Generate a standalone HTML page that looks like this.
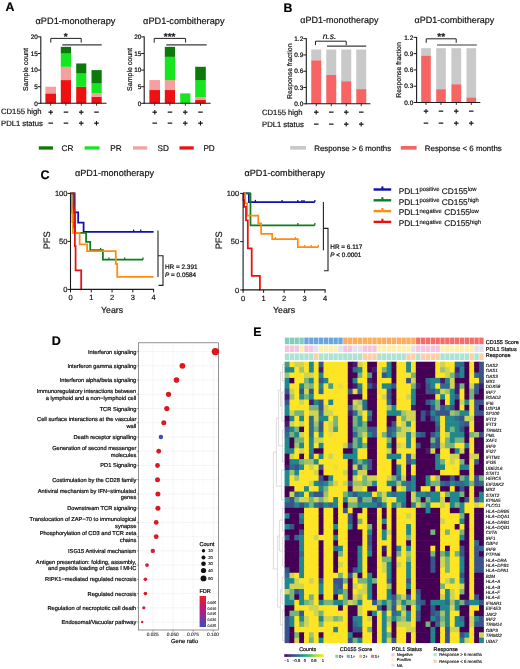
<!DOCTYPE html>
<html lang="en"><head><meta charset="utf-8"><title>Figure</title>
<style>html,body{margin:0;padding:0;background:#fff;}body{width:520px;height:669px;overflow:hidden;font-family:"Liberation Sans",Arial,sans-serif;}svg{display:block;}</style>
</head><body>
<svg width="520" height="669" viewBox="0 0 520 669" font-family="'Liberation Sans', Arial, sans-serif" text-rendering="geometricPrecision">
<defs>
<linearGradient id="fdr" x1="0" y1="0" x2="0" y2="1"><stop offset="0" stop-color="#ee1c2e"/><stop offset="0.5" stop-color="#b01c86"/><stop offset="1" stop-color="#3b4cc0"/></linearGradient>
<linearGradient id="vir" x1="0" y1="0" x2="1" y2="0"><stop offset="0.0" stop-color="#440154"/><stop offset="0.1" stop-color="#482878"/><stop offset="0.2" stop-color="#3e4a89"/><stop offset="0.3" stop-color="#31688e"/><stop offset="0.4" stop-color="#26828e"/><stop offset="0.5" stop-color="#1f9e89"/><stop offset="0.6" stop-color="#35b779"/><stop offset="0.7" stop-color="#6dcd59"/><stop offset="0.8" stop-color="#b4de2c"/><stop offset="0.9" stop-color="#dfe318"/><stop offset="1.0" stop-color="#fde725"/></linearGradient>
<filter id="hb" x="-2%" y="-2%" width="104%" height="104%"><feGaussianBlur stdDeviation="0.35"/></filter>
</defs>
<rect width="520" height="669" fill="#ffffff"/>
<text x="5.4" y="11.4" font-size="12.3" text-anchor="start" font-weight="bold" font-style="normal" fill="#000" stroke="#000" stroke-width="0.18" >A</text>
<rect x="45.4" y="93.34" width="10.6" height="10.01" fill="#ee1111" />
<rect x="45.4" y="86.7" width="10.6" height="6.69" fill="#f5a0a0" />
<rect x="60.8" y="80.06" width="10.2" height="23.29" fill="#ee1111" />
<rect x="60.8" y="66.78" width="10.2" height="13.33" fill="#f5a0a0" />
<rect x="60.8" y="53.5" width="10.2" height="13.33" fill="#15e61f" />
<rect x="60.8" y="46.86" width="10.2" height="6.69" fill="#0b7a0b" />
<rect x="76.2" y="86.7" width="10.1" height="16.65" fill="#ee1111" />
<rect x="76.2" y="73.42" width="10.1" height="13.33" fill="#15e61f" />
<rect x="76.2" y="63.46" width="10.1" height="10.01" fill="#0b7a0b" />
<rect x="91.5" y="96.66" width="10.2" height="6.69" fill="#ee1111" />
<rect x="91.5" y="93.34" width="10.2" height="3.37" fill="#f5a0a0" />
<rect x="91.5" y="83.38" width="10.2" height="10.01" fill="#15e61f" />
<rect x="91.5" y="70.1" width="10.2" height="13.33" fill="#0b7a0b" />
<line x1="40.8" y1="36.6" x2="40.8" y2="103.8" stroke="#1a1a1a" stroke-width="1.1" />
<line x1="40.3" y1="103.3" x2="106.5" y2="103.3" stroke="#1a1a1a" stroke-width="1.1" />
<line x1="37.8" y1="103.3" x2="40.8" y2="103.3" stroke="#1a1a1a" stroke-width="1.0" />
<text x="37.8" y="105.5" font-size="6.4" text-anchor="end" font-weight="normal" font-style="normal" fill="#111" stroke="#111" stroke-width="0.22" >0</text>
<line x1="37.8" y1="86.7" x2="40.8" y2="86.7" stroke="#1a1a1a" stroke-width="1.0" />
<text x="37.8" y="88.9" font-size="6.4" text-anchor="end" font-weight="normal" font-style="normal" fill="#111" stroke="#111" stroke-width="0.22" >5</text>
<line x1="37.8" y1="70.1" x2="40.8" y2="70.1" stroke="#1a1a1a" stroke-width="1.0" />
<text x="37.8" y="72.3" font-size="6.4" text-anchor="end" font-weight="normal" font-style="normal" fill="#111" stroke="#111" stroke-width="0.22" >10</text>
<line x1="37.8" y1="53.5" x2="40.8" y2="53.5" stroke="#1a1a1a" stroke-width="1.0" />
<text x="37.8" y="55.7" font-size="6.4" text-anchor="end" font-weight="normal" font-style="normal" fill="#111" stroke="#111" stroke-width="0.22" >15</text>
<line x1="37.8" y1="36.9" x2="40.8" y2="36.9" stroke="#1a1a1a" stroke-width="1.0" />
<text x="37.8" y="39.1" font-size="6.4" text-anchor="end" font-weight="normal" font-style="normal" fill="#111" stroke="#111" stroke-width="0.22" >20</text>
<line x1="50.7" y1="103.3" x2="50.7" y2="105.7" stroke="#1a1a1a" stroke-width="0.9" />
<line x1="65.9" y1="103.3" x2="65.9" y2="105.7" stroke="#1a1a1a" stroke-width="0.9" />
<line x1="81.25" y1="103.3" x2="81.25" y2="105.7" stroke="#1a1a1a" stroke-width="0.9" />
<line x1="96.6" y1="103.3" x2="96.6" y2="105.7" stroke="#1a1a1a" stroke-width="0.9" />
<text transform="translate(28.2 69.5) rotate(-90)" font-size="7.0" text-anchor="middle" fill="#111" stroke="#111" stroke-width="0.18">Sample count</text>
<text x="75.5" y="23.5" font-size="9.2" text-anchor="middle" font-weight="normal" font-style="normal" fill="#111" stroke="#111" stroke-width="0.18" >αPD1-monotherapy</text>
<path d="M50.8 42.6 V38.4 H81.2 V42.6" stroke="#222" stroke-width="1.0" fill="none" />
<text x="65.8" y="39.7" font-size="10" text-anchor="middle" font-weight="bold" font-style="normal" fill="#111" stroke="#111" stroke-width="0.18" >*</text>
<line x1="62.3" y1="44.8" x2="101.7" y2="44.8" stroke="#3a3a3a" stroke-width="1.2" />
<text x="50.7" y="114.7" font-size="8.5" text-anchor="middle" font-weight="bold" font-style="normal" fill="#111" stroke="#111" stroke-width="0.18" >+</text>
<text x="65.9" y="114.7" font-size="8.5" text-anchor="middle" font-weight="bold" font-style="normal" fill="#111" stroke="#111" stroke-width="0.18" >−</text>
<text x="81.25" y="114.7" font-size="8.5" text-anchor="middle" font-weight="bold" font-style="normal" fill="#111" stroke="#111" stroke-width="0.18" >+</text>
<text x="96.6" y="114.7" font-size="8.5" text-anchor="middle" font-weight="bold" font-style="normal" fill="#111" stroke="#111" stroke-width="0.18" >−</text>
<text x="50.7" y="126.4" font-size="8.5" text-anchor="middle" font-weight="bold" font-style="normal" fill="#111" stroke="#111" stroke-width="0.18" >−</text>
<text x="65.9" y="126.4" font-size="8.5" text-anchor="middle" font-weight="bold" font-style="normal" fill="#111" stroke="#111" stroke-width="0.18" >−</text>
<text x="81.25" y="126.4" font-size="8.5" text-anchor="middle" font-weight="bold" font-style="normal" fill="#111" stroke="#111" stroke-width="0.18" >+</text>
<text x="96.6" y="126.4" font-size="8.5" text-anchor="middle" font-weight="bold" font-style="normal" fill="#111" stroke="#111" stroke-width="0.18" >+</text>
<rect x="149.4" y="90.02" width="10.6" height="13.33" fill="#ee1111" />
<rect x="149.4" y="80.06" width="10.6" height="10.01" fill="#f5a0a0" />
<rect x="164.8" y="90.02" width="10.2" height="13.33" fill="#ee1111" />
<rect x="164.8" y="80.06" width="10.2" height="10.01" fill="#f5a0a0" />
<rect x="164.8" y="56.82" width="10.2" height="23.29" fill="#15e61f" />
<rect x="164.8" y="46.86" width="10.2" height="10.01" fill="#0b7a0b" />
<rect x="180.2" y="93.34" width="10.2" height="10.01" fill="#15e61f" />
<rect x="195.2" y="99.98" width="10.6" height="3.37" fill="#ee1111" />
<rect x="195.2" y="97.32" width="10.6" height="2.71" fill="#f5a0a0" />
<rect x="195.2" y="80.06" width="10.6" height="17.31" fill="#15e61f" />
<rect x="195.2" y="66.78" width="10.6" height="13.33" fill="#0b7a0b" />
<line x1="144.2" y1="36.6" x2="144.2" y2="103.8" stroke="#1a1a1a" stroke-width="1.1" />
<line x1="143.7" y1="103.3" x2="210.6" y2="103.3" stroke="#1a1a1a" stroke-width="1.1" />
<line x1="141.2" y1="103.3" x2="144.2" y2="103.3" stroke="#1a1a1a" stroke-width="1.0" />
<text x="141.3" y="105.5" font-size="6.4" text-anchor="end" font-weight="normal" font-style="normal" fill="#111" stroke="#111" stroke-width="0.22" >0</text>
<line x1="141.2" y1="86.7" x2="144.2" y2="86.7" stroke="#1a1a1a" stroke-width="1.0" />
<text x="141.3" y="88.9" font-size="6.4" text-anchor="end" font-weight="normal" font-style="normal" fill="#111" stroke="#111" stroke-width="0.22" >5</text>
<line x1="141.2" y1="70.1" x2="144.2" y2="70.1" stroke="#1a1a1a" stroke-width="1.0" />
<text x="141.3" y="72.3" font-size="6.4" text-anchor="end" font-weight="normal" font-style="normal" fill="#111" stroke="#111" stroke-width="0.22" >10</text>
<line x1="141.2" y1="53.5" x2="144.2" y2="53.5" stroke="#1a1a1a" stroke-width="1.0" />
<text x="141.3" y="55.7" font-size="6.4" text-anchor="end" font-weight="normal" font-style="normal" fill="#111" stroke="#111" stroke-width="0.22" >15</text>
<line x1="141.2" y1="36.9" x2="144.2" y2="36.9" stroke="#1a1a1a" stroke-width="1.0" />
<text x="141.3" y="39.1" font-size="6.4" text-anchor="end" font-weight="normal" font-style="normal" fill="#111" stroke="#111" stroke-width="0.22" >20</text>
<line x1="154.7" y1="103.3" x2="154.7" y2="105.7" stroke="#1a1a1a" stroke-width="0.9" />
<line x1="169.9" y1="103.3" x2="169.9" y2="105.7" stroke="#1a1a1a" stroke-width="0.9" />
<line x1="185.3" y1="103.3" x2="185.3" y2="105.7" stroke="#1a1a1a" stroke-width="0.9" />
<line x1="200.5" y1="103.3" x2="200.5" y2="105.7" stroke="#1a1a1a" stroke-width="0.9" />
<text transform="translate(131.6 69.5) rotate(-90)" font-size="7.0" text-anchor="middle" fill="#111" stroke="#111" stroke-width="0.18">Sample count</text>
<text x="183.8" y="23.5" font-size="9.2" text-anchor="middle" font-weight="normal" font-style="normal" fill="#111" stroke="#111" stroke-width="0.18" >αPD1-combitherapy</text>
<path d="M154.2 42.6 V38.4 H185.6 V42.6" stroke="#222" stroke-width="1.0" fill="none" />
<text x="169.6" y="39.7" font-size="10" text-anchor="middle" font-weight="bold" font-style="normal" fill="#111" stroke="#111" stroke-width="0.18" >***</text>
<line x1="166.3" y1="44.8" x2="206.7" y2="44.8" stroke="#3a3a3a" stroke-width="1.2" />
<text x="154.7" y="114.7" font-size="8.5" text-anchor="middle" font-weight="bold" font-style="normal" fill="#111" stroke="#111" stroke-width="0.18" >+</text>
<text x="169.9" y="114.7" font-size="8.5" text-anchor="middle" font-weight="bold" font-style="normal" fill="#111" stroke="#111" stroke-width="0.18" >−</text>
<text x="185.3" y="114.7" font-size="8.5" text-anchor="middle" font-weight="bold" font-style="normal" fill="#111" stroke="#111" stroke-width="0.18" >+</text>
<text x="200.5" y="114.7" font-size="8.5" text-anchor="middle" font-weight="bold" font-style="normal" fill="#111" stroke="#111" stroke-width="0.18" >−</text>
<text x="154.7" y="126.4" font-size="8.5" text-anchor="middle" font-weight="bold" font-style="normal" fill="#111" stroke="#111" stroke-width="0.18" >−</text>
<text x="169.9" y="126.4" font-size="8.5" text-anchor="middle" font-weight="bold" font-style="normal" fill="#111" stroke="#111" stroke-width="0.18" >−</text>
<text x="185.3" y="126.4" font-size="8.5" text-anchor="middle" font-weight="bold" font-style="normal" fill="#111" stroke="#111" stroke-width="0.18" >+</text>
<text x="200.5" y="126.4" font-size="8.5" text-anchor="middle" font-weight="bold" font-style="normal" fill="#111" stroke="#111" stroke-width="0.18" >+</text>
<text x="1" y="114.4" font-size="7.7" text-anchor="start" font-weight="normal" font-style="normal" fill="#111" stroke="#111" stroke-width="0.18" >CD155 high</text>
<text x="1" y="126.4" font-size="7.7" text-anchor="start" font-weight="normal" font-style="normal" fill="#111" stroke="#111" stroke-width="0.18" >PDL1 status</text>
<rect x="38.8" y="146.3" width="14.2" height="3.3" fill="#0b7a0b" />
<text x="61.6" y="151.2" font-size="8.2" text-anchor="start" font-weight="normal" font-style="normal" fill="#111" stroke="#111" stroke-width="0.18" >CR</text>
<rect x="84.6" y="146.3" width="15" height="3.3" fill="#15e61f" />
<text x="110.2" y="151.2" font-size="8.2" text-anchor="start" font-weight="normal" font-style="normal" fill="#111" stroke="#111" stroke-width="0.18" >PR</text>
<rect x="133" y="146.3" width="14.2" height="3.3" fill="#f5a0a0" />
<text x="157.6" y="151.2" font-size="8.2" text-anchor="start" font-weight="normal" font-style="normal" fill="#111" stroke="#111" stroke-width="0.18" >SD</text>
<rect x="179.5" y="146.3" width="14.2" height="3.3" fill="#ee1111" />
<text x="203.4" y="151.2" font-size="8.2" text-anchor="start" font-weight="normal" font-style="normal" fill="#111" stroke="#111" stroke-width="0.18" >PD</text>
<text x="283.4" y="11.8" font-size="12.3" text-anchor="start" font-weight="bold" font-style="normal" fill="#000" stroke="#000" stroke-width="0.18" >B</text>
<rect x="311.25" y="49.5" width="10" height="10.96" fill="#c9c9c9" />
<rect x="311.25" y="60.36" width="10" height="43.44" fill="#f76464" />
<rect x="326.25" y="49.5" width="10" height="25.62" fill="#c9c9c9" />
<rect x="326.25" y="75.02" width="10" height="28.78" fill="#f76464" />
<rect x="341.25" y="49.5" width="10" height="31.87" fill="#c9c9c9" />
<rect x="341.25" y="81.27" width="10" height="22.53" fill="#f76464" />
<rect x="356.25" y="49.5" width="10" height="39.74" fill="#c9c9c9" />
<rect x="356.25" y="89.14" width="10" height="14.66" fill="#f76464" />
<line x1="306.3" y1="38.24" x2="306.3" y2="104.3" stroke="#1a1a1a" stroke-width="1.1" />
<line x1="305.8" y1="103.8" x2="370.45" y2="103.8" stroke="#1a1a1a" stroke-width="1.1" />
<line x1="303.3" y1="103.8" x2="306.3" y2="103.8" stroke="#1a1a1a" stroke-width="1.0" />
<text x="303.2" y="106" font-size="6.4" text-anchor="end" font-weight="normal" font-style="normal" fill="#111" stroke="#111" stroke-width="0.22" >0.0</text>
<line x1="303.3" y1="87.51" x2="306.3" y2="87.51" stroke="#1a1a1a" stroke-width="1.0" />
<text x="303.2" y="89.71" font-size="6.4" text-anchor="end" font-weight="normal" font-style="normal" fill="#111" stroke="#111" stroke-width="0.22" >0.3</text>
<line x1="303.3" y1="71.22" x2="306.3" y2="71.22" stroke="#1a1a1a" stroke-width="1.0" />
<text x="303.2" y="73.42" font-size="6.4" text-anchor="end" font-weight="normal" font-style="normal" fill="#111" stroke="#111" stroke-width="0.22" >0.6</text>
<line x1="303.3" y1="54.93" x2="306.3" y2="54.93" stroke="#1a1a1a" stroke-width="1.0" />
<text x="303.2" y="57.13" font-size="6.4" text-anchor="end" font-weight="normal" font-style="normal" fill="#111" stroke="#111" stroke-width="0.22" >0.9</text>
<line x1="303.3" y1="38.64" x2="306.3" y2="38.64" stroke="#1a1a1a" stroke-width="1.0" />
<text x="303.2" y="40.84" font-size="6.4" text-anchor="end" font-weight="normal" font-style="normal" fill="#111" stroke="#111" stroke-width="0.22" >1.2</text>
<line x1="316.25" y1="103.8" x2="316.25" y2="106.2" stroke="#1a1a1a" stroke-width="0.9" />
<line x1="331.25" y1="103.8" x2="331.25" y2="106.2" stroke="#1a1a1a" stroke-width="0.9" />
<line x1="346.25" y1="103.8" x2="346.25" y2="106.2" stroke="#1a1a1a" stroke-width="0.9" />
<line x1="361.25" y1="103.8" x2="361.25" y2="106.2" stroke="#1a1a1a" stroke-width="0.9" />
<text transform="translate(292.4 71.3) rotate(-90)" font-size="6.9" text-anchor="middle" fill="#111" stroke="#111" stroke-width="0.18">Response fraction</text>
<text x="339.3" y="23" font-size="9.0" text-anchor="middle" font-weight="normal" font-style="normal" fill="#111" stroke="#111" stroke-width="0.18" >αPD1-monotherapy</text>
<path d="M315.5 45.2 V41.2 H346.2 V45.2" stroke="#222" stroke-width="1.0" fill="none" />
<text x="329.5" y="39" font-size="8.5" text-anchor="middle" font-weight="normal" font-style="italic" fill="#111" stroke="#111" stroke-width="0.18" >n.s.</text>
<line x1="327" y1="46.2" x2="366.2" y2="46.2" stroke="#3a3a3a" stroke-width="1.2" />
<text x="316.25" y="115.2" font-size="8.5" text-anchor="middle" font-weight="bold" font-style="normal" fill="#111" stroke="#111" stroke-width="0.18" >+</text>
<text x="331.25" y="115.2" font-size="8.5" text-anchor="middle" font-weight="bold" font-style="normal" fill="#111" stroke="#111" stroke-width="0.18" >−</text>
<text x="346.25" y="115.2" font-size="8.5" text-anchor="middle" font-weight="bold" font-style="normal" fill="#111" stroke="#111" stroke-width="0.18" >+</text>
<text x="361.25" y="115.2" font-size="8.5" text-anchor="middle" font-weight="bold" font-style="normal" fill="#111" stroke="#111" stroke-width="0.18" >−</text>
<text x="316.25" y="126.8" font-size="8.5" text-anchor="middle" font-weight="bold" font-style="normal" fill="#111" stroke="#111" stroke-width="0.18" >−</text>
<text x="331.25" y="126.8" font-size="8.5" text-anchor="middle" font-weight="bold" font-style="normal" fill="#111" stroke="#111" stroke-width="0.18" >−</text>
<text x="346.25" y="126.8" font-size="8.5" text-anchor="middle" font-weight="bold" font-style="normal" fill="#111" stroke="#111" stroke-width="0.18" >+</text>
<text x="361.25" y="126.8" font-size="8.5" text-anchor="middle" font-weight="bold" font-style="normal" fill="#111" stroke="#111" stroke-width="0.18" >+</text>
<rect x="421.2" y="48.2" width="9.6" height="7.7" fill="#c9c9c9" />
<rect x="421.2" y="55.8" width="9.6" height="46.7" fill="#f76464" />
<rect x="436.2" y="48.2" width="9.6" height="41.1" fill="#c9c9c9" />
<rect x="436.2" y="89.2" width="9.6" height="13.3" fill="#f76464" />
<rect x="451.4" y="48.2" width="9.8" height="36.21" fill="#c9c9c9" />
<rect x="451.4" y="84.31" width="9.8" height="18.19" fill="#f76464" />
<rect x="466.5" y="48.2" width="9.6" height="49.51" fill="#c9c9c9" />
<rect x="466.5" y="97.61" width="9.6" height="4.89" fill="#f76464" />
<line x1="416.6" y1="36.94" x2="416.6" y2="103" stroke="#1a1a1a" stroke-width="1.1" />
<line x1="416.1" y1="102.5" x2="480.3" y2="102.5" stroke="#1a1a1a" stroke-width="1.1" />
<line x1="413.6" y1="102.5" x2="416.6" y2="102.5" stroke="#1a1a1a" stroke-width="1.0" />
<text x="413.2" y="104.7" font-size="6.4" text-anchor="end" font-weight="normal" font-style="normal" fill="#111" stroke="#111" stroke-width="0.22" >0.0</text>
<line x1="413.6" y1="86.21" x2="416.6" y2="86.21" stroke="#1a1a1a" stroke-width="1.0" />
<text x="413.2" y="88.41" font-size="6.4" text-anchor="end" font-weight="normal" font-style="normal" fill="#111" stroke="#111" stroke-width="0.22" >0.3</text>
<line x1="413.6" y1="69.92" x2="416.6" y2="69.92" stroke="#1a1a1a" stroke-width="1.0" />
<text x="413.2" y="72.12" font-size="6.4" text-anchor="end" font-weight="normal" font-style="normal" fill="#111" stroke="#111" stroke-width="0.22" >0.6</text>
<line x1="413.6" y1="53.63" x2="416.6" y2="53.63" stroke="#1a1a1a" stroke-width="1.0" />
<text x="413.2" y="55.83" font-size="6.4" text-anchor="end" font-weight="normal" font-style="normal" fill="#111" stroke="#111" stroke-width="0.22" >0.9</text>
<line x1="413.6" y1="37.34" x2="416.6" y2="37.34" stroke="#1a1a1a" stroke-width="1.0" />
<text x="413.2" y="39.54" font-size="6.4" text-anchor="end" font-weight="normal" font-style="normal" fill="#111" stroke="#111" stroke-width="0.22" >1.2</text>
<line x1="426" y1="102.5" x2="426" y2="104.9" stroke="#1a1a1a" stroke-width="0.9" />
<line x1="441" y1="102.5" x2="441" y2="104.9" stroke="#1a1a1a" stroke-width="0.9" />
<line x1="456.3" y1="102.5" x2="456.3" y2="104.9" stroke="#1a1a1a" stroke-width="0.9" />
<line x1="471.3" y1="102.5" x2="471.3" y2="104.9" stroke="#1a1a1a" stroke-width="0.9" />
<text transform="translate(401.2 70) rotate(-90)" font-size="6.9" text-anchor="middle" fill="#111" stroke="#111" stroke-width="0.18">Response fraction</text>
<text x="454.4" y="23" font-size="9.0" text-anchor="middle" font-weight="normal" font-style="normal" fill="#111" stroke="#111" stroke-width="0.18" >αPD1-combitherapy</text>
<path d="M426.2 42.8 V38.8 H456.2 V42.8" stroke="#222" stroke-width="1.0" fill="none" />
<text x="441.2" y="39.7" font-size="10" text-anchor="middle" font-weight="bold" font-style="normal" fill="#111" stroke="#111" stroke-width="0.18" >**</text>
<line x1="437" y1="45" x2="476.8" y2="45" stroke="#3a3a3a" stroke-width="1.2" />
<text x="426" y="114.2" font-size="8.5" text-anchor="middle" font-weight="bold" font-style="normal" fill="#111" stroke="#111" stroke-width="0.18" >+</text>
<text x="441" y="114.2" font-size="8.5" text-anchor="middle" font-weight="bold" font-style="normal" fill="#111" stroke="#111" stroke-width="0.18" >−</text>
<text x="456.3" y="114.2" font-size="8.5" text-anchor="middle" font-weight="bold" font-style="normal" fill="#111" stroke="#111" stroke-width="0.18" >+</text>
<text x="471.3" y="114.2" font-size="8.5" text-anchor="middle" font-weight="bold" font-style="normal" fill="#111" stroke="#111" stroke-width="0.18" >−</text>
<text x="426" y="126" font-size="8.5" text-anchor="middle" font-weight="bold" font-style="normal" fill="#111" stroke="#111" stroke-width="0.18" >−</text>
<text x="441" y="126" font-size="8.5" text-anchor="middle" font-weight="bold" font-style="normal" fill="#111" stroke="#111" stroke-width="0.18" >−</text>
<text x="456.3" y="126" font-size="8.5" text-anchor="middle" font-weight="bold" font-style="normal" fill="#111" stroke="#111" stroke-width="0.18" >+</text>
<text x="471.3" y="126" font-size="8.5" text-anchor="middle" font-weight="bold" font-style="normal" fill="#111" stroke="#111" stroke-width="0.18" >+</text>
<text x="262" y="115" font-size="7.7" text-anchor="start" font-weight="normal" font-style="normal" fill="#111" stroke="#111" stroke-width="0.18" >CD155 high</text>
<text x="262" y="127" font-size="7.7" text-anchor="start" font-weight="normal" font-style="normal" fill="#111" stroke="#111" stroke-width="0.18" >PDL1 status</text>
<rect x="290.2" y="146" width="15.8" height="3.7" fill="#c9c9c9" />
<text x="314.2" y="151" font-size="7.9" text-anchor="start" font-weight="normal" font-style="normal" fill="#111" stroke="#111" stroke-width="0.18" >Response &gt; 6 months</text>
<rect x="400.8" y="146" width="15.8" height="3.7" fill="#f76464" />
<text x="424.8" y="151" font-size="7.9" text-anchor="start" font-weight="normal" font-style="normal" fill="#111" stroke="#111" stroke-width="0.18" >Response &lt; 6 months</text>
<text x="40.5" y="178.8" font-size="12.5" text-anchor="start" font-weight="bold" font-style="normal" fill="#000" stroke="#000" stroke-width="0.18" >C</text>
<path d="M70.5 193.4 H74.65 V212.31 H78.18 V222.58 H83.59 V231.8 H153.58" stroke="#1111aa" stroke-width="1.75" fill="none" stroke-linejoin="miter"/>
<line x1="133.64" y1="231.8" x2="133.64" y2="229.6" stroke="#1111aa" stroke-width="1.3" />
<line x1="140.7" y1="231.8" x2="140.7" y2="229.6" stroke="#1111aa" stroke-width="1.3" />
<path d="M70.5 193.4 H73.41 V212.6 H75.07 V232.76 H86.08 V241.78 H90.23 V250.04 H102.9 V259.64 H142.99" stroke="#0f7d1a" stroke-width="1.75" fill="none" stroke-linejoin="miter"/>
<line x1="100.62" y1="250.04" x2="100.62" y2="247.84" stroke="#0f7d1a" stroke-width="1.3" />
<line x1="108.92" y1="259.64" x2="108.92" y2="257.44" stroke="#0f7d1a" stroke-width="1.3" />
<line x1="124.71" y1="259.64" x2="124.71" y2="257.44" stroke="#0f7d1a" stroke-width="1.3" />
<line x1="142.99" y1="259.64" x2="142.99" y2="257.44" stroke="#0f7d1a" stroke-width="1.3" />
<path d="M70.5 193.4 H71.12 V203 H71.75 V212.6 H72.37 V222.2 H72.99 V232.76 H79.64 V244.28 H87.12 V251 H115.78 V263.86 H117.23 V276.92 H153.58" stroke="#ff8c10" stroke-width="1.75" fill="none" stroke-linejoin="miter"/>
<path d="M70.5 193.4 H73.62 V207.8 H74.24 V227 H74.86 V246.2 H75.59 V270.49 H81.2 V289.4 H81.3" stroke="#e81010" stroke-width="1.75" fill="none" stroke-linejoin="miter"/>
<line x1="70.5" y1="192.9" x2="70.5" y2="289.9" stroke="#1a1a1a" stroke-width="1.1" />
<line x1="70" y1="289.4" x2="154.08" y2="289.4" stroke="#1a1a1a" stroke-width="1.1" />
<line x1="67.5" y1="289.4" x2="70.5" y2="289.4" stroke="#1a1a1a" stroke-width="1.0" />
<text x="67.4" y="292" font-size="7.5" text-anchor="end" font-weight="normal" font-style="normal" fill="#111" stroke="#111" stroke-width="0.18" >0</text>
<line x1="67.5" y1="241.4" x2="70.5" y2="241.4" stroke="#1a1a1a" stroke-width="1.0" />
<text x="67.4" y="244" font-size="7.5" text-anchor="end" font-weight="normal" font-style="normal" fill="#111" stroke="#111" stroke-width="0.18" >50</text>
<line x1="67.5" y1="193.4" x2="70.5" y2="193.4" stroke="#1a1a1a" stroke-width="1.0" />
<text x="67.4" y="196" font-size="7.5" text-anchor="end" font-weight="normal" font-style="normal" fill="#111" stroke="#111" stroke-width="0.18" >100</text>
<line x1="70.5" y1="289.4" x2="70.5" y2="292.4" stroke="#1a1a1a" stroke-width="1.0" />
<text x="70.5" y="300" font-size="7.5" text-anchor="middle" font-weight="normal" font-style="normal" fill="#111" stroke="#111" stroke-width="0.18" >0</text>
<line x1="91.27" y1="289.4" x2="91.27" y2="292.4" stroke="#1a1a1a" stroke-width="1.0" />
<text x="91.27" y="300" font-size="7.5" text-anchor="middle" font-weight="normal" font-style="normal" fill="#111" stroke="#111" stroke-width="0.18" >1</text>
<line x1="112.04" y1="289.4" x2="112.04" y2="292.4" stroke="#1a1a1a" stroke-width="1.0" />
<text x="112.04" y="300" font-size="7.5" text-anchor="middle" font-weight="normal" font-style="normal" fill="#111" stroke="#111" stroke-width="0.18" >2</text>
<line x1="132.81" y1="289.4" x2="132.81" y2="292.4" stroke="#1a1a1a" stroke-width="1.0" />
<text x="132.81" y="300" font-size="7.5" text-anchor="middle" font-weight="normal" font-style="normal" fill="#111" stroke="#111" stroke-width="0.18" >3</text>
<line x1="153.58" y1="289.4" x2="153.58" y2="292.4" stroke="#1a1a1a" stroke-width="1.0" />
<text x="153.58" y="300" font-size="7.5" text-anchor="middle" font-weight="normal" font-style="normal" fill="#111" stroke="#111" stroke-width="0.18" >4</text>
<text x="112.04" y="312.9" font-size="8.8" text-anchor="middle" font-weight="normal" font-style="normal" fill="#111" stroke="#111" stroke-width="0.18" >Years</text>
<text transform="translate(49.5 240.3) rotate(-90)" font-size="9.3" text-anchor="middle" fill="#111" stroke="#111" stroke-width="0.18">PFS</text>
<text x="114.5" y="176" font-size="9.1" text-anchor="middle" font-weight="normal" font-style="normal" fill="#111" stroke="#111" stroke-width="0.18" >αPD1-monotherapy</text>
<path d="M243.1 193.4 H248.84 V202.08 H314.85" stroke="#1111aa" stroke-width="1.75" fill="none" stroke-linejoin="miter"/>
<line x1="255.4" y1="202.08" x2="255.4" y2="199.88" stroke="#1111aa" stroke-width="1.3" />
<line x1="282.05" y1="202.08" x2="282.05" y2="199.88" stroke="#1111aa" stroke-width="1.3" />
<line x1="297.83" y1="202.08" x2="297.83" y2="199.88" stroke="#1111aa" stroke-width="1.3" />
<line x1="301.94" y1="202.08" x2="301.94" y2="199.88" stroke="#1111aa" stroke-width="1.3" />
<line x1="303.99" y1="202.08" x2="303.99" y2="199.88" stroke="#1111aa" stroke-width="1.3" />
<line x1="314.85" y1="202.08" x2="314.85" y2="199.88" stroke="#1111aa" stroke-width="1.3" />
<path d="M243.1 193.4 H250.48 V225.25 H314.85" stroke="#0f7d1a" stroke-width="1.75" fill="none" stroke-linejoin="miter"/>
<line x1="297.83" y1="225.25" x2="297.83" y2="223.05" stroke="#0f7d1a" stroke-width="1.3" />
<line x1="314.85" y1="225.25" x2="314.85" y2="223.05" stroke="#0f7d1a" stroke-width="1.3" />
<path d="M243.1 193.4 H245.15 V203.05 H247.2 V215.59 H258.27 V223.31 H261.14 V233.93 H272.21 V239.14 H297.83 V247.05 H318.33" stroke="#ff8c10" stroke-width="1.75" fill="none" stroke-linejoin="miter"/>
<line x1="275.49" y1="239.14" x2="275.49" y2="236.94" stroke="#ff8c10" stroke-width="1.3" />
<line x1="295.38" y1="239.14" x2="295.38" y2="236.94" stroke="#ff8c10" stroke-width="1.3" />
<line x1="304.6" y1="247.05" x2="304.6" y2="244.85" stroke="#ff8c10" stroke-width="1.3" />
<line x1="311.16" y1="247.05" x2="311.16" y2="244.85" stroke="#ff8c10" stroke-width="1.3" />
<line x1="318.33" y1="247.05" x2="318.33" y2="244.85" stroke="#ff8c10" stroke-width="1.3" />
<path d="M243.1 193.4 H243.51 V200.16 H244.12 V206.91 H245.97 V220.42 H247.81 V248.4 H251.71 V275.91 H259.91 V289.9 H260.32" stroke="#e81010" stroke-width="1.75" fill="none" stroke-linejoin="miter"/>
<line x1="243.1" y1="192.9" x2="243.1" y2="290.4" stroke="#1a1a1a" stroke-width="1.1" />
<line x1="242.6" y1="289.9" x2="325.6" y2="289.9" stroke="#1a1a1a" stroke-width="1.1" />
<line x1="240.1" y1="289.9" x2="243.1" y2="289.9" stroke="#1a1a1a" stroke-width="1.0" />
<text x="239.2" y="292.5" font-size="7.5" text-anchor="end" font-weight="normal" font-style="normal" fill="#111" stroke="#111" stroke-width="0.18" >0</text>
<line x1="240.1" y1="241.65" x2="243.1" y2="241.65" stroke="#1a1a1a" stroke-width="1.0" />
<text x="239.2" y="244.25" font-size="7.5" text-anchor="end" font-weight="normal" font-style="normal" fill="#111" stroke="#111" stroke-width="0.18" >50</text>
<line x1="240.1" y1="193.4" x2="243.1" y2="193.4" stroke="#1a1a1a" stroke-width="1.0" />
<text x="239.2" y="196" font-size="7.5" text-anchor="end" font-weight="normal" font-style="normal" fill="#111" stroke="#111" stroke-width="0.18" >100</text>
<line x1="243.1" y1="289.9" x2="243.1" y2="292.9" stroke="#1a1a1a" stroke-width="1.0" />
<text x="243.1" y="300.5" font-size="7.5" text-anchor="middle" font-weight="normal" font-style="normal" fill="#111" stroke="#111" stroke-width="0.18" >0</text>
<line x1="263.6" y1="289.9" x2="263.6" y2="292.9" stroke="#1a1a1a" stroke-width="1.0" />
<text x="263.6" y="300.5" font-size="7.5" text-anchor="middle" font-weight="normal" font-style="normal" fill="#111" stroke="#111" stroke-width="0.18" >1</text>
<line x1="284.1" y1="289.9" x2="284.1" y2="292.9" stroke="#1a1a1a" stroke-width="1.0" />
<text x="284.1" y="300.5" font-size="7.5" text-anchor="middle" font-weight="normal" font-style="normal" fill="#111" stroke="#111" stroke-width="0.18" >2</text>
<line x1="304.6" y1="289.9" x2="304.6" y2="292.9" stroke="#1a1a1a" stroke-width="1.0" />
<text x="304.6" y="300.5" font-size="7.5" text-anchor="middle" font-weight="normal" font-style="normal" fill="#111" stroke="#111" stroke-width="0.18" >3</text>
<line x1="325.1" y1="289.9" x2="325.1" y2="292.9" stroke="#1a1a1a" stroke-width="1.0" />
<text x="325.1" y="300.5" font-size="7.5" text-anchor="middle" font-weight="normal" font-style="normal" fill="#111" stroke="#111" stroke-width="0.18" >4</text>
<text x="284.1" y="313.4" font-size="8.8" text-anchor="middle" font-weight="normal" font-style="normal" fill="#111" stroke="#111" stroke-width="0.18" >Years</text>
<text transform="translate(221.5 240.3) rotate(-90)" font-size="9.3" text-anchor="middle" fill="#111" stroke="#111" stroke-width="0.18">PFS</text>
<text x="284.8" y="176" font-size="9.1" text-anchor="middle" font-weight="normal" font-style="normal" fill="#111" stroke="#111" stroke-width="0.18" >αPD1-combitherapy</text>
<line x1="158" y1="230.5" x2="158" y2="277" stroke="#222" stroke-width="1.1" />
<path d="M158 255.7 H163 V285.4 H158.5" stroke="#222" stroke-width="1.1" fill="none" />
<text x="165" y="268.6" font-size="6.4" text-anchor="start" font-weight="normal" font-style="normal" fill="#111" stroke="#111" stroke-width="0.22" >HR = 2.391</text>
<text x="165" y="277.4" font-size="6.4" fill="#111" stroke="#111" stroke-width="0.22"><tspan font-style="italic">P</tspan> = 0.0584</text>
<line x1="323.4" y1="202" x2="323.4" y2="250.2" stroke="#222" stroke-width="1.1" />
<path d="M323.4 228.4 H328 V270.7 H324" stroke="#222" stroke-width="1.1" fill="none" />
<text x="330.3" y="248.6" font-size="6.4" text-anchor="start" font-weight="normal" font-style="normal" fill="#111" stroke="#111" stroke-width="0.22" >HR = 6.117</text>
<text x="330.3" y="257.3" font-size="6.4" fill="#111" stroke="#111" stroke-width="0.22"><tspan font-style="italic">P</tspan> &lt; 0.0001</text>
<line x1="373.6" y1="189.5" x2="391.2" y2="189.5" stroke="#1111aa" stroke-width="2.4" />
<line x1="382.4" y1="189.5" x2="382.4" y2="186.4" stroke="#1111aa" stroke-width="2.1" />
<text x="398.8" y="193.7" font-size="8.3" fill="#111" stroke="#111" stroke-width="0.15">PDL1<tspan font-size="5.9" dy="-2.6">positive</tspan><tspan dy="2.6"> CD155</tspan><tspan font-size="5.9" dy="-2.6">low</tspan></text>
<line x1="373.6" y1="200.3" x2="391.2" y2="200.3" stroke="#0f7d1a" stroke-width="2.4" />
<line x1="382.4" y1="200.3" x2="382.4" y2="197.2" stroke="#0f7d1a" stroke-width="2.1" />
<text x="398.8" y="204.5" font-size="8.3" fill="#111" stroke="#111" stroke-width="0.15">PDL1<tspan font-size="5.9" dy="-2.6">positive</tspan><tspan dy="2.6"> CD155</tspan><tspan font-size="5.9" dy="-2.6">high</tspan></text>
<line x1="373.6" y1="211.1" x2="391.2" y2="211.1" stroke="#ff8c10" stroke-width="2.4" />
<line x1="382.4" y1="211.1" x2="382.4" y2="208" stroke="#ff8c10" stroke-width="2.1" />
<text x="398.8" y="215.3" font-size="8.3" fill="#111" stroke="#111" stroke-width="0.15">PDL1<tspan font-size="5.9" dy="-2.6">negative</tspan><tspan dy="2.6"> CD155</tspan><tspan font-size="5.9" dy="-2.6">low</tspan></text>
<line x1="373.6" y1="221.9" x2="391.2" y2="221.9" stroke="#e81010" stroke-width="2.4" />
<line x1="382.4" y1="221.9" x2="382.4" y2="218.8" stroke="#e81010" stroke-width="2.1" />
<text x="398.8" y="226.1" font-size="8.3" fill="#111" stroke="#111" stroke-width="0.15">PDL1<tspan font-size="5.9" dy="-2.6">negative</tspan><tspan dy="2.6"> CD155</tspan><tspan font-size="5.9" dy="-2.6">high</tspan></text>
<text x="51.8" y="344.7" font-size="12.5" text-anchor="start" font-weight="bold" font-style="normal" fill="#000" stroke="#000" stroke-width="0.18" >D</text>
<rect x="138.5" y="342.8" width="80" height="287.2" fill="#ffffff" />
<line x1="142.95" y1="342.8" x2="142.95" y2="630" stroke="#f5f5f5" stroke-width="0.4" />
<line x1="163.05" y1="342.8" x2="163.05" y2="630" stroke="#f5f5f5" stroke-width="0.4" />
<line x1="183.15" y1="342.8" x2="183.15" y2="630" stroke="#f5f5f5" stroke-width="0.4" />
<line x1="203.25" y1="342.8" x2="203.25" y2="630" stroke="#f5f5f5" stroke-width="0.4" />
<line x1="153" y1="342.8" x2="153" y2="630" stroke="#eeeeee" stroke-width="0.6" />
<line x1="173.1" y1="342.8" x2="173.1" y2="630" stroke="#eeeeee" stroke-width="0.6" />
<line x1="193.2" y1="342.8" x2="193.2" y2="630" stroke="#eeeeee" stroke-width="0.6" />
<line x1="213.3" y1="342.8" x2="213.3" y2="630" stroke="#eeeeee" stroke-width="0.6" />
<line x1="138.5" y1="351.6" x2="218.5" y2="351.6" stroke="#eeeeee" stroke-width="0.6" />
<line x1="138.5" y1="365.84" x2="218.5" y2="365.84" stroke="#eeeeee" stroke-width="0.6" />
<line x1="138.5" y1="380.07" x2="218.5" y2="380.07" stroke="#eeeeee" stroke-width="0.6" />
<line x1="138.5" y1="394.31" x2="218.5" y2="394.31" stroke="#eeeeee" stroke-width="0.6" />
<line x1="138.5" y1="408.54" x2="218.5" y2="408.54" stroke="#eeeeee" stroke-width="0.6" />
<line x1="138.5" y1="422.78" x2="218.5" y2="422.78" stroke="#eeeeee" stroke-width="0.6" />
<line x1="138.5" y1="437.01" x2="218.5" y2="437.01" stroke="#eeeeee" stroke-width="0.6" />
<line x1="138.5" y1="451.25" x2="218.5" y2="451.25" stroke="#eeeeee" stroke-width="0.6" />
<line x1="138.5" y1="465.48" x2="218.5" y2="465.48" stroke="#eeeeee" stroke-width="0.6" />
<line x1="138.5" y1="479.72" x2="218.5" y2="479.72" stroke="#eeeeee" stroke-width="0.6" />
<line x1="138.5" y1="493.95" x2="218.5" y2="493.95" stroke="#eeeeee" stroke-width="0.6" />
<line x1="138.5" y1="508.19" x2="218.5" y2="508.19" stroke="#eeeeee" stroke-width="0.6" />
<line x1="138.5" y1="522.42" x2="218.5" y2="522.42" stroke="#eeeeee" stroke-width="0.6" />
<line x1="138.5" y1="536.65" x2="218.5" y2="536.65" stroke="#eeeeee" stroke-width="0.6" />
<line x1="138.5" y1="550.89" x2="218.5" y2="550.89" stroke="#eeeeee" stroke-width="0.6" />
<line x1="138.5" y1="565.12" x2="218.5" y2="565.12" stroke="#eeeeee" stroke-width="0.6" />
<line x1="138.5" y1="579.36" x2="218.5" y2="579.36" stroke="#eeeeee" stroke-width="0.6" />
<line x1="138.5" y1="593.6" x2="218.5" y2="593.6" stroke="#eeeeee" stroke-width="0.6" />
<line x1="138.5" y1="607.83" x2="218.5" y2="607.83" stroke="#eeeeee" stroke-width="0.6" />
<line x1="138.5" y1="622.07" x2="218.5" y2="622.07" stroke="#eeeeee" stroke-width="0.6" />
<rect x="138.5" y="342.8" width="80.0" height="287.2" fill="none" stroke="#666" stroke-width="0.7"/>
<line x1="136.9" y1="351.6" x2="138.5" y2="351.6" stroke="#444" stroke-width="0.5" />
<text x="136.3" y="353.6" font-size="5.7" text-anchor="end" font-weight="normal" font-style="normal" fill="#111" stroke="#111" stroke-width="0.22" >Interferon signaling</text>
<circle cx="215.4" cy="351.6" r="3.7" fill="#dc181f"/>
<line x1="136.9" y1="365.84" x2="138.5" y2="365.84" stroke="#444" stroke-width="0.5" />
<text x="136.3" y="367.84" font-size="5.7" text-anchor="end" font-weight="normal" font-style="normal" fill="#111" stroke="#111" stroke-width="0.22" >Interferon gamma signaling</text>
<circle cx="182.4" cy="365.84" r="2.9" fill="#dc181f"/>
<line x1="136.9" y1="380.07" x2="138.5" y2="380.07" stroke="#444" stroke-width="0.5" />
<text x="136.3" y="382.07" font-size="5.7" text-anchor="end" font-weight="normal" font-style="normal" fill="#111" stroke="#111" stroke-width="0.22" >Interferon alpha/beta signaling</text>
<circle cx="176.5" cy="380.07" r="2.8" fill="#dc181f"/>
<line x1="136.9" y1="394.31" x2="138.5" y2="394.31" stroke="#444" stroke-width="0.5" />
<text x="136.3" y="393" font-size="5.7" text-anchor="end" font-weight="normal" font-style="normal" fill="#111" stroke="#111" stroke-width="0.22" >Immunoregulatory interactions between</text>
<text x="136.3" y="399.61" font-size="5.7" text-anchor="end" font-weight="normal" font-style="normal" fill="#111" stroke="#111" stroke-width="0.22" >a lymphoid and a non−lymphoid cell</text>
<circle cx="168.5" cy="394.31" r="2.6" fill="#dc181f"/>
<line x1="136.9" y1="408.54" x2="138.5" y2="408.54" stroke="#444" stroke-width="0.5" />
<text x="136.3" y="410.54" font-size="5.7" text-anchor="end" font-weight="normal" font-style="normal" fill="#111" stroke="#111" stroke-width="0.22" >TCR Signaling</text>
<circle cx="166.8" cy="408.54" r="2.6" fill="#dc181f"/>
<line x1="136.9" y1="422.78" x2="138.5" y2="422.78" stroke="#444" stroke-width="0.5" />
<text x="136.3" y="421.48" font-size="5.7" text-anchor="end" font-weight="normal" font-style="normal" fill="#111" stroke="#111" stroke-width="0.22" >Cell surface interactions at the vascular</text>
<text x="136.3" y="428.08" font-size="5.7" text-anchor="end" font-weight="normal" font-style="normal" fill="#111" stroke="#111" stroke-width="0.22" >wall</text>
<circle cx="163.8" cy="422.78" r="2.5" fill="#dc181f"/>
<line x1="136.9" y1="437.01" x2="138.5" y2="437.01" stroke="#444" stroke-width="0.5" />
<text x="136.3" y="439.01" font-size="5.7" text-anchor="end" font-weight="normal" font-style="normal" fill="#111" stroke="#111" stroke-width="0.22" >Death receptor signalling</text>
<circle cx="160.9" cy="437.01" r="2.2" fill="#3f4bb0"/>
<line x1="136.9" y1="451.25" x2="138.5" y2="451.25" stroke="#444" stroke-width="0.5" />
<text x="136.3" y="449.94" font-size="5.7" text-anchor="end" font-weight="normal" font-style="normal" fill="#111" stroke="#111" stroke-width="0.22" >Generation of second messenger</text>
<text x="136.3" y="456.55" font-size="5.7" text-anchor="end" font-weight="normal" font-style="normal" fill="#111" stroke="#111" stroke-width="0.22" >molecules</text>
<circle cx="158.7" cy="451.25" r="2.4" fill="#dc181f"/>
<line x1="136.9" y1="465.48" x2="138.5" y2="465.48" stroke="#444" stroke-width="0.5" />
<text x="136.3" y="467.48" font-size="5.7" text-anchor="end" font-weight="normal" font-style="normal" fill="#111" stroke="#111" stroke-width="0.22" >PD1 Signaling</text>
<circle cx="157.5" cy="465.48" r="2.4" fill="#dc181f"/>
<line x1="136.9" y1="479.72" x2="138.5" y2="479.72" stroke="#444" stroke-width="0.5" />
<text x="136.3" y="481.72" font-size="5.7" text-anchor="end" font-weight="normal" font-style="normal" fill="#111" stroke="#111" stroke-width="0.22" >Costimulation by the CD28 family</text>
<circle cx="157.5" cy="479.72" r="2.5" fill="#dc181f"/>
<line x1="136.9" y1="493.95" x2="138.5" y2="493.95" stroke="#444" stroke-width="0.5" />
<text x="136.3" y="492.65" font-size="5.7" text-anchor="end" font-weight="normal" font-style="normal" fill="#111" stroke="#111" stroke-width="0.22" >Antiviral mechanism by IFN−stimulated</text>
<text x="136.3" y="499.25" font-size="5.7" text-anchor="end" font-weight="normal" font-style="normal" fill="#111" stroke="#111" stroke-width="0.22" >genes</text>
<circle cx="157.9" cy="493.95" r="2.5" fill="#dc181f"/>
<line x1="136.9" y1="508.19" x2="138.5" y2="508.19" stroke="#444" stroke-width="0.5" />
<text x="136.3" y="510.19" font-size="5.7" text-anchor="end" font-weight="normal" font-style="normal" fill="#111" stroke="#111" stroke-width="0.22" >Downstream TCR signaling</text>
<circle cx="157.9" cy="508.19" r="2.5" fill="#dc181f"/>
<line x1="136.9" y1="522.42" x2="138.5" y2="522.42" stroke="#444" stroke-width="0.5" />
<text x="136.3" y="521.12" font-size="5.7" text-anchor="end" font-weight="normal" font-style="normal" fill="#111" stroke="#111" stroke-width="0.22" >Translocation of ZAP−70 to immunological</text>
<text x="136.3" y="527.72" font-size="5.7" text-anchor="end" font-weight="normal" font-style="normal" fill="#111" stroke="#111" stroke-width="0.22" >synapse</text>
<circle cx="156.2" cy="522.42" r="2.4" fill="#dc181f"/>
<line x1="136.9" y1="536.65" x2="138.5" y2="536.65" stroke="#444" stroke-width="0.5" />
<text x="136.3" y="535.36" font-size="5.7" text-anchor="end" font-weight="normal" font-style="normal" fill="#111" stroke="#111" stroke-width="0.22" >Phosphorylation of CD3 and TCR zeta</text>
<text x="136.3" y="541.95" font-size="5.7" text-anchor="end" font-weight="normal" font-style="normal" fill="#111" stroke="#111" stroke-width="0.22" >chains</text>
<circle cx="156.2" cy="536.65" r="2.4" fill="#dc181f"/>
<line x1="136.9" y1="550.89" x2="138.5" y2="550.89" stroke="#444" stroke-width="0.5" />
<text x="136.3" y="552.89" font-size="5.7" text-anchor="end" font-weight="normal" font-style="normal" fill="#111" stroke="#111" stroke-width="0.22" >ISG15 Antiviral mechanism</text>
<circle cx="152.8" cy="550.89" r="2.2" fill="#d81b3c"/>
<line x1="136.9" y1="565.12" x2="138.5" y2="565.12" stroke="#444" stroke-width="0.5" />
<text x="136.3" y="563.83" font-size="5.7" text-anchor="end" font-weight="normal" font-style="normal" fill="#111" stroke="#111" stroke-width="0.22" >Antigen presentation: folding, assembly,</text>
<text x="136.3" y="570.42" font-size="5.7" text-anchor="end" font-weight="normal" font-style="normal" fill="#111" stroke="#111" stroke-width="0.22" >and peptide loading of class I MHC</text>
<circle cx="147" cy="565.12" r="1.9" fill="#d81b3c"/>
<line x1="136.9" y1="579.36" x2="138.5" y2="579.36" stroke="#444" stroke-width="0.5" />
<text x="136.3" y="581.36" font-size="5.7" text-anchor="end" font-weight="normal" font-style="normal" fill="#111" stroke="#111" stroke-width="0.22" >RIPK1−mediated regulated necrosis</text>
<circle cx="145.4" cy="579.36" r="1.8" fill="#dc1c30"/>
<line x1="136.9" y1="593.6" x2="138.5" y2="593.6" stroke="#444" stroke-width="0.5" />
<text x="136.3" y="595.6" font-size="5.7" text-anchor="end" font-weight="normal" font-style="normal" fill="#111" stroke="#111" stroke-width="0.22" >Regulated necrosis</text>
<circle cx="145.4" cy="593.6" r="1.8" fill="#dc181f"/>
<line x1="136.9" y1="607.83" x2="138.5" y2="607.83" stroke="#444" stroke-width="0.5" />
<text x="136.3" y="609.83" font-size="5.7" text-anchor="end" font-weight="normal" font-style="normal" fill="#111" stroke="#111" stroke-width="0.22" >Regulation of necroptotic cell death</text>
<circle cx="143.8" cy="607.83" r="1.6" fill="#d01c48"/>
<line x1="136.9" y1="622.07" x2="138.5" y2="622.07" stroke="#444" stroke-width="0.5" />
<text x="136.3" y="624.07" font-size="5.7" text-anchor="end" font-weight="normal" font-style="normal" fill="#111" stroke="#111" stroke-width="0.22" >Endosomal/Vacuolar pathway</text>
<circle cx="142.2" cy="622.07" r="1.2" fill="#dc1c30"/>
<line x1="153" y1="630" x2="153" y2="631.6" stroke="#444" stroke-width="0.5" />
<text x="152.7" y="635.8" font-size="4.8" text-anchor="middle" font-weight="normal" font-style="normal" fill="#333" stroke="#333" stroke-width="0.13" >0.025</text>
<line x1="173.1" y1="630" x2="173.1" y2="631.6" stroke="#444" stroke-width="0.5" />
<text x="172.8" y="635.8" font-size="4.8" text-anchor="middle" font-weight="normal" font-style="normal" fill="#333" stroke="#333" stroke-width="0.13" >0.050</text>
<line x1="193.2" y1="630" x2="193.2" y2="631.6" stroke="#444" stroke-width="0.5" />
<text x="192.9" y="635.8" font-size="4.8" text-anchor="middle" font-weight="normal" font-style="normal" fill="#333" stroke="#333" stroke-width="0.13" >0.075</text>
<line x1="213.3" y1="630" x2="213.3" y2="631.6" stroke="#444" stroke-width="0.5" />
<text x="213" y="635.8" font-size="4.8" text-anchor="middle" font-weight="normal" font-style="normal" fill="#333" stroke="#333" stroke-width="0.13" >0.100</text>
<text x="184.6" y="642.9" font-size="5.8" text-anchor="middle" font-weight="normal" font-style="normal" fill="#111" stroke="#111" stroke-width="0.22" >Gene ratio</text>
<text x="199.4" y="546" font-size="5.6" text-anchor="start" font-weight="normal" font-style="normal" fill="#111" stroke="#111" stroke-width="0.22" >Count</text>
<circle cx="203.5" cy="550.7" r="1.7" fill="#111"/>
<text x="208.2" y="552.2" font-size="4.2" text-anchor="start" font-weight="normal" font-style="normal" fill="#111" stroke="#111" stroke-width="0.13" >10</text>
<circle cx="203.5" cy="557.4" r="2.0" fill="#111"/>
<text x="208.2" y="558.9" font-size="4.2" text-anchor="start" font-weight="normal" font-style="normal" fill="#111" stroke="#111" stroke-width="0.13" >20</text>
<circle cx="203.5" cy="563.7" r="2.3" fill="#111"/>
<text x="208.2" y="565.2" font-size="4.2" text-anchor="start" font-weight="normal" font-style="normal" fill="#111" stroke="#111" stroke-width="0.13" >30</text>
<circle cx="203.5" cy="570.5" r="2.6" fill="#111"/>
<text x="208.2" y="572" font-size="4.2" text-anchor="start" font-weight="normal" font-style="normal" fill="#111" stroke="#111" stroke-width="0.13" >40</text>
<circle cx="203.5" cy="578.4" r="2.95" fill="#111"/>
<text x="208.2" y="579.9" font-size="4.2" text-anchor="start" font-weight="normal" font-style="normal" fill="#111" stroke="#111" stroke-width="0.13" >50</text>
<text x="199.4" y="593.2" font-size="5.6" text-anchor="start" font-weight="normal" font-style="normal" fill="#111" stroke="#111" stroke-width="0.22" >FDR</text>
<rect x="199.6" y="596" width="6.4" height="31" fill="url(#fdr)"/>
<text x="207.4" y="603.8" font-size="3.5" text-anchor="start" font-weight="normal" font-style="normal" fill="#111" stroke="#111" stroke-width="0.13" >0.005</text>
<text x="207.4" y="609.5" font-size="3.5" text-anchor="start" font-weight="normal" font-style="normal" fill="#111" stroke="#111" stroke-width="0.13" >0.010</text>
<text x="207.4" y="615.2" font-size="3.5" text-anchor="start" font-weight="normal" font-style="normal" fill="#111" stroke="#111" stroke-width="0.13" >0.015</text>
<text x="207.4" y="621.1" font-size="3.5" text-anchor="start" font-weight="normal" font-style="normal" fill="#111" stroke="#111" stroke-width="0.13" >0.020</text>
<text x="207.4" y="626.7" font-size="3.5" text-anchor="start" font-weight="normal" font-style="normal" fill="#111" stroke="#111" stroke-width="0.13" >0.025</text>
<text x="253.2" y="335.8" font-size="12.3" text-anchor="start" font-weight="bold" font-style="normal" fill="#000" stroke="#000" stroke-width="0.18" >E</text>
<g shape-rendering="crispEdges">
<rect x="284.85" y="337.6" width="4.36" height="6.6" fill="#84cdbd" shape-rendering="auto"/>
<rect x="284.85" y="345.5" width="4.36" height="6.5" fill="#f7c3df" shape-rendering="auto"/>
<rect x="284.85" y="353.4" width="4.36" height="6.7" fill="#aee3d2" shape-rendering="auto"/>
<rect x="289.71" y="337.6" width="4.36" height="6.6" fill="#84cdbd" shape-rendering="auto"/>
<rect x="289.71" y="345.5" width="4.36" height="6.5" fill="#f7c3df" shape-rendering="auto"/>
<rect x="289.71" y="353.4" width="4.36" height="6.7" fill="#aee3d2" shape-rendering="auto"/>
<rect x="294.57" y="337.6" width="4.36" height="6.6" fill="#84cdbd" shape-rendering="auto"/>
<rect x="294.57" y="345.5" width="4.36" height="6.5" fill="#f7c3df" shape-rendering="auto"/>
<rect x="294.57" y="353.4" width="4.36" height="6.7" fill="#aee3d2" shape-rendering="auto"/>
<rect x="299.43" y="337.6" width="4.36" height="6.6" fill="#84cdbd" shape-rendering="auto"/>
<rect x="299.43" y="345.5" width="4.36" height="6.5" fill="#fff0ad" shape-rendering="auto"/>
<rect x="299.43" y="353.4" width="4.36" height="6.7" fill="#aee3d2" shape-rendering="auto"/>
<rect x="304.29" y="337.6" width="4.36" height="6.6" fill="#6aa5dc" shape-rendering="auto"/>
<rect x="304.29" y="345.5" width="4.36" height="6.5" fill="#f7c3df" shape-rendering="auto"/>
<rect x="304.29" y="353.4" width="4.36" height="6.7" fill="#aee3d2" shape-rendering="auto"/>
<rect x="309.15" y="337.6" width="4.36" height="6.6" fill="#6aa5dc" shape-rendering="auto"/>
<rect x="309.15" y="345.5" width="4.36" height="6.5" fill="#f7c3df" shape-rendering="auto"/>
<rect x="309.15" y="353.4" width="4.36" height="6.7" fill="#aee3d2" shape-rendering="auto"/>
<rect x="314.01" y="337.6" width="4.36" height="6.6" fill="#6aa5dc" shape-rendering="auto"/>
<rect x="314.01" y="345.5" width="4.36" height="6.5" fill="#e3e1ef" shape-rendering="auto"/>
<rect x="314.01" y="353.4" width="4.36" height="6.7" fill="#fdcfa8" shape-rendering="auto"/>
<rect x="318.87" y="337.6" width="4.36" height="6.6" fill="#6aa5dc" shape-rendering="auto"/>
<rect x="318.87" y="345.5" width="4.36" height="6.5" fill="#fff0ad" shape-rendering="auto"/>
<rect x="318.87" y="353.4" width="4.36" height="6.7" fill="#aee3d2" shape-rendering="auto"/>
<rect x="323.73" y="337.6" width="4.36" height="6.6" fill="#6aa5dc" shape-rendering="auto"/>
<rect x="323.73" y="345.5" width="4.36" height="6.5" fill="#fff0ad" shape-rendering="auto"/>
<rect x="323.73" y="353.4" width="4.36" height="6.7" fill="#aee3d2" shape-rendering="auto"/>
<rect x="328.59" y="337.6" width="4.36" height="6.6" fill="#6aa5dc" shape-rendering="auto"/>
<rect x="328.59" y="345.5" width="4.36" height="6.5" fill="#fff0ad" shape-rendering="auto"/>
<rect x="328.59" y="353.4" width="4.36" height="6.7" fill="#aee3d2" shape-rendering="auto"/>
<rect x="333.45" y="337.6" width="4.36" height="6.6" fill="#6aa5dc" shape-rendering="auto"/>
<rect x="333.45" y="345.5" width="4.36" height="6.5" fill="#fff0ad" shape-rendering="auto"/>
<rect x="333.45" y="353.4" width="4.36" height="6.7" fill="#aee3d2" shape-rendering="auto"/>
<rect x="338.31" y="337.6" width="4.36" height="6.6" fill="#6aa5dc" shape-rendering="auto"/>
<rect x="338.31" y="345.5" width="4.36" height="6.5" fill="#e3e1ef" shape-rendering="auto"/>
<rect x="338.31" y="353.4" width="4.36" height="6.7" fill="#aee3d2" shape-rendering="auto"/>
<rect x="343.17" y="337.6" width="4.36" height="6.6" fill="#fbae5e" shape-rendering="auto"/>
<rect x="343.17" y="345.5" width="4.36" height="6.5" fill="#f7c3df" shape-rendering="auto"/>
<rect x="343.17" y="353.4" width="4.36" height="6.7" fill="#aee3d2" shape-rendering="auto"/>
<rect x="348.03" y="337.6" width="4.36" height="6.6" fill="#fbae5e" shape-rendering="auto"/>
<rect x="348.03" y="345.5" width="4.36" height="6.5" fill="#f7c3df" shape-rendering="auto"/>
<rect x="348.03" y="353.4" width="4.36" height="6.7" fill="#aee3d2" shape-rendering="auto"/>
<rect x="352.89" y="337.6" width="4.36" height="6.6" fill="#fbae5e" shape-rendering="auto"/>
<rect x="352.89" y="345.5" width="4.36" height="6.5" fill="#e3e1ef" shape-rendering="auto"/>
<rect x="352.89" y="353.4" width="4.36" height="6.7" fill="#aee3d2" shape-rendering="auto"/>
<rect x="357.75" y="337.6" width="4.36" height="6.6" fill="#fbae5e" shape-rendering="auto"/>
<rect x="357.75" y="345.5" width="4.36" height="6.5" fill="#e3e1ef" shape-rendering="auto"/>
<rect x="357.75" y="353.4" width="4.36" height="6.7" fill="#aee3d2" shape-rendering="auto"/>
<rect x="362.61" y="337.6" width="4.36" height="6.6" fill="#fbae5e" shape-rendering="auto"/>
<rect x="362.61" y="345.5" width="4.36" height="6.5" fill="#f7c3df" shape-rendering="auto"/>
<rect x="362.61" y="353.4" width="4.36" height="6.7" fill="#fdcfa8" shape-rendering="auto"/>
<rect x="367.47" y="337.6" width="4.36" height="6.6" fill="#fbae5e" shape-rendering="auto"/>
<rect x="367.47" y="345.5" width="4.36" height="6.5" fill="#f7c3df" shape-rendering="auto"/>
<rect x="367.47" y="353.4" width="4.36" height="6.7" fill="#fdcfa8" shape-rendering="auto"/>
<rect x="372.33" y="337.6" width="4.36" height="6.6" fill="#fbae5e" shape-rendering="auto"/>
<rect x="372.33" y="345.5" width="4.36" height="6.5" fill="#f7c3df" shape-rendering="auto"/>
<rect x="372.33" y="353.4" width="4.36" height="6.7" fill="#fdcfa8" shape-rendering="auto"/>
<rect x="377.19" y="337.6" width="4.36" height="6.6" fill="#fbae5e" shape-rendering="auto"/>
<rect x="377.19" y="345.5" width="4.36" height="6.5" fill="#fff0ad" shape-rendering="auto"/>
<rect x="377.19" y="353.4" width="4.36" height="6.7" fill="#aee3d2" shape-rendering="auto"/>
<rect x="382.05" y="337.6" width="4.36" height="6.6" fill="#fbae5e" shape-rendering="auto"/>
<rect x="382.05" y="345.5" width="4.36" height="6.5" fill="#fff0ad" shape-rendering="auto"/>
<rect x="382.05" y="353.4" width="4.36" height="6.7" fill="#aee3d2" shape-rendering="auto"/>
<rect x="386.91" y="337.6" width="4.36" height="6.6" fill="#fbae5e" shape-rendering="auto"/>
<rect x="386.91" y="345.5" width="4.36" height="6.5" fill="#fff0ad" shape-rendering="auto"/>
<rect x="386.91" y="353.4" width="4.36" height="6.7" fill="#aee3d2" shape-rendering="auto"/>
<rect x="391.77" y="337.6" width="4.36" height="6.6" fill="#fbae5e" shape-rendering="auto"/>
<rect x="391.77" y="345.5" width="4.36" height="6.5" fill="#fff0ad" shape-rendering="auto"/>
<rect x="391.77" y="353.4" width="4.36" height="6.7" fill="#aee3d2" shape-rendering="auto"/>
<rect x="396.63" y="337.6" width="4.36" height="6.6" fill="#fbae5e" shape-rendering="auto"/>
<rect x="396.63" y="345.5" width="4.36" height="6.5" fill="#fff0ad" shape-rendering="auto"/>
<rect x="396.63" y="353.4" width="4.36" height="6.7" fill="#aee3d2" shape-rendering="auto"/>
<rect x="401.49" y="337.6" width="4.36" height="6.6" fill="#fbae5e" shape-rendering="auto"/>
<rect x="401.49" y="345.5" width="4.36" height="6.5" fill="#fff0ad" shape-rendering="auto"/>
<rect x="401.49" y="353.4" width="4.36" height="6.7" fill="#aee3d2" shape-rendering="auto"/>
<rect x="406.35" y="337.6" width="4.36" height="6.6" fill="#fbae5e" shape-rendering="auto"/>
<rect x="406.35" y="345.5" width="4.36" height="6.5" fill="#fff0ad" shape-rendering="auto"/>
<rect x="406.35" y="353.4" width="4.36" height="6.7" fill="#fdcfa8" shape-rendering="auto"/>
<rect x="411.21" y="337.6" width="4.36" height="6.6" fill="#fbae5e" shape-rendering="auto"/>
<rect x="411.21" y="345.5" width="4.36" height="6.5" fill="#e3e1ef" shape-rendering="auto"/>
<rect x="411.21" y="353.4" width="4.36" height="6.7" fill="#fdcfa8" shape-rendering="auto"/>
<rect x="416.07" y="337.6" width="4.36" height="6.6" fill="#f56c68" shape-rendering="auto"/>
<rect x="416.07" y="345.5" width="4.36" height="6.5" fill="#f7c3df" shape-rendering="auto"/>
<rect x="416.07" y="353.4" width="4.36" height="6.7" fill="#aee3d2" shape-rendering="auto"/>
<rect x="420.93" y="337.6" width="4.36" height="6.6" fill="#f56c68" shape-rendering="auto"/>
<rect x="420.93" y="345.5" width="4.36" height="6.5" fill="#f7c3df" shape-rendering="auto"/>
<rect x="420.93" y="353.4" width="4.36" height="6.7" fill="#fdcfa8" shape-rendering="auto"/>
<rect x="425.79" y="337.6" width="4.36" height="6.6" fill="#f56c68" shape-rendering="auto"/>
<rect x="425.79" y="345.5" width="4.36" height="6.5" fill="#f7c3df" shape-rendering="auto"/>
<rect x="425.79" y="353.4" width="4.36" height="6.7" fill="#fdcfa8" shape-rendering="auto"/>
<rect x="430.65" y="337.6" width="4.36" height="6.6" fill="#f56c68" shape-rendering="auto"/>
<rect x="430.65" y="345.5" width="4.36" height="6.5" fill="#f7c3df" shape-rendering="auto"/>
<rect x="430.65" y="353.4" width="4.36" height="6.7" fill="#fdcfa8" shape-rendering="auto"/>
<rect x="435.51" y="337.6" width="4.36" height="6.6" fill="#f56c68" shape-rendering="auto"/>
<rect x="435.51" y="345.5" width="4.36" height="6.5" fill="#f7c3df" shape-rendering="auto"/>
<rect x="435.51" y="353.4" width="4.36" height="6.7" fill="#fdcfa8" shape-rendering="auto"/>
<rect x="440.37" y="337.6" width="4.36" height="6.6" fill="#f56c68" shape-rendering="auto"/>
<rect x="440.37" y="345.5" width="4.36" height="6.5" fill="#fff0ad" shape-rendering="auto"/>
<rect x="440.37" y="353.4" width="4.36" height="6.7" fill="#aee3d2" shape-rendering="auto"/>
<rect x="445.23" y="337.6" width="4.36" height="6.6" fill="#f56c68" shape-rendering="auto"/>
<rect x="445.23" y="345.5" width="4.36" height="6.5" fill="#fff0ad" shape-rendering="auto"/>
<rect x="445.23" y="353.4" width="4.36" height="6.7" fill="#aee3d2" shape-rendering="auto"/>
<rect x="450.09" y="337.6" width="4.36" height="6.6" fill="#f56c68" shape-rendering="auto"/>
<rect x="450.09" y="345.5" width="4.36" height="6.5" fill="#fff0ad" shape-rendering="auto"/>
<rect x="450.09" y="353.4" width="4.36" height="6.7" fill="#aee3d2" shape-rendering="auto"/>
<rect x="454.95" y="337.6" width="4.36" height="6.6" fill="#f56c68" shape-rendering="auto"/>
<rect x="454.95" y="345.5" width="4.36" height="6.5" fill="#fff0ad" shape-rendering="auto"/>
<rect x="454.95" y="353.4" width="4.36" height="6.7" fill="#aee3d2" shape-rendering="auto"/>
<rect x="459.81" y="337.6" width="4.36" height="6.6" fill="#f56c68" shape-rendering="auto"/>
<rect x="459.81" y="345.5" width="4.36" height="6.5" fill="#fff0ad" shape-rendering="auto"/>
<rect x="459.81" y="353.4" width="4.36" height="6.7" fill="#aee3d2" shape-rendering="auto"/>
<rect x="464.67" y="337.6" width="4.36" height="6.6" fill="#f56c68" shape-rendering="auto"/>
<rect x="464.67" y="345.5" width="4.36" height="6.5" fill="#fff0ad" shape-rendering="auto"/>
<rect x="464.67" y="353.4" width="4.36" height="6.7" fill="#aee3d2" shape-rendering="auto"/>
<rect x="469.53" y="337.6" width="4.36" height="6.6" fill="#f56c68" shape-rendering="auto"/>
<rect x="469.53" y="345.5" width="4.36" height="6.5" fill="#fff0ad" shape-rendering="auto"/>
<rect x="469.53" y="353.4" width="4.36" height="6.7" fill="#fdcfa8" shape-rendering="auto"/>
<rect x="474.39" y="337.6" width="4.36" height="6.6" fill="#f56c68" shape-rendering="auto"/>
<rect x="474.39" y="345.5" width="4.36" height="6.5" fill="#e3e1ef" shape-rendering="auto"/>
<rect x="474.39" y="353.4" width="4.36" height="6.7" fill="#aee3d2" shape-rendering="auto"/>
<rect x="479.25" y="337.6" width="4.36" height="6.6" fill="#f56c68" shape-rendering="auto"/>
<rect x="479.25" y="345.5" width="4.36" height="6.5" fill="#e3e1ef" shape-rendering="auto"/>
<rect x="479.25" y="353.4" width="4.36" height="6.7" fill="#fdcfa8" shape-rendering="auto"/>
</g>
<g filter="url(#hb)">
<rect x="284.6" y="361.7" width="5.46" height="6.01" fill="#469b87"/>
<rect x="289.46" y="361.7" width="5.46" height="6.01" fill="#fde525"/>
<rect x="294.32" y="361.7" width="10.32" height="6.01" fill="#d0d452"/>
<rect x="304.04" y="361.7" width="5.46" height="6.01" fill="#fde525"/>
<rect x="308.9" y="361.7" width="5.46" height="6.01" fill="#23878c"/>
<rect x="313.76" y="361.7" width="5.46" height="6.01" fill="#fde525"/>
<rect x="318.62" y="361.7" width="5.46" height="6.01" fill="#3b528b"/>
<rect x="323.48" y="361.7" width="24.9" height="6.01" fill="#fde525"/>
<rect x="347.78" y="361.7" width="5.46" height="6.01" fill="#440154"/>
<rect x="352.64" y="361.7" width="5.46" height="6.01" fill="#421e6e"/>
<rect x="357.5" y="361.7" width="5.46" height="6.01" fill="#d0d452"/>
<rect x="362.36" y="361.7" width="5.46" height="6.01" fill="#fde525"/>
<rect x="367.22" y="361.7" width="10.32" height="6.01" fill="#440154"/>
<rect x="376.94" y="361.7" width="10.32" height="6.01" fill="#fde525"/>
<rect x="386.66" y="361.7" width="5.46" height="6.01" fill="#23878c"/>
<rect x="391.52" y="361.7" width="5.46" height="6.01" fill="#440154"/>
<rect x="396.38" y="361.7" width="10.32" height="6.01" fill="#fde525"/>
<rect x="406.1" y="361.7" width="5.46" height="6.01" fill="#23878c"/>
<rect x="410.96" y="361.7" width="5.46" height="6.01" fill="#fde525"/>
<rect x="415.82" y="361.7" width="20.04" height="6.01" fill="#440154"/>
<rect x="435.26" y="361.7" width="5.46" height="6.01" fill="#fde525"/>
<rect x="440.12" y="361.7" width="5.46" height="6.01" fill="#d0d452"/>
<rect x="444.98" y="361.7" width="10.32" height="6.01" fill="#fde525"/>
<rect x="454.7" y="361.7" width="10.32" height="6.01" fill="#30698e"/>
<rect x="464.42" y="361.7" width="5.46" height="6.01" fill="#440154"/>
<rect x="469.28" y="361.7" width="5.46" height="6.01" fill="#fde525"/>
<rect x="474.14" y="361.7" width="5.46" height="6.01" fill="#440154"/>
<rect x="479" y="361.7" width="4.86" height="6.01" fill="#3b528b"/>
<rect x="284.6" y="367.11" width="10.32" height="6.01" fill="#23878c"/>
<rect x="294.32" y="367.11" width="5.46" height="6.01" fill="#fde525"/>
<rect x="299.18" y="367.11" width="5.46" height="6.01" fill="#a0c36c"/>
<rect x="304.04" y="367.11" width="5.46" height="6.01" fill="#fde525"/>
<rect x="308.9" y="367.11" width="5.46" height="6.01" fill="#23878c"/>
<rect x="313.76" y="367.11" width="5.46" height="6.01" fill="#fde525"/>
<rect x="318.62" y="367.11" width="5.46" height="6.01" fill="#421e6e"/>
<rect x="323.48" y="367.11" width="24.9" height="6.01" fill="#fde525"/>
<rect x="347.78" y="367.11" width="5.46" height="6.01" fill="#440154"/>
<rect x="352.64" y="367.11" width="5.46" height="6.01" fill="#30698e"/>
<rect x="357.5" y="367.11" width="5.46" height="6.01" fill="#23878c"/>
<rect x="362.36" y="367.11" width="5.46" height="6.01" fill="#fde525"/>
<rect x="367.22" y="367.11" width="5.46" height="6.01" fill="#440154"/>
<rect x="372.08" y="367.11" width="5.46" height="6.01" fill="#421e6e"/>
<rect x="376.94" y="367.11" width="5.46" height="6.01" fill="#fde525"/>
<rect x="381.8" y="367.11" width="5.46" height="6.01" fill="#76b47a"/>
<rect x="386.66" y="367.11" width="5.46" height="6.01" fill="#23878c"/>
<rect x="391.52" y="367.11" width="5.46" height="6.01" fill="#440154"/>
<rect x="396.38" y="367.11" width="10.32" height="6.01" fill="#fde525"/>
<rect x="406.1" y="367.11" width="5.46" height="6.01" fill="#23878c"/>
<rect x="410.96" y="367.11" width="5.46" height="6.01" fill="#fde525"/>
<rect x="415.82" y="367.11" width="20.04" height="6.01" fill="#440154"/>
<rect x="435.26" y="367.11" width="5.46" height="6.01" fill="#fde525"/>
<rect x="440.12" y="367.11" width="5.46" height="6.01" fill="#a0c36c"/>
<rect x="444.98" y="367.11" width="5.46" height="6.01" fill="#d0d452"/>
<rect x="449.84" y="367.11" width="5.46" height="6.01" fill="#fde525"/>
<rect x="454.7" y="367.11" width="5.46" height="6.01" fill="#421e6e"/>
<rect x="459.56" y="367.11" width="5.46" height="6.01" fill="#23878c"/>
<rect x="464.42" y="367.11" width="5.46" height="6.01" fill="#440154"/>
<rect x="469.28" y="367.11" width="5.46" height="6.01" fill="#fde525"/>
<rect x="474.14" y="367.11" width="5.46" height="6.01" fill="#440154"/>
<rect x="479" y="367.11" width="4.86" height="6.01" fill="#3b528b"/>
<rect x="284.6" y="372.52" width="5.46" height="6.01" fill="#a0c36c"/>
<rect x="289.46" y="372.52" width="15.18" height="6.01" fill="#fde525"/>
<rect x="304.04" y="372.52" width="10.32" height="6.01" fill="#d0d452"/>
<rect x="313.76" y="372.52" width="5.46" height="6.01" fill="#fde525"/>
<rect x="318.62" y="372.52" width="5.46" height="6.01" fill="#23878c"/>
<rect x="323.48" y="372.52" width="24.9" height="6.01" fill="#fde525"/>
<rect x="347.78" y="372.52" width="10.32" height="6.01" fill="#440154"/>
<rect x="357.5" y="372.52" width="5.46" height="6.01" fill="#76b47a"/>
<rect x="362.36" y="372.52" width="5.46" height="6.01" fill="#fde525"/>
<rect x="367.22" y="372.52" width="5.46" height="6.01" fill="#469b87"/>
<rect x="372.08" y="372.52" width="5.46" height="6.01" fill="#440154"/>
<rect x="376.94" y="372.52" width="5.46" height="6.01" fill="#fde525"/>
<rect x="381.8" y="372.52" width="5.46" height="6.01" fill="#3b528b"/>
<rect x="386.66" y="372.52" width="5.46" height="6.01" fill="#23878c"/>
<rect x="391.52" y="372.52" width="5.46" height="6.01" fill="#440154"/>
<rect x="396.38" y="372.52" width="15.18" height="6.01" fill="#fde525"/>
<rect x="410.96" y="372.52" width="5.46" height="6.01" fill="#76b47a"/>
<rect x="415.82" y="372.52" width="20.04" height="6.01" fill="#440154"/>
<rect x="435.26" y="372.52" width="10.32" height="6.01" fill="#fde525"/>
<rect x="444.98" y="372.52" width="5.46" height="6.01" fill="#d0d452"/>
<rect x="449.84" y="372.52" width="5.46" height="6.01" fill="#76b47a"/>
<rect x="454.7" y="372.52" width="5.46" height="6.01" fill="#3b528b"/>
<rect x="459.56" y="372.52" width="5.46" height="6.01" fill="#23878c"/>
<rect x="464.42" y="372.52" width="5.46" height="6.01" fill="#440154"/>
<rect x="469.28" y="372.52" width="5.46" height="6.01" fill="#fde525"/>
<rect x="474.14" y="372.52" width="5.46" height="6.01" fill="#30698e"/>
<rect x="479" y="372.52" width="4.86" height="6.01" fill="#3b528b"/>
<rect x="284.6" y="377.94" width="5.46" height="6.01" fill="#23878c"/>
<rect x="289.46" y="377.94" width="5.46" height="6.01" fill="#440154"/>
<rect x="294.32" y="377.94" width="10.32" height="6.01" fill="#fde525"/>
<rect x="304.04" y="377.94" width="5.46" height="6.01" fill="#76b47a"/>
<rect x="308.9" y="377.94" width="5.46" height="6.01" fill="#23878c"/>
<rect x="313.76" y="377.94" width="5.46" height="6.01" fill="#fde525"/>
<rect x="318.62" y="377.94" width="5.46" height="6.01" fill="#3b528b"/>
<rect x="323.48" y="377.94" width="5.46" height="6.01" fill="#23878c"/>
<rect x="328.34" y="377.94" width="20.04" height="6.01" fill="#fde525"/>
<rect x="347.78" y="377.94" width="5.46" height="6.01" fill="#440154"/>
<rect x="352.64" y="377.94" width="5.46" height="6.01" fill="#23878c"/>
<rect x="357.5" y="377.94" width="10.32" height="6.01" fill="#fde525"/>
<rect x="367.22" y="377.94" width="5.46" height="6.01" fill="#421e6e"/>
<rect x="372.08" y="377.94" width="5.46" height="6.01" fill="#440154"/>
<rect x="376.94" y="377.94" width="15.18" height="6.01" fill="#fde525"/>
<rect x="391.52" y="377.94" width="5.46" height="6.01" fill="#440154"/>
<rect x="396.38" y="377.94" width="10.32" height="6.01" fill="#fde525"/>
<rect x="406.1" y="377.94" width="5.46" height="6.01" fill="#3b528b"/>
<rect x="410.96" y="377.94" width="5.46" height="6.01" fill="#d0d452"/>
<rect x="415.82" y="377.94" width="10.32" height="6.01" fill="#440154"/>
<rect x="425.54" y="377.94" width="5.46" height="6.01" fill="#30698e"/>
<rect x="430.4" y="377.94" width="10.32" height="6.01" fill="#23878c"/>
<rect x="440.12" y="377.94" width="5.46" height="6.01" fill="#421e6e"/>
<rect x="444.98" y="377.94" width="5.46" height="6.01" fill="#23878c"/>
<rect x="449.84" y="377.94" width="5.46" height="6.01" fill="#d0d452"/>
<rect x="454.7" y="377.94" width="15.18" height="6.01" fill="#440154"/>
<rect x="469.28" y="377.94" width="10.32" height="6.01" fill="#fde525"/>
<rect x="479" y="377.94" width="4.86" height="6.01" fill="#3b528b"/>
<rect x="284.6" y="383.35" width="5.46" height="6.01" fill="#23878c"/>
<rect x="289.46" y="383.35" width="10.32" height="6.01" fill="#fde525"/>
<rect x="299.18" y="383.35" width="5.46" height="6.01" fill="#23878c"/>
<rect x="304.04" y="383.35" width="5.46" height="6.01" fill="#a0c36c"/>
<rect x="308.9" y="383.35" width="5.46" height="6.01" fill="#76b47a"/>
<rect x="313.76" y="383.35" width="5.46" height="6.01" fill="#fde525"/>
<rect x="318.62" y="383.35" width="5.46" height="6.01" fill="#23878c"/>
<rect x="323.48" y="383.35" width="5.46" height="6.01" fill="#fde525"/>
<rect x="328.34" y="383.35" width="5.46" height="6.01" fill="#469b87"/>
<rect x="333.2" y="383.35" width="5.46" height="6.01" fill="#fde525"/>
<rect x="338.06" y="383.35" width="5.46" height="6.01" fill="#ecdd3a"/>
<rect x="342.92" y="383.35" width="5.46" height="6.01" fill="#fde525"/>
<rect x="347.78" y="383.35" width="5.46" height="6.01" fill="#440154"/>
<rect x="352.64" y="383.35" width="5.46" height="6.01" fill="#421e6e"/>
<rect x="357.5" y="383.35" width="5.46" height="6.01" fill="#23878c"/>
<rect x="362.36" y="383.35" width="5.46" height="6.01" fill="#fde525"/>
<rect x="367.22" y="383.35" width="5.46" height="6.01" fill="#3b528b"/>
<rect x="372.08" y="383.35" width="5.46" height="6.01" fill="#421e6e"/>
<rect x="376.94" y="383.35" width="5.46" height="6.01" fill="#fde525"/>
<rect x="381.8" y="383.35" width="10.32" height="6.01" fill="#23878c"/>
<rect x="391.52" y="383.35" width="5.46" height="6.01" fill="#3b528b"/>
<rect x="396.38" y="383.35" width="15.18" height="6.01" fill="#fde525"/>
<rect x="410.96" y="383.35" width="5.46" height="6.01" fill="#76b47a"/>
<rect x="415.82" y="383.35" width="5.46" height="6.01" fill="#421e6e"/>
<rect x="420.68" y="383.35" width="5.46" height="6.01" fill="#440154"/>
<rect x="425.54" y="383.35" width="5.46" height="6.01" fill="#3b528b"/>
<rect x="430.4" y="383.35" width="5.46" height="6.01" fill="#23878c"/>
<rect x="435.26" y="383.35" width="5.46" height="6.01" fill="#fde525"/>
<rect x="440.12" y="383.35" width="10.32" height="6.01" fill="#30698e"/>
<rect x="449.84" y="383.35" width="5.46" height="6.01" fill="#d0d452"/>
<rect x="454.7" y="383.35" width="5.46" height="6.01" fill="#421e6e"/>
<rect x="459.56" y="383.35" width="5.46" height="6.01" fill="#76b47a"/>
<rect x="464.42" y="383.35" width="5.46" height="6.01" fill="#440154"/>
<rect x="469.28" y="383.35" width="5.46" height="6.01" fill="#d0d452"/>
<rect x="474.14" y="383.35" width="5.46" height="6.01" fill="#3b528b"/>
<rect x="479" y="383.35" width="4.86" height="6.01" fill="#421e6e"/>
<rect x="284.6" y="388.76" width="5.46" height="6.01" fill="#3b528b"/>
<rect x="289.46" y="388.76" width="5.46" height="6.01" fill="#d0d452"/>
<rect x="294.32" y="388.76" width="5.46" height="6.01" fill="#fde525"/>
<rect x="299.18" y="388.76" width="5.46" height="6.01" fill="#3b528b"/>
<rect x="304.04" y="388.76" width="5.46" height="6.01" fill="#d0d452"/>
<rect x="308.9" y="388.76" width="5.46" height="6.01" fill="#3b528b"/>
<rect x="313.76" y="388.76" width="5.46" height="6.01" fill="#fde525"/>
<rect x="318.62" y="388.76" width="5.46" height="6.01" fill="#30698e"/>
<rect x="323.48" y="388.76" width="24.9" height="6.01" fill="#fde525"/>
<rect x="347.78" y="388.76" width="5.46" height="6.01" fill="#3b528b"/>
<rect x="352.64" y="388.76" width="5.46" height="6.01" fill="#ecdd3a"/>
<rect x="357.5" y="388.76" width="5.46" height="6.01" fill="#30698e"/>
<rect x="362.36" y="388.76" width="5.46" height="6.01" fill="#fde525"/>
<rect x="367.22" y="388.76" width="10.32" height="6.01" fill="#440154"/>
<rect x="376.94" y="388.76" width="10.32" height="6.01" fill="#fde525"/>
<rect x="386.66" y="388.76" width="5.46" height="6.01" fill="#3b528b"/>
<rect x="391.52" y="388.76" width="5.46" height="6.01" fill="#440154"/>
<rect x="396.38" y="388.76" width="15.18" height="6.01" fill="#fde525"/>
<rect x="410.96" y="388.76" width="5.46" height="6.01" fill="#23878c"/>
<rect x="415.82" y="388.76" width="10.32" height="6.01" fill="#440154"/>
<rect x="425.54" y="388.76" width="10.32" height="6.01" fill="#3b528b"/>
<rect x="435.26" y="388.76" width="5.46" height="6.01" fill="#23878c"/>
<rect x="440.12" y="388.76" width="5.46" height="6.01" fill="#d0d452"/>
<rect x="444.98" y="388.76" width="5.46" height="6.01" fill="#a0c36c"/>
<rect x="449.84" y="388.76" width="5.46" height="6.01" fill="#23878c"/>
<rect x="454.7" y="388.76" width="5.46" height="6.01" fill="#421e6e"/>
<rect x="459.56" y="388.76" width="5.46" height="6.01" fill="#fde525"/>
<rect x="464.42" y="388.76" width="5.46" height="6.01" fill="#440154"/>
<rect x="469.28" y="388.76" width="5.46" height="6.01" fill="#76b47a"/>
<rect x="474.14" y="388.76" width="5.46" height="6.01" fill="#3b528b"/>
<rect x="479" y="388.76" width="4.86" height="6.01" fill="#440154"/>
<rect x="284.6" y="394.17" width="5.46" height="6.01" fill="#421e6e"/>
<rect x="289.46" y="394.17" width="5.46" height="6.01" fill="#a0c36c"/>
<rect x="294.32" y="394.17" width="5.46" height="6.01" fill="#fde525"/>
<rect x="299.18" y="394.17" width="5.46" height="6.01" fill="#23878c"/>
<rect x="304.04" y="394.17" width="5.46" height="6.01" fill="#76b47a"/>
<rect x="308.9" y="394.17" width="5.46" height="6.01" fill="#23878c"/>
<rect x="313.76" y="394.17" width="34.62" height="6.01" fill="#fde525"/>
<rect x="347.78" y="394.17" width="15.18" height="6.01" fill="#440154"/>
<rect x="362.36" y="394.17" width="5.46" height="6.01" fill="#fde525"/>
<rect x="367.22" y="394.17" width="10.32" height="6.01" fill="#440154"/>
<rect x="376.94" y="394.17" width="5.46" height="6.01" fill="#fde525"/>
<rect x="381.8" y="394.17" width="5.46" height="6.01" fill="#d0d452"/>
<rect x="386.66" y="394.17" width="5.46" height="6.01" fill="#3b528b"/>
<rect x="391.52" y="394.17" width="5.46" height="6.01" fill="#440154"/>
<rect x="396.38" y="394.17" width="10.32" height="6.01" fill="#fde525"/>
<rect x="406.1" y="394.17" width="5.46" height="6.01" fill="#d0d452"/>
<rect x="410.96" y="394.17" width="5.46" height="6.01" fill="#23878c"/>
<rect x="415.82" y="394.17" width="20.04" height="6.01" fill="#440154"/>
<rect x="435.26" y="394.17" width="5.46" height="6.01" fill="#fde525"/>
<rect x="440.12" y="394.17" width="5.46" height="6.01" fill="#23878c"/>
<rect x="444.98" y="394.17" width="5.46" height="6.01" fill="#fde525"/>
<rect x="449.84" y="394.17" width="5.46" height="6.01" fill="#23878c"/>
<rect x="454.7" y="394.17" width="5.46" height="6.01" fill="#3b528b"/>
<rect x="459.56" y="394.17" width="5.46" height="6.01" fill="#fde525"/>
<rect x="464.42" y="394.17" width="5.46" height="6.01" fill="#440154"/>
<rect x="469.28" y="394.17" width="5.46" height="6.01" fill="#76b47a"/>
<rect x="474.14" y="394.17" width="9.72" height="6.01" fill="#440154"/>
<rect x="284.6" y="399.58" width="5.46" height="6.01" fill="#3b528b"/>
<rect x="289.46" y="399.58" width="10.32" height="6.01" fill="#fde525"/>
<rect x="299.18" y="399.58" width="5.46" height="6.01" fill="#d0d452"/>
<rect x="304.04" y="399.58" width="5.46" height="6.01" fill="#fde525"/>
<rect x="308.9" y="399.58" width="5.46" height="6.01" fill="#421e6e"/>
<rect x="313.76" y="399.58" width="5.46" height="6.01" fill="#23878c"/>
<rect x="318.62" y="399.58" width="5.46" height="6.01" fill="#3b528b"/>
<rect x="323.48" y="399.58" width="5.46" height="6.01" fill="#fde525"/>
<rect x="328.34" y="399.58" width="5.46" height="6.01" fill="#23878c"/>
<rect x="333.2" y="399.58" width="15.18" height="6.01" fill="#fde525"/>
<rect x="347.78" y="399.58" width="5.46" height="6.01" fill="#440154"/>
<rect x="352.64" y="399.58" width="5.46" height="6.01" fill="#d0d452"/>
<rect x="357.5" y="399.58" width="5.46" height="6.01" fill="#a0c36c"/>
<rect x="362.36" y="399.58" width="5.46" height="6.01" fill="#30698e"/>
<rect x="367.22" y="399.58" width="10.32" height="6.01" fill="#440154"/>
<rect x="376.94" y="399.58" width="10.32" height="6.01" fill="#fde525"/>
<rect x="386.66" y="399.58" width="5.46" height="6.01" fill="#30698e"/>
<rect x="391.52" y="399.58" width="5.46" height="6.01" fill="#440154"/>
<rect x="396.38" y="399.58" width="15.18" height="6.01" fill="#fde525"/>
<rect x="410.96" y="399.58" width="5.46" height="6.01" fill="#23878c"/>
<rect x="415.82" y="399.58" width="10.32" height="6.01" fill="#440154"/>
<rect x="425.54" y="399.58" width="5.46" height="6.01" fill="#3b528b"/>
<rect x="430.4" y="399.58" width="5.46" height="6.01" fill="#23878c"/>
<rect x="435.26" y="399.58" width="5.46" height="6.01" fill="#76b47a"/>
<rect x="440.12" y="399.58" width="5.46" height="6.01" fill="#440154"/>
<rect x="444.98" y="399.58" width="5.46" height="6.01" fill="#fde525"/>
<rect x="449.84" y="399.58" width="5.46" height="6.01" fill="#23878c"/>
<rect x="454.7" y="399.58" width="5.46" height="6.01" fill="#440154"/>
<rect x="459.56" y="399.58" width="5.46" height="6.01" fill="#d0d452"/>
<rect x="464.42" y="399.58" width="5.46" height="6.01" fill="#23878c"/>
<rect x="469.28" y="399.58" width="5.46" height="6.01" fill="#fde525"/>
<rect x="474.14" y="399.58" width="9.72" height="6.01" fill="#3b528b"/>
<rect x="284.6" y="405" width="5.46" height="6.01" fill="#23878c"/>
<rect x="289.46" y="405" width="20.04" height="6.01" fill="#fde525"/>
<rect x="308.9" y="405" width="10.32" height="6.01" fill="#76b47a"/>
<rect x="318.62" y="405" width="5.46" height="6.01" fill="#3b528b"/>
<rect x="323.48" y="405" width="5.46" height="6.01" fill="#d0d452"/>
<rect x="328.34" y="405" width="20.04" height="6.01" fill="#fde525"/>
<rect x="347.78" y="405" width="5.46" height="6.01" fill="#3b528b"/>
<rect x="352.64" y="405" width="5.46" height="6.01" fill="#a0c36c"/>
<rect x="357.5" y="405" width="5.46" height="6.01" fill="#d0d452"/>
<rect x="362.36" y="405" width="5.46" height="6.01" fill="#30698e"/>
<rect x="367.22" y="405" width="10.32" height="6.01" fill="#440154"/>
<rect x="376.94" y="405" width="10.32" height="6.01" fill="#fde525"/>
<rect x="386.66" y="405" width="5.46" height="6.01" fill="#a0c36c"/>
<rect x="391.52" y="405" width="5.46" height="6.01" fill="#23878c"/>
<rect x="396.38" y="405" width="15.18" height="6.01" fill="#fde525"/>
<rect x="410.96" y="405" width="5.46" height="6.01" fill="#421e6e"/>
<rect x="415.82" y="405" width="15.18" height="6.01" fill="#440154"/>
<rect x="430.4" y="405" width="5.46" height="6.01" fill="#3b528b"/>
<rect x="435.26" y="405" width="5.46" height="6.01" fill="#76b47a"/>
<rect x="440.12" y="405" width="5.46" height="6.01" fill="#3b528b"/>
<rect x="444.98" y="405" width="5.46" height="6.01" fill="#23878c"/>
<rect x="449.84" y="405" width="5.46" height="6.01" fill="#3b528b"/>
<rect x="454.7" y="405" width="5.46" height="6.01" fill="#440154"/>
<rect x="459.56" y="405" width="5.46" height="6.01" fill="#fde525"/>
<rect x="464.42" y="405" width="5.46" height="6.01" fill="#440154"/>
<rect x="469.28" y="405" width="5.46" height="6.01" fill="#fde525"/>
<rect x="474.14" y="405" width="5.46" height="6.01" fill="#3b528b"/>
<rect x="479" y="405" width="4.86" height="6.01" fill="#440154"/>
<rect x="284.6" y="410.41" width="5.46" height="6.01" fill="#23878c"/>
<rect x="289.46" y="410.41" width="5.46" height="6.01" fill="#d0d452"/>
<rect x="294.32" y="410.41" width="10.32" height="6.01" fill="#76b47a"/>
<rect x="304.04" y="410.41" width="5.46" height="6.01" fill="#fde525"/>
<rect x="308.9" y="410.41" width="10.32" height="6.01" fill="#d0d452"/>
<rect x="318.62" y="410.41" width="5.46" height="6.01" fill="#30698e"/>
<rect x="323.48" y="410.41" width="10.32" height="6.01" fill="#d0d452"/>
<rect x="333.2" y="410.41" width="15.18" height="6.01" fill="#fde525"/>
<rect x="347.78" y="410.41" width="5.46" height="6.01" fill="#421e6e"/>
<rect x="352.64" y="410.41" width="5.46" height="6.01" fill="#30698e"/>
<rect x="357.5" y="410.41" width="5.46" height="6.01" fill="#a0c36c"/>
<rect x="362.36" y="410.41" width="5.46" height="6.01" fill="#fde525"/>
<rect x="367.22" y="410.41" width="5.46" height="6.01" fill="#23878c"/>
<rect x="372.08" y="410.41" width="5.46" height="6.01" fill="#440154"/>
<rect x="376.94" y="410.41" width="10.32" height="6.01" fill="#fde525"/>
<rect x="386.66" y="410.41" width="15.18" height="6.01" fill="#23878c"/>
<rect x="401.24" y="410.41" width="5.46" height="6.01" fill="#a0c36c"/>
<rect x="406.1" y="410.41" width="10.32" height="6.01" fill="#d0d452"/>
<rect x="415.82" y="410.41" width="5.46" height="6.01" fill="#440154"/>
<rect x="420.68" y="410.41" width="5.46" height="6.01" fill="#3b528b"/>
<rect x="425.54" y="410.41" width="5.46" height="6.01" fill="#421e6e"/>
<rect x="430.4" y="410.41" width="5.46" height="6.01" fill="#23878c"/>
<rect x="435.26" y="410.41" width="15.18" height="6.01" fill="#3b528b"/>
<rect x="449.84" y="410.41" width="5.46" height="6.01" fill="#a0c36c"/>
<rect x="454.7" y="410.41" width="5.46" height="6.01" fill="#76b47a"/>
<rect x="459.56" y="410.41" width="10.32" height="6.01" fill="#23878c"/>
<rect x="469.28" y="410.41" width="5.46" height="6.01" fill="#fde525"/>
<rect x="474.14" y="410.41" width="9.72" height="6.01" fill="#3b528b"/>
<rect x="284.6" y="415.82" width="5.46" height="6.01" fill="#440154"/>
<rect x="289.46" y="415.82" width="5.46" height="6.01" fill="#23878c"/>
<rect x="294.32" y="415.82" width="5.46" height="6.01" fill="#fde525"/>
<rect x="299.18" y="415.82" width="5.46" height="6.01" fill="#23878c"/>
<rect x="304.04" y="415.82" width="5.46" height="6.01" fill="#fde525"/>
<rect x="308.9" y="415.82" width="5.46" height="6.01" fill="#30698e"/>
<rect x="313.76" y="415.82" width="5.46" height="6.01" fill="#d0d452"/>
<rect x="318.62" y="415.82" width="10.32" height="6.01" fill="#23878c"/>
<rect x="328.34" y="415.82" width="5.46" height="6.01" fill="#fde525"/>
<rect x="333.2" y="415.82" width="5.46" height="6.01" fill="#76b47a"/>
<rect x="338.06" y="415.82" width="10.32" height="6.01" fill="#fde525"/>
<rect x="347.78" y="415.82" width="5.46" height="6.01" fill="#440154"/>
<rect x="352.64" y="415.82" width="5.46" height="6.01" fill="#76b47a"/>
<rect x="357.5" y="415.82" width="5.46" height="6.01" fill="#23878c"/>
<rect x="362.36" y="415.82" width="5.46" height="6.01" fill="#fde525"/>
<rect x="367.22" y="415.82" width="5.46" height="6.01" fill="#3b528b"/>
<rect x="372.08" y="415.82" width="5.46" height="6.01" fill="#440154"/>
<rect x="376.94" y="415.82" width="10.32" height="6.01" fill="#fde525"/>
<rect x="386.66" y="415.82" width="10.32" height="6.01" fill="#440154"/>
<rect x="396.38" y="415.82" width="5.46" height="6.01" fill="#fde525"/>
<rect x="401.24" y="415.82" width="5.46" height="6.01" fill="#76b47a"/>
<rect x="406.1" y="415.82" width="10.32" height="6.01" fill="#d0d452"/>
<rect x="415.82" y="415.82" width="5.46" height="6.01" fill="#440154"/>
<rect x="420.68" y="415.82" width="5.46" height="6.01" fill="#3b528b"/>
<rect x="425.54" y="415.82" width="5.46" height="6.01" fill="#440154"/>
<rect x="430.4" y="415.82" width="5.46" height="6.01" fill="#3b528b"/>
<rect x="435.26" y="415.82" width="5.46" height="6.01" fill="#23878c"/>
<rect x="440.12" y="415.82" width="5.46" height="6.01" fill="#fde525"/>
<rect x="444.98" y="415.82" width="10.32" height="6.01" fill="#23878c"/>
<rect x="454.7" y="415.82" width="5.46" height="6.01" fill="#30698e"/>
<rect x="459.56" y="415.82" width="5.46" height="6.01" fill="#3b528b"/>
<rect x="464.42" y="415.82" width="10.32" height="6.01" fill="#d0d452"/>
<rect x="474.14" y="415.82" width="9.72" height="6.01" fill="#440154"/>
<rect x="284.6" y="421.23" width="5.46" height="6.01" fill="#421e6e"/>
<rect x="289.46" y="421.23" width="5.46" height="6.01" fill="#d0d452"/>
<rect x="294.32" y="421.23" width="5.46" height="6.01" fill="#fde525"/>
<rect x="299.18" y="421.23" width="5.46" height="6.01" fill="#d0d452"/>
<rect x="304.04" y="421.23" width="5.46" height="6.01" fill="#fde525"/>
<rect x="308.9" y="421.23" width="5.46" height="6.01" fill="#30698e"/>
<rect x="313.76" y="421.23" width="5.46" height="6.01" fill="#a0c36c"/>
<rect x="318.62" y="421.23" width="5.46" height="6.01" fill="#3b528b"/>
<rect x="323.48" y="421.23" width="5.46" height="6.01" fill="#fde525"/>
<rect x="328.34" y="421.23" width="5.46" height="6.01" fill="#d0d452"/>
<rect x="333.2" y="421.23" width="5.46" height="6.01" fill="#76b47a"/>
<rect x="338.06" y="421.23" width="10.32" height="6.01" fill="#fde525"/>
<rect x="347.78" y="421.23" width="5.46" height="6.01" fill="#440154"/>
<rect x="352.64" y="421.23" width="5.46" height="6.01" fill="#76b47a"/>
<rect x="357.5" y="421.23" width="5.46" height="6.01" fill="#23878c"/>
<rect x="362.36" y="421.23" width="5.46" height="6.01" fill="#76b47a"/>
<rect x="367.22" y="421.23" width="10.32" height="6.01" fill="#440154"/>
<rect x="376.94" y="421.23" width="10.32" height="6.01" fill="#fde525"/>
<rect x="386.66" y="421.23" width="5.46" height="6.01" fill="#440154"/>
<rect x="391.52" y="421.23" width="5.46" height="6.01" fill="#3b528b"/>
<rect x="396.38" y="421.23" width="5.46" height="6.01" fill="#fde525"/>
<rect x="401.24" y="421.23" width="5.46" height="6.01" fill="#d0d452"/>
<rect x="406.1" y="421.23" width="5.46" height="6.01" fill="#23878c"/>
<rect x="410.96" y="421.23" width="5.46" height="6.01" fill="#fde525"/>
<rect x="415.82" y="421.23" width="20.04" height="6.01" fill="#440154"/>
<rect x="435.26" y="421.23" width="5.46" height="6.01" fill="#30698e"/>
<rect x="440.12" y="421.23" width="5.46" height="6.01" fill="#fde525"/>
<rect x="444.98" y="421.23" width="15.18" height="6.01" fill="#23878c"/>
<rect x="459.56" y="421.23" width="5.46" height="6.01" fill="#30698e"/>
<rect x="464.42" y="421.23" width="5.46" height="6.01" fill="#3b528b"/>
<rect x="469.28" y="421.23" width="5.46" height="6.01" fill="#fde525"/>
<rect x="474.14" y="421.23" width="9.72" height="6.01" fill="#440154"/>
<rect x="284.6" y="426.64" width="5.46" height="6.01" fill="#3b528b"/>
<rect x="289.46" y="426.64" width="5.46" height="6.01" fill="#23878c"/>
<rect x="294.32" y="426.64" width="5.46" height="6.01" fill="#76b47a"/>
<rect x="299.18" y="426.64" width="5.46" height="6.01" fill="#440154"/>
<rect x="304.04" y="426.64" width="5.46" height="6.01" fill="#fde525"/>
<rect x="308.9" y="426.64" width="5.46" height="6.01" fill="#30698e"/>
<rect x="313.76" y="426.64" width="5.46" height="6.01" fill="#76b47a"/>
<rect x="318.62" y="426.64" width="5.46" height="6.01" fill="#3b528b"/>
<rect x="323.48" y="426.64" width="5.46" height="6.01" fill="#fde525"/>
<rect x="328.34" y="426.64" width="5.46" height="6.01" fill="#d0d452"/>
<rect x="333.2" y="426.64" width="5.46" height="6.01" fill="#469b87"/>
<rect x="338.06" y="426.64" width="10.32" height="6.01" fill="#fde525"/>
<rect x="347.78" y="426.64" width="5.46" height="6.01" fill="#440154"/>
<rect x="352.64" y="426.64" width="5.46" height="6.01" fill="#469b87"/>
<rect x="357.5" y="426.64" width="10.32" height="6.01" fill="#76b47a"/>
<rect x="367.22" y="426.64" width="10.32" height="6.01" fill="#3b528b"/>
<rect x="376.94" y="426.64" width="10.32" height="6.01" fill="#fde525"/>
<rect x="386.66" y="426.64" width="5.46" height="6.01" fill="#3b528b"/>
<rect x="391.52" y="426.64" width="5.46" height="6.01" fill="#30698e"/>
<rect x="396.38" y="426.64" width="5.46" height="6.01" fill="#76b47a"/>
<rect x="401.24" y="426.64" width="10.32" height="6.01" fill="#d0d452"/>
<rect x="410.96" y="426.64" width="5.46" height="6.01" fill="#fde525"/>
<rect x="415.82" y="426.64" width="20.04" height="6.01" fill="#440154"/>
<rect x="435.26" y="426.64" width="5.46" height="6.01" fill="#3b528b"/>
<rect x="440.12" y="426.64" width="5.46" height="6.01" fill="#fde525"/>
<rect x="444.98" y="426.64" width="5.46" height="6.01" fill="#23878c"/>
<rect x="449.84" y="426.64" width="5.46" height="6.01" fill="#76b47a"/>
<rect x="454.7" y="426.64" width="5.46" height="6.01" fill="#23878c"/>
<rect x="459.56" y="426.64" width="5.46" height="6.01" fill="#3b528b"/>
<rect x="464.42" y="426.64" width="5.46" height="6.01" fill="#440154"/>
<rect x="469.28" y="426.64" width="5.46" height="6.01" fill="#fde525"/>
<rect x="474.14" y="426.64" width="9.72" height="6.01" fill="#440154"/>
<rect x="284.6" y="432.06" width="5.46" height="6.01" fill="#30698e"/>
<rect x="289.46" y="432.06" width="5.46" height="6.01" fill="#76b47a"/>
<rect x="294.32" y="432.06" width="5.46" height="6.01" fill="#23878c"/>
<rect x="299.18" y="432.06" width="5.46" height="6.01" fill="#d0d452"/>
<rect x="304.04" y="432.06" width="5.46" height="6.01" fill="#fde525"/>
<rect x="308.9" y="432.06" width="5.46" height="6.01" fill="#30698e"/>
<rect x="313.76" y="432.06" width="5.46" height="6.01" fill="#fde525"/>
<rect x="318.62" y="432.06" width="5.46" height="6.01" fill="#23878c"/>
<rect x="323.48" y="432.06" width="5.46" height="6.01" fill="#fde525"/>
<rect x="328.34" y="432.06" width="5.46" height="6.01" fill="#ecdd3a"/>
<rect x="333.2" y="432.06" width="15.18" height="6.01" fill="#fde525"/>
<rect x="347.78" y="432.06" width="5.46" height="6.01" fill="#440154"/>
<rect x="352.64" y="432.06" width="5.46" height="6.01" fill="#30698e"/>
<rect x="357.5" y="432.06" width="5.46" height="6.01" fill="#76b47a"/>
<rect x="362.36" y="432.06" width="5.46" height="6.01" fill="#d0d452"/>
<rect x="367.22" y="432.06" width="5.46" height="6.01" fill="#23878c"/>
<rect x="372.08" y="432.06" width="5.46" height="6.01" fill="#3b528b"/>
<rect x="376.94" y="432.06" width="5.46" height="6.01" fill="#fde525"/>
<rect x="381.8" y="432.06" width="5.46" height="6.01" fill="#76b47a"/>
<rect x="386.66" y="432.06" width="5.46" height="6.01" fill="#3b528b"/>
<rect x="391.52" y="432.06" width="5.46" height="6.01" fill="#23878c"/>
<rect x="396.38" y="432.06" width="10.32" height="6.01" fill="#d0d452"/>
<rect x="406.1" y="432.06" width="5.46" height="6.01" fill="#23878c"/>
<rect x="410.96" y="432.06" width="5.46" height="6.01" fill="#d0d452"/>
<rect x="415.82" y="432.06" width="5.46" height="6.01" fill="#30698e"/>
<rect x="420.68" y="432.06" width="5.46" height="6.01" fill="#3b528b"/>
<rect x="425.54" y="432.06" width="5.46" height="6.01" fill="#440154"/>
<rect x="430.4" y="432.06" width="5.46" height="6.01" fill="#3b528b"/>
<rect x="435.26" y="432.06" width="5.46" height="6.01" fill="#23878c"/>
<rect x="440.12" y="432.06" width="5.46" height="6.01" fill="#fde525"/>
<rect x="444.98" y="432.06" width="5.46" height="6.01" fill="#d0d452"/>
<rect x="449.84" y="432.06" width="15.18" height="6.01" fill="#23878c"/>
<rect x="464.42" y="432.06" width="5.46" height="6.01" fill="#440154"/>
<rect x="469.28" y="432.06" width="5.46" height="6.01" fill="#76b47a"/>
<rect x="474.14" y="432.06" width="5.46" height="6.01" fill="#a0c36c"/>
<rect x="479" y="432.06" width="4.86" height="6.01" fill="#3b528b"/>
<rect x="284.6" y="437.47" width="5.46" height="6.01" fill="#23878c"/>
<rect x="289.46" y="437.47" width="5.46" height="6.01" fill="#440154"/>
<rect x="294.32" y="437.47" width="10.32" height="6.01" fill="#76b47a"/>
<rect x="304.04" y="437.47" width="5.46" height="6.01" fill="#fde525"/>
<rect x="308.9" y="437.47" width="5.46" height="6.01" fill="#23878c"/>
<rect x="313.76" y="437.47" width="10.32" height="6.01" fill="#d0d452"/>
<rect x="323.48" y="437.47" width="24.9" height="6.01" fill="#fde525"/>
<rect x="347.78" y="437.47" width="5.46" height="6.01" fill="#440154"/>
<rect x="352.64" y="437.47" width="5.46" height="6.01" fill="#76b47a"/>
<rect x="357.5" y="437.47" width="5.46" height="6.01" fill="#23878c"/>
<rect x="362.36" y="437.47" width="5.46" height="6.01" fill="#fde525"/>
<rect x="367.22" y="437.47" width="10.32" height="6.01" fill="#440154"/>
<rect x="376.94" y="437.47" width="10.32" height="6.01" fill="#fde525"/>
<rect x="386.66" y="437.47" width="5.46" height="6.01" fill="#76b47a"/>
<rect x="391.52" y="437.47" width="5.46" height="6.01" fill="#440154"/>
<rect x="396.38" y="437.47" width="10.32" height="6.01" fill="#fde525"/>
<rect x="406.1" y="437.47" width="5.46" height="6.01" fill="#23878c"/>
<rect x="410.96" y="437.47" width="5.46" height="6.01" fill="#fde525"/>
<rect x="415.82" y="437.47" width="15.18" height="6.01" fill="#440154"/>
<rect x="430.4" y="437.47" width="5.46" height="6.01" fill="#76b47a"/>
<rect x="435.26" y="437.47" width="5.46" height="6.01" fill="#3b528b"/>
<rect x="440.12" y="437.47" width="5.46" height="6.01" fill="#fde525"/>
<rect x="444.98" y="437.47" width="5.46" height="6.01" fill="#76b47a"/>
<rect x="449.84" y="437.47" width="5.46" height="6.01" fill="#23878c"/>
<rect x="454.7" y="437.47" width="10.32" height="6.01" fill="#76b47a"/>
<rect x="464.42" y="437.47" width="5.46" height="6.01" fill="#440154"/>
<rect x="469.28" y="437.47" width="5.46" height="6.01" fill="#fde525"/>
<rect x="474.14" y="437.47" width="9.72" height="6.01" fill="#440154"/>
<rect x="284.6" y="442.88" width="5.46" height="6.01" fill="#23878c"/>
<rect x="289.46" y="442.88" width="5.46" height="6.01" fill="#440154"/>
<rect x="294.32" y="442.88" width="5.46" height="6.01" fill="#a0c36c"/>
<rect x="299.18" y="442.88" width="5.46" height="6.01" fill="#23878c"/>
<rect x="304.04" y="442.88" width="5.46" height="6.01" fill="#fde525"/>
<rect x="308.9" y="442.88" width="5.46" height="6.01" fill="#23878c"/>
<rect x="313.76" y="442.88" width="5.46" height="6.01" fill="#fde525"/>
<rect x="318.62" y="442.88" width="5.46" height="6.01" fill="#23878c"/>
<rect x="323.48" y="442.88" width="20.04" height="6.01" fill="#fde525"/>
<rect x="342.92" y="442.88" width="5.46" height="6.01" fill="#d0d452"/>
<rect x="347.78" y="442.88" width="5.46" height="6.01" fill="#3b528b"/>
<rect x="352.64" y="442.88" width="5.46" height="6.01" fill="#76b47a"/>
<rect x="357.5" y="442.88" width="5.46" height="6.01" fill="#23878c"/>
<rect x="362.36" y="442.88" width="5.46" height="6.01" fill="#76b47a"/>
<rect x="367.22" y="442.88" width="10.32" height="6.01" fill="#440154"/>
<rect x="376.94" y="442.88" width="10.32" height="6.01" fill="#fde525"/>
<rect x="386.66" y="442.88" width="5.46" height="6.01" fill="#23878c"/>
<rect x="391.52" y="442.88" width="5.46" height="6.01" fill="#440154"/>
<rect x="396.38" y="442.88" width="5.46" height="6.01" fill="#d0d452"/>
<rect x="401.24" y="442.88" width="5.46" height="6.01" fill="#ecdd3a"/>
<rect x="406.1" y="442.88" width="5.46" height="6.01" fill="#23878c"/>
<rect x="410.96" y="442.88" width="5.46" height="6.01" fill="#fde525"/>
<rect x="415.82" y="442.88" width="5.46" height="6.01" fill="#3b528b"/>
<rect x="420.68" y="442.88" width="10.32" height="6.01" fill="#440154"/>
<rect x="430.4" y="442.88" width="5.46" height="6.01" fill="#30698e"/>
<rect x="435.26" y="442.88" width="5.46" height="6.01" fill="#3b528b"/>
<rect x="440.12" y="442.88" width="5.46" height="6.01" fill="#d0d452"/>
<rect x="444.98" y="442.88" width="10.32" height="6.01" fill="#76b47a"/>
<rect x="454.7" y="442.88" width="10.32" height="6.01" fill="#fde525"/>
<rect x="464.42" y="442.88" width="5.46" height="6.01" fill="#23878c"/>
<rect x="469.28" y="442.88" width="5.46" height="6.01" fill="#fde525"/>
<rect x="474.14" y="442.88" width="9.72" height="6.01" fill="#440154"/>
<rect x="284.6" y="448.29" width="10.32" height="6.01" fill="#23878c"/>
<rect x="294.32" y="448.29" width="5.46" height="6.01" fill="#fde525"/>
<rect x="299.18" y="448.29" width="5.46" height="6.01" fill="#d0d452"/>
<rect x="304.04" y="448.29" width="5.46" height="6.01" fill="#fde525"/>
<rect x="308.9" y="448.29" width="5.46" height="6.01" fill="#23878c"/>
<rect x="313.76" y="448.29" width="10.32" height="6.01" fill="#440154"/>
<rect x="323.48" y="448.29" width="20.04" height="6.01" fill="#fde525"/>
<rect x="342.92" y="448.29" width="10.32" height="6.01" fill="#440154"/>
<rect x="352.64" y="448.29" width="5.46" height="6.01" fill="#23878c"/>
<rect x="357.5" y="448.29" width="10.32" height="6.01" fill="#fde525"/>
<rect x="367.22" y="448.29" width="10.32" height="6.01" fill="#440154"/>
<rect x="376.94" y="448.29" width="10.32" height="6.01" fill="#fde525"/>
<rect x="386.66" y="448.29" width="5.46" height="6.01" fill="#d0d452"/>
<rect x="391.52" y="448.29" width="5.46" height="6.01" fill="#440154"/>
<rect x="396.38" y="448.29" width="20.04" height="6.01" fill="#fde525"/>
<rect x="415.82" y="448.29" width="10.32" height="6.01" fill="#440154"/>
<rect x="425.54" y="448.29" width="5.46" height="6.01" fill="#421e6e"/>
<rect x="430.4" y="448.29" width="5.46" height="6.01" fill="#d0d452"/>
<rect x="435.26" y="448.29" width="5.46" height="6.01" fill="#440154"/>
<rect x="440.12" y="448.29" width="10.32" height="6.01" fill="#fde525"/>
<rect x="449.84" y="448.29" width="5.46" height="6.01" fill="#440154"/>
<rect x="454.7" y="448.29" width="5.46" height="6.01" fill="#23878c"/>
<rect x="459.56" y="448.29" width="5.46" height="6.01" fill="#d0d452"/>
<rect x="464.42" y="448.29" width="5.46" height="6.01" fill="#440154"/>
<rect x="469.28" y="448.29" width="5.46" height="6.01" fill="#fde525"/>
<rect x="474.14" y="448.29" width="9.72" height="6.01" fill="#440154"/>
<rect x="284.6" y="453.7" width="5.46" height="6.01" fill="#440154"/>
<rect x="289.46" y="453.7" width="5.46" height="6.01" fill="#d0d452"/>
<rect x="294.32" y="453.7" width="5.46" height="6.01" fill="#fde525"/>
<rect x="299.18" y="453.7" width="5.46" height="6.01" fill="#440154"/>
<rect x="304.04" y="453.7" width="5.46" height="6.01" fill="#fde525"/>
<rect x="308.9" y="453.7" width="5.46" height="6.01" fill="#30698e"/>
<rect x="313.76" y="453.7" width="5.46" height="6.01" fill="#fde525"/>
<rect x="318.62" y="453.7" width="5.46" height="6.01" fill="#23878c"/>
<rect x="323.48" y="453.7" width="5.46" height="6.01" fill="#fde525"/>
<rect x="328.34" y="453.7" width="5.46" height="6.01" fill="#d0d452"/>
<rect x="333.2" y="453.7" width="10.32" height="6.01" fill="#fde525"/>
<rect x="342.92" y="453.7" width="15.18" height="6.01" fill="#23878c"/>
<rect x="357.5" y="453.7" width="10.32" height="6.01" fill="#fde525"/>
<rect x="367.22" y="453.7" width="10.32" height="6.01" fill="#440154"/>
<rect x="376.94" y="453.7" width="10.32" height="6.01" fill="#fde525"/>
<rect x="386.66" y="453.7" width="15.18" height="6.01" fill="#23878c"/>
<rect x="401.24" y="453.7" width="5.46" height="6.01" fill="#fde525"/>
<rect x="406.1" y="453.7" width="5.46" height="6.01" fill="#3b528b"/>
<rect x="410.96" y="453.7" width="5.46" height="6.01" fill="#d0d452"/>
<rect x="415.82" y="453.7" width="20.04" height="6.01" fill="#440154"/>
<rect x="435.26" y="453.7" width="5.46" height="6.01" fill="#23878c"/>
<rect x="440.12" y="453.7" width="10.32" height="6.01" fill="#fde525"/>
<rect x="449.84" y="453.7" width="10.32" height="6.01" fill="#d0d452"/>
<rect x="459.56" y="453.7" width="10.32" height="6.01" fill="#440154"/>
<rect x="469.28" y="453.7" width="10.32" height="6.01" fill="#d0d452"/>
<rect x="479" y="453.7" width="4.86" height="6.01" fill="#440154"/>
<rect x="284.6" y="459.12" width="5.46" height="6.01" fill="#440154"/>
<rect x="289.46" y="459.12" width="10.32" height="6.01" fill="#23878c"/>
<rect x="299.18" y="459.12" width="5.46" height="6.01" fill="#76b47a"/>
<rect x="304.04" y="459.12" width="10.32" height="6.01" fill="#a0c36c"/>
<rect x="313.76" y="459.12" width="5.46" height="6.01" fill="#23878c"/>
<rect x="318.62" y="459.12" width="29.76" height="6.01" fill="#fde525"/>
<rect x="347.78" y="459.12" width="5.46" height="6.01" fill="#440154"/>
<rect x="352.64" y="459.12" width="5.46" height="6.01" fill="#23878c"/>
<rect x="357.5" y="459.12" width="5.46" height="6.01" fill="#76b47a"/>
<rect x="362.36" y="459.12" width="5.46" height="6.01" fill="#23878c"/>
<rect x="367.22" y="459.12" width="5.46" height="6.01" fill="#3b528b"/>
<rect x="372.08" y="459.12" width="5.46" height="6.01" fill="#440154"/>
<rect x="376.94" y="459.12" width="15.18" height="6.01" fill="#fde525"/>
<rect x="391.52" y="459.12" width="5.46" height="6.01" fill="#440154"/>
<rect x="396.38" y="459.12" width="10.32" height="6.01" fill="#fde525"/>
<rect x="406.1" y="459.12" width="5.46" height="6.01" fill="#3b528b"/>
<rect x="410.96" y="459.12" width="5.46" height="6.01" fill="#23878c"/>
<rect x="415.82" y="459.12" width="20.04" height="6.01" fill="#440154"/>
<rect x="435.26" y="459.12" width="5.46" height="6.01" fill="#23878c"/>
<rect x="440.12" y="459.12" width="5.46" height="6.01" fill="#76b47a"/>
<rect x="444.98" y="459.12" width="5.46" height="6.01" fill="#fde525"/>
<rect x="449.84" y="459.12" width="5.46" height="6.01" fill="#d0d452"/>
<rect x="454.7" y="459.12" width="5.46" height="6.01" fill="#fde525"/>
<rect x="459.56" y="459.12" width="5.46" height="6.01" fill="#76b47a"/>
<rect x="464.42" y="459.12" width="5.46" height="6.01" fill="#440154"/>
<rect x="469.28" y="459.12" width="5.46" height="6.01" fill="#fde525"/>
<rect x="474.14" y="459.12" width="5.46" height="6.01" fill="#3b528b"/>
<rect x="479" y="459.12" width="4.86" height="6.01" fill="#440154"/>
<rect x="284.6" y="464.53" width="5.46" height="6.01" fill="#421e6e"/>
<rect x="289.46" y="464.53" width="5.46" height="6.01" fill="#30698e"/>
<rect x="294.32" y="464.53" width="5.46" height="6.01" fill="#3b528b"/>
<rect x="299.18" y="464.53" width="5.46" height="6.01" fill="#23878c"/>
<rect x="304.04" y="464.53" width="5.46" height="6.01" fill="#fde525"/>
<rect x="308.9" y="464.53" width="5.46" height="6.01" fill="#d0d452"/>
<rect x="313.76" y="464.53" width="5.46" height="6.01" fill="#fde525"/>
<rect x="318.62" y="464.53" width="5.46" height="6.01" fill="#3b528b"/>
<rect x="323.48" y="464.53" width="10.32" height="6.01" fill="#fde525"/>
<rect x="333.2" y="464.53" width="5.46" height="6.01" fill="#ecdd3a"/>
<rect x="338.06" y="464.53" width="10.32" height="6.01" fill="#fde525"/>
<rect x="347.78" y="464.53" width="5.46" height="6.01" fill="#440154"/>
<rect x="352.64" y="464.53" width="5.46" height="6.01" fill="#d0d452"/>
<rect x="357.5" y="464.53" width="5.46" height="6.01" fill="#3b528b"/>
<rect x="362.36" y="464.53" width="5.46" height="6.01" fill="#76b47a"/>
<rect x="367.22" y="464.53" width="5.46" height="6.01" fill="#3b528b"/>
<rect x="372.08" y="464.53" width="5.46" height="6.01" fill="#440154"/>
<rect x="376.94" y="464.53" width="15.18" height="6.01" fill="#fde525"/>
<rect x="391.52" y="464.53" width="5.46" height="6.01" fill="#440154"/>
<rect x="396.38" y="464.53" width="5.46" height="6.01" fill="#23878c"/>
<rect x="401.24" y="464.53" width="5.46" height="6.01" fill="#fde525"/>
<rect x="406.1" y="464.53" width="5.46" height="6.01" fill="#440154"/>
<rect x="410.96" y="464.53" width="5.46" height="6.01" fill="#fde525"/>
<rect x="415.82" y="464.53" width="20.04" height="6.01" fill="#440154"/>
<rect x="435.26" y="464.53" width="10.32" height="6.01" fill="#23878c"/>
<rect x="444.98" y="464.53" width="15.18" height="6.01" fill="#fde525"/>
<rect x="459.56" y="464.53" width="10.32" height="6.01" fill="#23878c"/>
<rect x="469.28" y="464.53" width="5.46" height="6.01" fill="#fde525"/>
<rect x="474.14" y="464.53" width="9.72" height="6.01" fill="#440154"/>
<rect x="284.6" y="469.94" width="5.46" height="6.01" fill="#23878c"/>
<rect x="289.46" y="469.94" width="5.46" height="6.01" fill="#a0c36c"/>
<rect x="294.32" y="469.94" width="5.46" height="6.01" fill="#23878c"/>
<rect x="299.18" y="469.94" width="15.18" height="6.01" fill="#fde525"/>
<rect x="313.76" y="469.94" width="5.46" height="6.01" fill="#d0d452"/>
<rect x="318.62" y="469.94" width="5.46" height="6.01" fill="#440154"/>
<rect x="323.48" y="469.94" width="20.04" height="6.01" fill="#fde525"/>
<rect x="342.92" y="469.94" width="5.46" height="6.01" fill="#d0d452"/>
<rect x="347.78" y="469.94" width="5.46" height="6.01" fill="#440154"/>
<rect x="352.64" y="469.94" width="5.46" height="6.01" fill="#23878c"/>
<rect x="357.5" y="469.94" width="10.32" height="6.01" fill="#d0d452"/>
<rect x="367.22" y="469.94" width="10.32" height="6.01" fill="#440154"/>
<rect x="376.94" y="469.94" width="15.18" height="6.01" fill="#fde525"/>
<rect x="391.52" y="469.94" width="5.46" height="6.01" fill="#440154"/>
<rect x="396.38" y="469.94" width="5.46" height="6.01" fill="#23878c"/>
<rect x="401.24" y="469.94" width="5.46" height="6.01" fill="#fde525"/>
<rect x="406.1" y="469.94" width="5.46" height="6.01" fill="#440154"/>
<rect x="410.96" y="469.94" width="5.46" height="6.01" fill="#fde525"/>
<rect x="415.82" y="469.94" width="24.9" height="6.01" fill="#440154"/>
<rect x="440.12" y="469.94" width="20.04" height="6.01" fill="#fde525"/>
<rect x="459.56" y="469.94" width="10.32" height="6.01" fill="#440154"/>
<rect x="469.28" y="469.94" width="5.46" height="6.01" fill="#fde525"/>
<rect x="474.14" y="469.94" width="9.72" height="6.01" fill="#440154"/>
<rect x="284.6" y="475.35" width="5.46" height="6.01" fill="#23878c"/>
<rect x="289.46" y="475.35" width="5.46" height="6.01" fill="#fde525"/>
<rect x="294.32" y="475.35" width="5.46" height="6.01" fill="#a0c36c"/>
<rect x="299.18" y="475.35" width="20.04" height="6.01" fill="#fde525"/>
<rect x="318.62" y="475.35" width="5.46" height="6.01" fill="#3b528b"/>
<rect x="323.48" y="475.35" width="5.46" height="6.01" fill="#440154"/>
<rect x="328.34" y="475.35" width="5.46" height="6.01" fill="#23878c"/>
<rect x="333.2" y="475.35" width="15.18" height="6.01" fill="#fde525"/>
<rect x="347.78" y="475.35" width="5.46" height="6.01" fill="#440154"/>
<rect x="352.64" y="475.35" width="5.46" height="6.01" fill="#d0d452"/>
<rect x="357.5" y="475.35" width="5.46" height="6.01" fill="#fde525"/>
<rect x="362.36" y="475.35" width="5.46" height="6.01" fill="#76b47a"/>
<rect x="367.22" y="475.35" width="10.32" height="6.01" fill="#d0d452"/>
<rect x="376.94" y="475.35" width="10.32" height="6.01" fill="#fde525"/>
<rect x="386.66" y="475.35" width="5.46" height="6.01" fill="#d0d452"/>
<rect x="391.52" y="475.35" width="5.46" height="6.01" fill="#76b47a"/>
<rect x="396.38" y="475.35" width="5.46" height="6.01" fill="#30698e"/>
<rect x="401.24" y="475.35" width="5.46" height="6.01" fill="#d0d452"/>
<rect x="406.1" y="475.35" width="5.46" height="6.01" fill="#440154"/>
<rect x="410.96" y="475.35" width="5.46" height="6.01" fill="#23878c"/>
<rect x="415.82" y="475.35" width="10.32" height="6.01" fill="#440154"/>
<rect x="425.54" y="475.35" width="5.46" height="6.01" fill="#23878c"/>
<rect x="430.4" y="475.35" width="5.46" height="6.01" fill="#fde525"/>
<rect x="435.26" y="475.35" width="5.46" height="6.01" fill="#a0c36c"/>
<rect x="440.12" y="475.35" width="10.32" height="6.01" fill="#440154"/>
<rect x="449.84" y="475.35" width="5.46" height="6.01" fill="#3b528b"/>
<rect x="454.7" y="475.35" width="5.46" height="6.01" fill="#440154"/>
<rect x="459.56" y="475.35" width="5.46" height="6.01" fill="#76b47a"/>
<rect x="464.42" y="475.35" width="5.46" height="6.01" fill="#23878c"/>
<rect x="469.28" y="475.35" width="5.46" height="6.01" fill="#fde525"/>
<rect x="474.14" y="475.35" width="5.46" height="6.01" fill="#3b528b"/>
<rect x="479" y="475.35" width="4.86" height="6.01" fill="#76b47a"/>
<rect x="284.6" y="480.76" width="5.46" height="6.01" fill="#23878c"/>
<rect x="289.46" y="480.76" width="20.04" height="6.01" fill="#fde525"/>
<rect x="308.9" y="480.76" width="5.46" height="6.01" fill="#d0d452"/>
<rect x="313.76" y="480.76" width="5.46" height="6.01" fill="#23878c"/>
<rect x="318.62" y="480.76" width="5.46" height="6.01" fill="#30698e"/>
<rect x="323.48" y="480.76" width="5.46" height="6.01" fill="#23878c"/>
<rect x="328.34" y="480.76" width="5.46" height="6.01" fill="#76b47a"/>
<rect x="333.2" y="480.76" width="5.46" height="6.01" fill="#d0d452"/>
<rect x="338.06" y="480.76" width="5.46" height="6.01" fill="#fde525"/>
<rect x="342.92" y="480.76" width="5.46" height="6.01" fill="#d0d452"/>
<rect x="347.78" y="480.76" width="5.46" height="6.01" fill="#3b528b"/>
<rect x="352.64" y="480.76" width="10.32" height="6.01" fill="#a0c36c"/>
<rect x="362.36" y="480.76" width="5.46" height="6.01" fill="#76b47a"/>
<rect x="367.22" y="480.76" width="5.46" height="6.01" fill="#a0c36c"/>
<rect x="372.08" y="480.76" width="5.46" height="6.01" fill="#23878c"/>
<rect x="376.94" y="480.76" width="10.32" height="6.01" fill="#fde525"/>
<rect x="386.66" y="480.76" width="10.32" height="6.01" fill="#23878c"/>
<rect x="396.38" y="480.76" width="5.46" height="6.01" fill="#a0c36c"/>
<rect x="401.24" y="480.76" width="5.46" height="6.01" fill="#23878c"/>
<rect x="406.1" y="480.76" width="5.46" height="6.01" fill="#30698e"/>
<rect x="410.96" y="480.76" width="5.46" height="6.01" fill="#23878c"/>
<rect x="415.82" y="480.76" width="10.32" height="6.01" fill="#440154"/>
<rect x="425.54" y="480.76" width="5.46" height="6.01" fill="#23878c"/>
<rect x="430.4" y="480.76" width="10.32" height="6.01" fill="#76b47a"/>
<rect x="440.12" y="480.76" width="5.46" height="6.01" fill="#30698e"/>
<rect x="444.98" y="480.76" width="5.46" height="6.01" fill="#3b528b"/>
<rect x="449.84" y="480.76" width="5.46" height="6.01" fill="#23878c"/>
<rect x="454.7" y="480.76" width="10.32" height="6.01" fill="#30698e"/>
<rect x="464.42" y="480.76" width="5.46" height="6.01" fill="#23878c"/>
<rect x="469.28" y="480.76" width="5.46" height="6.01" fill="#76b47a"/>
<rect x="474.14" y="480.76" width="5.46" height="6.01" fill="#3b528b"/>
<rect x="479" y="480.76" width="4.86" height="6.01" fill="#30698e"/>
<rect x="284.6" y="486.18" width="10.32" height="6.01" fill="#440154"/>
<rect x="294.32" y="486.18" width="10.32" height="6.01" fill="#fde525"/>
<rect x="304.04" y="486.18" width="5.46" height="6.01" fill="#23878c"/>
<rect x="308.9" y="486.18" width="10.32" height="6.01" fill="#fde525"/>
<rect x="318.62" y="486.18" width="5.46" height="6.01" fill="#23878c"/>
<rect x="323.48" y="486.18" width="5.46" height="6.01" fill="#76b47a"/>
<rect x="328.34" y="486.18" width="20.04" height="6.01" fill="#fde525"/>
<rect x="347.78" y="486.18" width="5.46" height="6.01" fill="#440154"/>
<rect x="352.64" y="486.18" width="10.32" height="6.01" fill="#d0d452"/>
<rect x="362.36" y="486.18" width="5.46" height="6.01" fill="#fde525"/>
<rect x="367.22" y="486.18" width="10.32" height="6.01" fill="#440154"/>
<rect x="376.94" y="486.18" width="15.18" height="6.01" fill="#fde525"/>
<rect x="391.52" y="486.18" width="5.46" height="6.01" fill="#440154"/>
<rect x="396.38" y="486.18" width="5.46" height="6.01" fill="#fde525"/>
<rect x="401.24" y="486.18" width="5.46" height="6.01" fill="#d0d452"/>
<rect x="406.1" y="486.18" width="5.46" height="6.01" fill="#30698e"/>
<rect x="410.96" y="486.18" width="5.46" height="6.01" fill="#23878c"/>
<rect x="415.82" y="486.18" width="5.46" height="6.01" fill="#440154"/>
<rect x="420.68" y="486.18" width="10.32" height="6.01" fill="#fde525"/>
<rect x="430.4" y="486.18" width="5.46" height="6.01" fill="#440154"/>
<rect x="435.26" y="486.18" width="5.46" height="6.01" fill="#fde525"/>
<rect x="440.12" y="486.18" width="10.32" height="6.01" fill="#440154"/>
<rect x="449.84" y="486.18" width="5.46" height="6.01" fill="#fde525"/>
<rect x="454.7" y="486.18" width="5.46" height="6.01" fill="#440154"/>
<rect x="459.56" y="486.18" width="5.46" height="6.01" fill="#3b528b"/>
<rect x="464.42" y="486.18" width="5.46" height="6.01" fill="#440154"/>
<rect x="469.28" y="486.18" width="5.46" height="6.01" fill="#fde525"/>
<rect x="474.14" y="486.18" width="9.72" height="6.01" fill="#440154"/>
<rect x="284.6" y="491.59" width="5.46" height="6.01" fill="#440154"/>
<rect x="289.46" y="491.59" width="5.46" height="6.01" fill="#d0d452"/>
<rect x="294.32" y="491.59" width="5.46" height="6.01" fill="#30698e"/>
<rect x="299.18" y="491.59" width="5.46" height="6.01" fill="#23878c"/>
<rect x="304.04" y="491.59" width="5.46" height="6.01" fill="#fde525"/>
<rect x="308.9" y="491.59" width="5.46" height="6.01" fill="#23878c"/>
<rect x="313.76" y="491.59" width="10.32" height="6.01" fill="#3b528b"/>
<rect x="323.48" y="491.59" width="5.46" height="6.01" fill="#a0c36c"/>
<rect x="328.34" y="491.59" width="15.18" height="6.01" fill="#fde525"/>
<rect x="342.92" y="491.59" width="5.46" height="6.01" fill="#76b47a"/>
<rect x="347.78" y="491.59" width="5.46" height="6.01" fill="#23878c"/>
<rect x="352.64" y="491.59" width="5.46" height="6.01" fill="#3b528b"/>
<rect x="357.5" y="491.59" width="15.18" height="6.01" fill="#23878c"/>
<rect x="372.08" y="491.59" width="5.46" height="6.01" fill="#fde525"/>
<rect x="376.94" y="491.59" width="5.46" height="6.01" fill="#76b47a"/>
<rect x="381.8" y="491.59" width="5.46" height="6.01" fill="#d0d452"/>
<rect x="386.66" y="491.59" width="5.46" height="6.01" fill="#23878c"/>
<rect x="391.52" y="491.59" width="5.46" height="6.01" fill="#30698e"/>
<rect x="396.38" y="491.59" width="10.32" height="6.01" fill="#23878c"/>
<rect x="406.1" y="491.59" width="5.46" height="6.01" fill="#440154"/>
<rect x="410.96" y="491.59" width="5.46" height="6.01" fill="#d0d452"/>
<rect x="415.82" y="491.59" width="10.32" height="6.01" fill="#23878c"/>
<rect x="425.54" y="491.59" width="5.46" height="6.01" fill="#30698e"/>
<rect x="430.4" y="491.59" width="10.32" height="6.01" fill="#23878c"/>
<rect x="440.12" y="491.59" width="5.46" height="6.01" fill="#fde525"/>
<rect x="444.98" y="491.59" width="5.46" height="6.01" fill="#76b47a"/>
<rect x="449.84" y="491.59" width="10.32" height="6.01" fill="#23878c"/>
<rect x="459.56" y="491.59" width="5.46" height="6.01" fill="#76b47a"/>
<rect x="464.42" y="491.59" width="5.46" height="6.01" fill="#440154"/>
<rect x="469.28" y="491.59" width="5.46" height="6.01" fill="#fde525"/>
<rect x="474.14" y="491.59" width="5.46" height="6.01" fill="#440154"/>
<rect x="479" y="491.59" width="4.86" height="6.01" fill="#23878c"/>
<rect x="284.6" y="497" width="5.46" height="6.01" fill="#23878c"/>
<rect x="289.46" y="497" width="5.46" height="6.01" fill="#3b528b"/>
<rect x="294.32" y="497" width="5.46" height="6.01" fill="#76b47a"/>
<rect x="299.18" y="497" width="10.32" height="6.01" fill="#d0d452"/>
<rect x="308.9" y="497" width="5.46" height="6.01" fill="#76b47a"/>
<rect x="313.76" y="497" width="5.46" height="6.01" fill="#d0d452"/>
<rect x="318.62" y="497" width="5.46" height="6.01" fill="#76b47a"/>
<rect x="323.48" y="497" width="5.46" height="6.01" fill="#d0d452"/>
<rect x="328.34" y="497" width="5.46" height="6.01" fill="#fde525"/>
<rect x="333.2" y="497" width="5.46" height="6.01" fill="#23878c"/>
<rect x="338.06" y="497" width="5.46" height="6.01" fill="#fde525"/>
<rect x="342.92" y="497" width="5.46" height="6.01" fill="#23878c"/>
<rect x="347.78" y="497" width="10.32" height="6.01" fill="#d0d452"/>
<rect x="357.5" y="497" width="5.46" height="6.01" fill="#3b528b"/>
<rect x="362.36" y="497" width="10.32" height="6.01" fill="#76b47a"/>
<rect x="372.08" y="497" width="5.46" height="6.01" fill="#3b528b"/>
<rect x="376.94" y="497" width="5.46" height="6.01" fill="#23878c"/>
<rect x="381.8" y="497" width="5.46" height="6.01" fill="#d0d452"/>
<rect x="386.66" y="497" width="10.32" height="6.01" fill="#fde525"/>
<rect x="396.38" y="497" width="10.32" height="6.01" fill="#23878c"/>
<rect x="406.1" y="497" width="5.46" height="6.01" fill="#440154"/>
<rect x="410.96" y="497" width="5.46" height="6.01" fill="#d0d452"/>
<rect x="415.82" y="497" width="5.46" height="6.01" fill="#76b47a"/>
<rect x="420.68" y="497" width="5.46" height="6.01" fill="#440154"/>
<rect x="425.54" y="497" width="5.46" height="6.01" fill="#76b47a"/>
<rect x="430.4" y="497" width="10.32" height="6.01" fill="#23878c"/>
<rect x="440.12" y="497" width="5.46" height="6.01" fill="#d0d452"/>
<rect x="444.98" y="497" width="5.46" height="6.01" fill="#440154"/>
<rect x="449.84" y="497" width="10.32" height="6.01" fill="#23878c"/>
<rect x="459.56" y="497" width="5.46" height="6.01" fill="#440154"/>
<rect x="464.42" y="497" width="5.46" height="6.01" fill="#3b528b"/>
<rect x="469.28" y="497" width="5.46" height="6.01" fill="#fde525"/>
<rect x="474.14" y="497" width="5.46" height="6.01" fill="#3b528b"/>
<rect x="479" y="497" width="4.86" height="6.01" fill="#23878c"/>
<rect x="284.6" y="502.41" width="10.32" height="6.01" fill="#3b528b"/>
<rect x="294.32" y="502.41" width="5.46" height="6.01" fill="#23878c"/>
<rect x="299.18" y="502.41" width="5.46" height="6.01" fill="#3b528b"/>
<rect x="304.04" y="502.41" width="5.46" height="6.01" fill="#23878c"/>
<rect x="308.9" y="502.41" width="5.46" height="6.01" fill="#76b47a"/>
<rect x="313.76" y="502.41" width="5.46" height="6.01" fill="#30698e"/>
<rect x="318.62" y="502.41" width="5.46" height="6.01" fill="#3b528b"/>
<rect x="323.48" y="502.41" width="5.46" height="6.01" fill="#23878c"/>
<rect x="328.34" y="502.41" width="5.46" height="6.01" fill="#30698e"/>
<rect x="333.2" y="502.41" width="5.46" height="6.01" fill="#23878c"/>
<rect x="338.06" y="502.41" width="5.46" height="6.01" fill="#fde525"/>
<rect x="342.92" y="502.41" width="5.46" height="6.01" fill="#440154"/>
<rect x="347.78" y="502.41" width="10.32" height="6.01" fill="#76b47a"/>
<rect x="357.5" y="502.41" width="20.04" height="6.01" fill="#23878c"/>
<rect x="376.94" y="502.41" width="5.46" height="6.01" fill="#3b528b"/>
<rect x="381.8" y="502.41" width="5.46" height="6.01" fill="#23878c"/>
<rect x="386.66" y="502.41" width="5.46" height="6.01" fill="#fde525"/>
<rect x="391.52" y="502.41" width="5.46" height="6.01" fill="#23878c"/>
<rect x="396.38" y="502.41" width="5.46" height="6.01" fill="#76b47a"/>
<rect x="401.24" y="502.41" width="5.46" height="6.01" fill="#30698e"/>
<rect x="406.1" y="502.41" width="5.46" height="6.01" fill="#440154"/>
<rect x="410.96" y="502.41" width="5.46" height="6.01" fill="#23878c"/>
<rect x="415.82" y="502.41" width="5.46" height="6.01" fill="#d0d452"/>
<rect x="420.68" y="502.41" width="5.46" height="6.01" fill="#76b47a"/>
<rect x="425.54" y="502.41" width="5.46" height="6.01" fill="#23878c"/>
<rect x="430.4" y="502.41" width="10.32" height="6.01" fill="#fde525"/>
<rect x="440.12" y="502.41" width="5.46" height="6.01" fill="#d0d452"/>
<rect x="444.98" y="502.41" width="5.46" height="6.01" fill="#fde525"/>
<rect x="449.84" y="502.41" width="5.46" height="6.01" fill="#23878c"/>
<rect x="454.7" y="502.41" width="5.46" height="6.01" fill="#76b47a"/>
<rect x="459.56" y="502.41" width="5.46" height="6.01" fill="#23878c"/>
<rect x="464.42" y="502.41" width="10.32" height="6.01" fill="#fde525"/>
<rect x="474.14" y="502.41" width="5.46" height="6.01" fill="#d0d452"/>
<rect x="479" y="502.41" width="4.86" height="6.01" fill="#fde525"/>
<rect x="284.6" y="507.82" width="20.04" height="6.01" fill="#440154"/>
<rect x="304.04" y="507.82" width="15.18" height="6.01" fill="#fde525"/>
<rect x="318.62" y="507.82" width="5.46" height="6.01" fill="#440154"/>
<rect x="323.48" y="507.82" width="10.32" height="6.01" fill="#fde525"/>
<rect x="333.2" y="507.82" width="5.46" height="6.01" fill="#440154"/>
<rect x="338.06" y="507.82" width="5.46" height="6.01" fill="#fde525"/>
<rect x="342.92" y="507.82" width="5.46" height="6.01" fill="#3b528b"/>
<rect x="347.78" y="507.82" width="5.46" height="6.01" fill="#fde525"/>
<rect x="352.64" y="507.82" width="10.32" height="6.01" fill="#440154"/>
<rect x="362.36" y="507.82" width="5.46" height="6.01" fill="#fde525"/>
<rect x="367.22" y="507.82" width="10.32" height="6.01" fill="#440154"/>
<rect x="376.94" y="507.82" width="5.46" height="6.01" fill="#fde525"/>
<rect x="381.8" y="507.82" width="5.46" height="6.01" fill="#440154"/>
<rect x="386.66" y="507.82" width="5.46" height="6.01" fill="#fde525"/>
<rect x="391.52" y="507.82" width="5.46" height="6.01" fill="#440154"/>
<rect x="396.38" y="507.82" width="20.04" height="6.01" fill="#fde525"/>
<rect x="415.82" y="507.82" width="10.32" height="6.01" fill="#440154"/>
<rect x="425.54" y="507.82" width="5.46" height="6.01" fill="#23878c"/>
<rect x="430.4" y="507.82" width="10.32" height="6.01" fill="#440154"/>
<rect x="440.12" y="507.82" width="10.32" height="6.01" fill="#fde525"/>
<rect x="449.84" y="507.82" width="10.32" height="6.01" fill="#440154"/>
<rect x="459.56" y="507.82" width="5.46" height="6.01" fill="#23878c"/>
<rect x="464.42" y="507.82" width="10.32" height="6.01" fill="#fde525"/>
<rect x="474.14" y="507.82" width="9.72" height="6.01" fill="#440154"/>
<rect x="284.6" y="513.24" width="5.46" height="6.01" fill="#23878c"/>
<rect x="289.46" y="513.24" width="10.32" height="6.01" fill="#440154"/>
<rect x="299.18" y="513.24" width="5.46" height="6.01" fill="#23878c"/>
<rect x="304.04" y="513.24" width="15.18" height="6.01" fill="#fde525"/>
<rect x="318.62" y="513.24" width="5.46" height="6.01" fill="#440154"/>
<rect x="323.48" y="513.24" width="10.32" height="6.01" fill="#fde525"/>
<rect x="333.2" y="513.24" width="5.46" height="6.01" fill="#440154"/>
<rect x="338.06" y="513.24" width="10.32" height="6.01" fill="#fde525"/>
<rect x="347.78" y="513.24" width="5.46" height="6.01" fill="#3b528b"/>
<rect x="352.64" y="513.24" width="5.46" height="6.01" fill="#440154"/>
<rect x="357.5" y="513.24" width="10.32" height="6.01" fill="#fde525"/>
<rect x="367.22" y="513.24" width="10.32" height="6.01" fill="#440154"/>
<rect x="376.94" y="513.24" width="5.46" height="6.01" fill="#fde525"/>
<rect x="381.8" y="513.24" width="5.46" height="6.01" fill="#440154"/>
<rect x="386.66" y="513.24" width="5.46" height="6.01" fill="#fde525"/>
<rect x="391.52" y="513.24" width="5.46" height="6.01" fill="#440154"/>
<rect x="396.38" y="513.24" width="10.32" height="6.01" fill="#fde525"/>
<rect x="406.1" y="513.24" width="5.46" height="6.01" fill="#d0d452"/>
<rect x="410.96" y="513.24" width="5.46" height="6.01" fill="#fde525"/>
<rect x="415.82" y="513.24" width="24.9" height="6.01" fill="#440154"/>
<rect x="440.12" y="513.24" width="20.04" height="6.01" fill="#fde525"/>
<rect x="459.56" y="513.24" width="5.46" height="6.01" fill="#76b47a"/>
<rect x="464.42" y="513.24" width="5.46" height="6.01" fill="#440154"/>
<rect x="469.28" y="513.24" width="5.46" height="6.01" fill="#fde525"/>
<rect x="474.14" y="513.24" width="9.72" height="6.01" fill="#440154"/>
<rect x="284.6" y="518.65" width="15.18" height="6.01" fill="#440154"/>
<rect x="299.18" y="518.65" width="5.46" height="6.01" fill="#30698e"/>
<rect x="304.04" y="518.65" width="15.18" height="6.01" fill="#fde525"/>
<rect x="318.62" y="518.65" width="5.46" height="6.01" fill="#440154"/>
<rect x="323.48" y="518.65" width="10.32" height="6.01" fill="#fde525"/>
<rect x="333.2" y="518.65" width="5.46" height="6.01" fill="#440154"/>
<rect x="338.06" y="518.65" width="10.32" height="6.01" fill="#fde525"/>
<rect x="347.78" y="518.65" width="5.46" height="6.01" fill="#3b528b"/>
<rect x="352.64" y="518.65" width="5.46" height="6.01" fill="#440154"/>
<rect x="357.5" y="518.65" width="5.46" height="6.01" fill="#76b47a"/>
<rect x="362.36" y="518.65" width="5.46" height="6.01" fill="#fde525"/>
<rect x="367.22" y="518.65" width="10.32" height="6.01" fill="#440154"/>
<rect x="376.94" y="518.65" width="5.46" height="6.01" fill="#fde525"/>
<rect x="381.8" y="518.65" width="5.46" height="6.01" fill="#23878c"/>
<rect x="386.66" y="518.65" width="5.46" height="6.01" fill="#fde525"/>
<rect x="391.52" y="518.65" width="5.46" height="6.01" fill="#440154"/>
<rect x="396.38" y="518.65" width="20.04" height="6.01" fill="#fde525"/>
<rect x="415.82" y="518.65" width="24.9" height="6.01" fill="#440154"/>
<rect x="440.12" y="518.65" width="5.46" height="6.01" fill="#d0d452"/>
<rect x="444.98" y="518.65" width="15.18" height="6.01" fill="#fde525"/>
<rect x="459.56" y="518.65" width="5.46" height="6.01" fill="#23878c"/>
<rect x="464.42" y="518.65" width="5.46" height="6.01" fill="#440154"/>
<rect x="469.28" y="518.65" width="5.46" height="6.01" fill="#fde525"/>
<rect x="474.14" y="518.65" width="9.72" height="6.01" fill="#440154"/>
<rect x="284.6" y="524.06" width="5.46" height="6.01" fill="#23878c"/>
<rect x="289.46" y="524.06" width="5.46" height="6.01" fill="#3b528b"/>
<rect x="294.32" y="524.06" width="10.32" height="6.01" fill="#440154"/>
<rect x="304.04" y="524.06" width="15.18" height="6.01" fill="#fde525"/>
<rect x="318.62" y="524.06" width="5.46" height="6.01" fill="#440154"/>
<rect x="323.48" y="524.06" width="10.32" height="6.01" fill="#fde525"/>
<rect x="333.2" y="524.06" width="5.46" height="6.01" fill="#23878c"/>
<rect x="338.06" y="524.06" width="10.32" height="6.01" fill="#fde525"/>
<rect x="347.78" y="524.06" width="5.46" height="6.01" fill="#23878c"/>
<rect x="352.64" y="524.06" width="5.46" height="6.01" fill="#440154"/>
<rect x="357.5" y="524.06" width="10.32" height="6.01" fill="#fde525"/>
<rect x="367.22" y="524.06" width="5.46" height="6.01" fill="#76b47a"/>
<rect x="372.08" y="524.06" width="5.46" height="6.01" fill="#440154"/>
<rect x="376.94" y="524.06" width="5.46" height="6.01" fill="#fde525"/>
<rect x="381.8" y="524.06" width="5.46" height="6.01" fill="#440154"/>
<rect x="386.66" y="524.06" width="5.46" height="6.01" fill="#fde525"/>
<rect x="391.52" y="524.06" width="5.46" height="6.01" fill="#440154"/>
<rect x="396.38" y="524.06" width="10.32" height="6.01" fill="#fde525"/>
<rect x="406.1" y="524.06" width="5.46" height="6.01" fill="#23878c"/>
<rect x="410.96" y="524.06" width="5.46" height="6.01" fill="#fde525"/>
<rect x="415.82" y="524.06" width="24.9" height="6.01" fill="#440154"/>
<rect x="440.12" y="524.06" width="15.18" height="6.01" fill="#fde525"/>
<rect x="454.7" y="524.06" width="5.46" height="6.01" fill="#440154"/>
<rect x="459.56" y="524.06" width="5.46" height="6.01" fill="#fde525"/>
<rect x="464.42" y="524.06" width="5.46" height="6.01" fill="#440154"/>
<rect x="469.28" y="524.06" width="5.46" height="6.01" fill="#fde525"/>
<rect x="474.14" y="524.06" width="9.72" height="6.01" fill="#440154"/>
<rect x="284.6" y="529.47" width="15.18" height="6.01" fill="#440154"/>
<rect x="299.18" y="529.47" width="5.46" height="6.01" fill="#3b528b"/>
<rect x="304.04" y="529.47" width="15.18" height="6.01" fill="#fde525"/>
<rect x="318.62" y="529.47" width="5.46" height="6.01" fill="#440154"/>
<rect x="323.48" y="529.47" width="10.32" height="6.01" fill="#fde525"/>
<rect x="333.2" y="529.47" width="5.46" height="6.01" fill="#440154"/>
<rect x="338.06" y="529.47" width="10.32" height="6.01" fill="#fde525"/>
<rect x="347.78" y="529.47" width="15.18" height="6.01" fill="#440154"/>
<rect x="362.36" y="529.47" width="5.46" height="6.01" fill="#fde525"/>
<rect x="367.22" y="529.47" width="5.46" height="6.01" fill="#23878c"/>
<rect x="372.08" y="529.47" width="5.46" height="6.01" fill="#440154"/>
<rect x="376.94" y="529.47" width="5.46" height="6.01" fill="#fde525"/>
<rect x="381.8" y="529.47" width="5.46" height="6.01" fill="#23878c"/>
<rect x="386.66" y="529.47" width="5.46" height="6.01" fill="#d0d452"/>
<rect x="391.52" y="529.47" width="5.46" height="6.01" fill="#440154"/>
<rect x="396.38" y="529.47" width="10.32" height="6.01" fill="#fde525"/>
<rect x="406.1" y="529.47" width="5.46" height="6.01" fill="#23878c"/>
<rect x="410.96" y="529.47" width="5.46" height="6.01" fill="#fde525"/>
<rect x="415.82" y="529.47" width="15.18" height="6.01" fill="#440154"/>
<rect x="430.4" y="529.47" width="5.46" height="6.01" fill="#76b47a"/>
<rect x="435.26" y="529.47" width="5.46" height="6.01" fill="#440154"/>
<rect x="440.12" y="529.47" width="5.46" height="6.01" fill="#fde525"/>
<rect x="444.98" y="529.47" width="5.46" height="6.01" fill="#76b47a"/>
<rect x="449.84" y="529.47" width="10.32" height="6.01" fill="#fde525"/>
<rect x="459.56" y="529.47" width="5.46" height="6.01" fill="#76b47a"/>
<rect x="464.42" y="529.47" width="5.46" height="6.01" fill="#440154"/>
<rect x="469.28" y="529.47" width="5.46" height="6.01" fill="#fde525"/>
<rect x="474.14" y="529.47" width="9.72" height="6.01" fill="#440154"/>
<rect x="284.6" y="534.88" width="5.46" height="6.01" fill="#3b528b"/>
<rect x="289.46" y="534.88" width="5.46" height="6.01" fill="#440154"/>
<rect x="294.32" y="534.88" width="5.46" height="6.01" fill="#30698e"/>
<rect x="299.18" y="534.88" width="5.46" height="6.01" fill="#23878c"/>
<rect x="304.04" y="534.88" width="10.32" height="6.01" fill="#fde525"/>
<rect x="313.76" y="534.88" width="5.46" height="6.01" fill="#d0d452"/>
<rect x="318.62" y="534.88" width="15.18" height="6.01" fill="#fde525"/>
<rect x="333.2" y="534.88" width="5.46" height="6.01" fill="#23878c"/>
<rect x="338.06" y="534.88" width="10.32" height="6.01" fill="#fde525"/>
<rect x="347.78" y="534.88" width="15.18" height="6.01" fill="#440154"/>
<rect x="362.36" y="534.88" width="5.46" height="6.01" fill="#fde525"/>
<rect x="367.22" y="534.88" width="5.46" height="6.01" fill="#3b528b"/>
<rect x="372.08" y="534.88" width="5.46" height="6.01" fill="#440154"/>
<rect x="376.94" y="534.88" width="5.46" height="6.01" fill="#fde525"/>
<rect x="381.8" y="534.88" width="5.46" height="6.01" fill="#23878c"/>
<rect x="386.66" y="534.88" width="5.46" height="6.01" fill="#fde525"/>
<rect x="391.52" y="534.88" width="5.46" height="6.01" fill="#440154"/>
<rect x="396.38" y="534.88" width="10.32" height="6.01" fill="#fde525"/>
<rect x="406.1" y="534.88" width="5.46" height="6.01" fill="#76b47a"/>
<rect x="410.96" y="534.88" width="5.46" height="6.01" fill="#fde525"/>
<rect x="415.82" y="534.88" width="24.9" height="6.01" fill="#440154"/>
<rect x="440.12" y="534.88" width="20.04" height="6.01" fill="#fde525"/>
<rect x="459.56" y="534.88" width="5.46" height="6.01" fill="#23878c"/>
<rect x="464.42" y="534.88" width="5.46" height="6.01" fill="#440154"/>
<rect x="469.28" y="534.88" width="5.46" height="6.01" fill="#fde525"/>
<rect x="474.14" y="534.88" width="9.72" height="6.01" fill="#440154"/>
<rect x="284.6" y="540.3" width="15.18" height="6.01" fill="#440154"/>
<rect x="299.18" y="540.3" width="5.46" height="6.01" fill="#23878c"/>
<rect x="304.04" y="540.3" width="15.18" height="6.01" fill="#fde525"/>
<rect x="318.62" y="540.3" width="5.46" height="6.01" fill="#440154"/>
<rect x="323.48" y="540.3" width="10.32" height="6.01" fill="#fde525"/>
<rect x="333.2" y="540.3" width="5.46" height="6.01" fill="#440154"/>
<rect x="338.06" y="540.3" width="10.32" height="6.01" fill="#fde525"/>
<rect x="347.78" y="540.3" width="15.18" height="6.01" fill="#440154"/>
<rect x="362.36" y="540.3" width="5.46" height="6.01" fill="#fde525"/>
<rect x="367.22" y="540.3" width="5.46" height="6.01" fill="#3b528b"/>
<rect x="372.08" y="540.3" width="5.46" height="6.01" fill="#440154"/>
<rect x="376.94" y="540.3" width="15.18" height="6.01" fill="#fde525"/>
<rect x="391.52" y="540.3" width="5.46" height="6.01" fill="#440154"/>
<rect x="396.38" y="540.3" width="10.32" height="6.01" fill="#fde525"/>
<rect x="406.1" y="540.3" width="5.46" height="6.01" fill="#440154"/>
<rect x="410.96" y="540.3" width="5.46" height="6.01" fill="#fde525"/>
<rect x="415.82" y="540.3" width="24.9" height="6.01" fill="#440154"/>
<rect x="440.12" y="540.3" width="20.04" height="6.01" fill="#fde525"/>
<rect x="459.56" y="540.3" width="10.32" height="6.01" fill="#440154"/>
<rect x="469.28" y="540.3" width="5.46" height="6.01" fill="#fde525"/>
<rect x="474.14" y="540.3" width="5.46" height="6.01" fill="#30698e"/>
<rect x="479" y="540.3" width="4.86" height="6.01" fill="#440154"/>
<rect x="284.6" y="545.71" width="15.18" height="6.01" fill="#440154"/>
<rect x="299.18" y="545.71" width="5.46" height="6.01" fill="#23878c"/>
<rect x="304.04" y="545.71" width="15.18" height="6.01" fill="#fde525"/>
<rect x="318.62" y="545.71" width="5.46" height="6.01" fill="#440154"/>
<rect x="323.48" y="545.71" width="10.32" height="6.01" fill="#fde525"/>
<rect x="333.2" y="545.71" width="5.46" height="6.01" fill="#30698e"/>
<rect x="338.06" y="545.71" width="5.46" height="6.01" fill="#23878c"/>
<rect x="342.92" y="545.71" width="5.46" height="6.01" fill="#fde525"/>
<rect x="347.78" y="545.71" width="10.32" height="6.01" fill="#440154"/>
<rect x="357.5" y="545.71" width="5.46" height="6.01" fill="#23878c"/>
<rect x="362.36" y="545.71" width="5.46" height="6.01" fill="#fde525"/>
<rect x="367.22" y="545.71" width="5.46" height="6.01" fill="#30698e"/>
<rect x="372.08" y="545.71" width="5.46" height="6.01" fill="#440154"/>
<rect x="376.94" y="545.71" width="5.46" height="6.01" fill="#fde525"/>
<rect x="381.8" y="545.71" width="5.46" height="6.01" fill="#421e6e"/>
<rect x="386.66" y="545.71" width="5.46" height="6.01" fill="#fde525"/>
<rect x="391.52" y="545.71" width="5.46" height="6.01" fill="#440154"/>
<rect x="396.38" y="545.71" width="5.46" height="6.01" fill="#23878c"/>
<rect x="401.24" y="545.71" width="5.46" height="6.01" fill="#fde525"/>
<rect x="406.1" y="545.71" width="5.46" height="6.01" fill="#23878c"/>
<rect x="410.96" y="545.71" width="5.46" height="6.01" fill="#fde525"/>
<rect x="415.82" y="545.71" width="15.18" height="6.01" fill="#440154"/>
<rect x="430.4" y="545.71" width="5.46" height="6.01" fill="#fde525"/>
<rect x="435.26" y="545.71" width="5.46" height="6.01" fill="#440154"/>
<rect x="440.12" y="545.71" width="5.46" height="6.01" fill="#fde525"/>
<rect x="444.98" y="545.71" width="5.46" height="6.01" fill="#440154"/>
<rect x="449.84" y="545.71" width="10.32" height="6.01" fill="#fde525"/>
<rect x="459.56" y="545.71" width="5.46" height="6.01" fill="#3b528b"/>
<rect x="464.42" y="545.71" width="5.46" height="6.01" fill="#440154"/>
<rect x="469.28" y="545.71" width="5.46" height="6.01" fill="#fde525"/>
<rect x="474.14" y="545.71" width="5.46" height="6.01" fill="#3b528b"/>
<rect x="479" y="545.71" width="4.86" height="6.01" fill="#30698e"/>
<rect x="284.6" y="551.12" width="15.18" height="6.01" fill="#440154"/>
<rect x="299.18" y="551.12" width="5.46" height="6.01" fill="#30698e"/>
<rect x="304.04" y="551.12" width="15.18" height="6.01" fill="#fde525"/>
<rect x="318.62" y="551.12" width="5.46" height="6.01" fill="#440154"/>
<rect x="323.48" y="551.12" width="10.32" height="6.01" fill="#fde525"/>
<rect x="333.2" y="551.12" width="5.46" height="6.01" fill="#440154"/>
<rect x="338.06" y="551.12" width="5.46" height="6.01" fill="#76b47a"/>
<rect x="342.92" y="551.12" width="5.46" height="6.01" fill="#fde525"/>
<rect x="347.78" y="551.12" width="10.32" height="6.01" fill="#440154"/>
<rect x="357.5" y="551.12" width="5.46" height="6.01" fill="#23878c"/>
<rect x="362.36" y="551.12" width="5.46" height="6.01" fill="#fde525"/>
<rect x="367.22" y="551.12" width="5.46" height="6.01" fill="#23878c"/>
<rect x="372.08" y="551.12" width="5.46" height="6.01" fill="#440154"/>
<rect x="376.94" y="551.12" width="5.46" height="6.01" fill="#fde525"/>
<rect x="381.8" y="551.12" width="5.46" height="6.01" fill="#440154"/>
<rect x="386.66" y="551.12" width="5.46" height="6.01" fill="#fde525"/>
<rect x="391.52" y="551.12" width="5.46" height="6.01" fill="#440154"/>
<rect x="396.38" y="551.12" width="5.46" height="6.01" fill="#76b47a"/>
<rect x="401.24" y="551.12" width="5.46" height="6.01" fill="#fde525"/>
<rect x="406.1" y="551.12" width="5.46" height="6.01" fill="#a0c36c"/>
<rect x="410.96" y="551.12" width="5.46" height="6.01" fill="#fde525"/>
<rect x="415.82" y="551.12" width="15.18" height="6.01" fill="#440154"/>
<rect x="430.4" y="551.12" width="5.46" height="6.01" fill="#76b47a"/>
<rect x="435.26" y="551.12" width="5.46" height="6.01" fill="#440154"/>
<rect x="440.12" y="551.12" width="5.46" height="6.01" fill="#76b47a"/>
<rect x="444.98" y="551.12" width="5.46" height="6.01" fill="#23878c"/>
<rect x="449.84" y="551.12" width="5.46" height="6.01" fill="#fde525"/>
<rect x="454.7" y="551.12" width="5.46" height="6.01" fill="#76b47a"/>
<rect x="459.56" y="551.12" width="5.46" height="6.01" fill="#3b528b"/>
<rect x="464.42" y="551.12" width="5.46" height="6.01" fill="#440154"/>
<rect x="469.28" y="551.12" width="5.46" height="6.01" fill="#fde525"/>
<rect x="474.14" y="551.12" width="5.46" height="6.01" fill="#3b528b"/>
<rect x="479" y="551.12" width="4.86" height="6.01" fill="#440154"/>
<rect x="284.6" y="556.53" width="15.18" height="6.01" fill="#440154"/>
<rect x="299.18" y="556.53" width="5.46" height="6.01" fill="#23878c"/>
<rect x="304.04" y="556.53" width="15.18" height="6.01" fill="#fde525"/>
<rect x="318.62" y="556.53" width="5.46" height="6.01" fill="#440154"/>
<rect x="323.48" y="556.53" width="10.32" height="6.01" fill="#fde525"/>
<rect x="333.2" y="556.53" width="5.46" height="6.01" fill="#440154"/>
<rect x="338.06" y="556.53" width="10.32" height="6.01" fill="#fde525"/>
<rect x="347.78" y="556.53" width="10.32" height="6.01" fill="#440154"/>
<rect x="357.5" y="556.53" width="5.46" height="6.01" fill="#23878c"/>
<rect x="362.36" y="556.53" width="5.46" height="6.01" fill="#fde525"/>
<rect x="367.22" y="556.53" width="10.32" height="6.01" fill="#440154"/>
<rect x="376.94" y="556.53" width="5.46" height="6.01" fill="#fde525"/>
<rect x="381.8" y="556.53" width="10.32" height="6.01" fill="#76b47a"/>
<rect x="391.52" y="556.53" width="5.46" height="6.01" fill="#440154"/>
<rect x="396.38" y="556.53" width="10.32" height="6.01" fill="#fde525"/>
<rect x="406.1" y="556.53" width="5.46" height="6.01" fill="#76b47a"/>
<rect x="410.96" y="556.53" width="5.46" height="6.01" fill="#fde525"/>
<rect x="415.82" y="556.53" width="15.18" height="6.01" fill="#440154"/>
<rect x="430.4" y="556.53" width="5.46" height="6.01" fill="#3b528b"/>
<rect x="435.26" y="556.53" width="5.46" height="6.01" fill="#440154"/>
<rect x="440.12" y="556.53" width="5.46" height="6.01" fill="#d0d452"/>
<rect x="444.98" y="556.53" width="5.46" height="6.01" fill="#76b47a"/>
<rect x="449.84" y="556.53" width="10.32" height="6.01" fill="#fde525"/>
<rect x="459.56" y="556.53" width="5.46" height="6.01" fill="#23878c"/>
<rect x="464.42" y="556.53" width="5.46" height="6.01" fill="#440154"/>
<rect x="469.28" y="556.53" width="5.46" height="6.01" fill="#fde525"/>
<rect x="474.14" y="556.53" width="9.72" height="6.01" fill="#3b528b"/>
<rect x="284.6" y="561.94" width="15.18" height="6.01" fill="#440154"/>
<rect x="299.18" y="561.94" width="5.46" height="6.01" fill="#23878c"/>
<rect x="304.04" y="561.94" width="15.18" height="6.01" fill="#fde525"/>
<rect x="318.62" y="561.94" width="5.46" height="6.01" fill="#440154"/>
<rect x="323.48" y="561.94" width="10.32" height="6.01" fill="#fde525"/>
<rect x="333.2" y="561.94" width="5.46" height="6.01" fill="#440154"/>
<rect x="338.06" y="561.94" width="5.46" height="6.01" fill="#d0d452"/>
<rect x="342.92" y="561.94" width="5.46" height="6.01" fill="#fde525"/>
<rect x="347.78" y="561.94" width="10.32" height="6.01" fill="#440154"/>
<rect x="357.5" y="561.94" width="5.46" height="6.01" fill="#23878c"/>
<rect x="362.36" y="561.94" width="5.46" height="6.01" fill="#fde525"/>
<rect x="367.22" y="561.94" width="10.32" height="6.01" fill="#440154"/>
<rect x="376.94" y="561.94" width="5.46" height="6.01" fill="#fde525"/>
<rect x="381.8" y="561.94" width="5.46" height="6.01" fill="#d0d452"/>
<rect x="386.66" y="561.94" width="5.46" height="6.01" fill="#23878c"/>
<rect x="391.52" y="561.94" width="5.46" height="6.01" fill="#440154"/>
<rect x="396.38" y="561.94" width="5.46" height="6.01" fill="#d0d452"/>
<rect x="401.24" y="561.94" width="5.46" height="6.01" fill="#fde525"/>
<rect x="406.1" y="561.94" width="5.46" height="6.01" fill="#23878c"/>
<rect x="410.96" y="561.94" width="5.46" height="6.01" fill="#fde525"/>
<rect x="415.82" y="561.94" width="15.18" height="6.01" fill="#440154"/>
<rect x="430.4" y="561.94" width="5.46" height="6.01" fill="#3b528b"/>
<rect x="435.26" y="561.94" width="5.46" height="6.01" fill="#440154"/>
<rect x="440.12" y="561.94" width="5.46" height="6.01" fill="#d0d452"/>
<rect x="444.98" y="561.94" width="5.46" height="6.01" fill="#76b47a"/>
<rect x="449.84" y="561.94" width="10.32" height="6.01" fill="#fde525"/>
<rect x="459.56" y="561.94" width="5.46" height="6.01" fill="#23878c"/>
<rect x="464.42" y="561.94" width="5.46" height="6.01" fill="#440154"/>
<rect x="469.28" y="561.94" width="5.46" height="6.01" fill="#fde525"/>
<rect x="474.14" y="561.94" width="9.72" height="6.01" fill="#3b528b"/>
<rect x="284.6" y="567.36" width="5.46" height="6.01" fill="#3b528b"/>
<rect x="289.46" y="567.36" width="10.32" height="6.01" fill="#440154"/>
<rect x="299.18" y="567.36" width="5.46" height="6.01" fill="#23878c"/>
<rect x="304.04" y="567.36" width="15.18" height="6.01" fill="#fde525"/>
<rect x="318.62" y="567.36" width="5.46" height="6.01" fill="#440154"/>
<rect x="323.48" y="567.36" width="10.32" height="6.01" fill="#fde525"/>
<rect x="333.2" y="567.36" width="5.46" height="6.01" fill="#440154"/>
<rect x="338.06" y="567.36" width="10.32" height="6.01" fill="#fde525"/>
<rect x="347.78" y="567.36" width="5.46" height="6.01" fill="#440154"/>
<rect x="352.64" y="567.36" width="5.46" height="6.01" fill="#3b528b"/>
<rect x="357.5" y="567.36" width="5.46" height="6.01" fill="#23878c"/>
<rect x="362.36" y="567.36" width="5.46" height="6.01" fill="#fde525"/>
<rect x="367.22" y="567.36" width="10.32" height="6.01" fill="#440154"/>
<rect x="376.94" y="567.36" width="5.46" height="6.01" fill="#fde525"/>
<rect x="381.8" y="567.36" width="5.46" height="6.01" fill="#d0d452"/>
<rect x="386.66" y="567.36" width="5.46" height="6.01" fill="#23878c"/>
<rect x="391.52" y="567.36" width="5.46" height="6.01" fill="#440154"/>
<rect x="396.38" y="567.36" width="10.32" height="6.01" fill="#fde525"/>
<rect x="406.1" y="567.36" width="5.46" height="6.01" fill="#23878c"/>
<rect x="410.96" y="567.36" width="5.46" height="6.01" fill="#fde525"/>
<rect x="415.82" y="567.36" width="15.18" height="6.01" fill="#440154"/>
<rect x="430.4" y="567.36" width="5.46" height="6.01" fill="#3b528b"/>
<rect x="435.26" y="567.36" width="5.46" height="6.01" fill="#440154"/>
<rect x="440.12" y="567.36" width="5.46" height="6.01" fill="#fde525"/>
<rect x="444.98" y="567.36" width="5.46" height="6.01" fill="#76b47a"/>
<rect x="449.84" y="567.36" width="10.32" height="6.01" fill="#fde525"/>
<rect x="459.56" y="567.36" width="5.46" height="6.01" fill="#23878c"/>
<rect x="464.42" y="567.36" width="5.46" height="6.01" fill="#440154"/>
<rect x="469.28" y="567.36" width="5.46" height="6.01" fill="#fde525"/>
<rect x="474.14" y="567.36" width="9.72" height="6.01" fill="#3b528b"/>
<rect x="284.6" y="572.77" width="5.46" height="6.01" fill="#30698e"/>
<rect x="289.46" y="572.77" width="5.46" height="6.01" fill="#d0d452"/>
<rect x="294.32" y="572.77" width="5.46" height="6.01" fill="#fde525"/>
<rect x="299.18" y="572.77" width="5.46" height="6.01" fill="#23878c"/>
<rect x="304.04" y="572.77" width="15.18" height="6.01" fill="#fde525"/>
<rect x="318.62" y="572.77" width="5.46" height="6.01" fill="#440154"/>
<rect x="323.48" y="572.77" width="15.18" height="6.01" fill="#fde525"/>
<rect x="338.06" y="572.77" width="5.46" height="6.01" fill="#76b47a"/>
<rect x="342.92" y="572.77" width="5.46" height="6.01" fill="#fde525"/>
<rect x="347.78" y="572.77" width="5.46" height="6.01" fill="#3b528b"/>
<rect x="352.64" y="572.77" width="5.46" height="6.01" fill="#d0d452"/>
<rect x="357.5" y="572.77" width="5.46" height="6.01" fill="#440154"/>
<rect x="362.36" y="572.77" width="5.46" height="6.01" fill="#fde525"/>
<rect x="367.22" y="572.77" width="5.46" height="6.01" fill="#23878c"/>
<rect x="372.08" y="572.77" width="5.46" height="6.01" fill="#440154"/>
<rect x="376.94" y="572.77" width="10.32" height="6.01" fill="#fde525"/>
<rect x="386.66" y="572.77" width="5.46" height="6.01" fill="#23878c"/>
<rect x="391.52" y="572.77" width="5.46" height="6.01" fill="#440154"/>
<rect x="396.38" y="572.77" width="10.32" height="6.01" fill="#fde525"/>
<rect x="406.1" y="572.77" width="5.46" height="6.01" fill="#23878c"/>
<rect x="410.96" y="572.77" width="5.46" height="6.01" fill="#fde525"/>
<rect x="415.82" y="572.77" width="24.9" height="6.01" fill="#440154"/>
<rect x="440.12" y="572.77" width="20.04" height="6.01" fill="#fde525"/>
<rect x="459.56" y="572.77" width="5.46" height="6.01" fill="#3b528b"/>
<rect x="464.42" y="572.77" width="5.46" height="6.01" fill="#440154"/>
<rect x="469.28" y="572.77" width="5.46" height="6.01" fill="#fde525"/>
<rect x="474.14" y="572.77" width="9.72" height="6.01" fill="#440154"/>
<rect x="284.6" y="578.18" width="10.32" height="6.01" fill="#23878c"/>
<rect x="294.32" y="578.18" width="5.46" height="6.01" fill="#d0d452"/>
<rect x="299.18" y="578.18" width="10.32" height="6.01" fill="#fde525"/>
<rect x="308.9" y="578.18" width="5.46" height="6.01" fill="#d0d452"/>
<rect x="313.76" y="578.18" width="5.46" height="6.01" fill="#fde525"/>
<rect x="318.62" y="578.18" width="5.46" height="6.01" fill="#3b528b"/>
<rect x="323.48" y="578.18" width="10.32" height="6.01" fill="#fde525"/>
<rect x="333.2" y="578.18" width="10.32" height="6.01" fill="#3b528b"/>
<rect x="342.92" y="578.18" width="5.46" height="6.01" fill="#76b47a"/>
<rect x="347.78" y="578.18" width="5.46" height="6.01" fill="#440154"/>
<rect x="352.64" y="578.18" width="5.46" height="6.01" fill="#fde525"/>
<rect x="357.5" y="578.18" width="10.32" height="6.01" fill="#76b47a"/>
<rect x="367.22" y="578.18" width="5.46" height="6.01" fill="#23878c"/>
<rect x="372.08" y="578.18" width="5.46" height="6.01" fill="#76b47a"/>
<rect x="376.94" y="578.18" width="10.32" height="6.01" fill="#fde525"/>
<rect x="386.66" y="578.18" width="5.46" height="6.01" fill="#30698e"/>
<rect x="391.52" y="578.18" width="5.46" height="6.01" fill="#440154"/>
<rect x="396.38" y="578.18" width="10.32" height="6.01" fill="#fde525"/>
<rect x="406.1" y="578.18" width="5.46" height="6.01" fill="#3b528b"/>
<rect x="410.96" y="578.18" width="5.46" height="6.01" fill="#fde525"/>
<rect x="415.82" y="578.18" width="24.9" height="6.01" fill="#440154"/>
<rect x="440.12" y="578.18" width="5.46" height="6.01" fill="#fde525"/>
<rect x="444.98" y="578.18" width="5.46" height="6.01" fill="#d0d452"/>
<rect x="449.84" y="578.18" width="5.46" height="6.01" fill="#76b47a"/>
<rect x="454.7" y="578.18" width="5.46" height="6.01" fill="#fde525"/>
<rect x="459.56" y="578.18" width="5.46" height="6.01" fill="#23878c"/>
<rect x="464.42" y="578.18" width="5.46" height="6.01" fill="#440154"/>
<rect x="469.28" y="578.18" width="5.46" height="6.01" fill="#fde525"/>
<rect x="474.14" y="578.18" width="9.72" height="6.01" fill="#440154"/>
<rect x="284.6" y="583.59" width="5.46" height="6.01" fill="#23878c"/>
<rect x="289.46" y="583.59" width="15.18" height="6.01" fill="#d0d452"/>
<rect x="304.04" y="583.59" width="15.18" height="6.01" fill="#fde525"/>
<rect x="318.62" y="583.59" width="5.46" height="6.01" fill="#23878c"/>
<rect x="323.48" y="583.59" width="10.32" height="6.01" fill="#fde525"/>
<rect x="333.2" y="583.59" width="5.46" height="6.01" fill="#30698e"/>
<rect x="338.06" y="583.59" width="5.46" height="6.01" fill="#3b528b"/>
<rect x="342.92" y="583.59" width="5.46" height="6.01" fill="#fde525"/>
<rect x="347.78" y="583.59" width="5.46" height="6.01" fill="#440154"/>
<rect x="352.64" y="583.59" width="5.46" height="6.01" fill="#d0d452"/>
<rect x="357.5" y="583.59" width="5.46" height="6.01" fill="#fde525"/>
<rect x="362.36" y="583.59" width="5.46" height="6.01" fill="#d0d452"/>
<rect x="367.22" y="583.59" width="5.46" height="6.01" fill="#23878c"/>
<rect x="372.08" y="583.59" width="5.46" height="6.01" fill="#440154"/>
<rect x="376.94" y="583.59" width="10.32" height="6.01" fill="#fde525"/>
<rect x="386.66" y="583.59" width="5.46" height="6.01" fill="#a0c36c"/>
<rect x="391.52" y="583.59" width="5.46" height="6.01" fill="#440154"/>
<rect x="396.38" y="583.59" width="10.32" height="6.01" fill="#fde525"/>
<rect x="406.1" y="583.59" width="5.46" height="6.01" fill="#23878c"/>
<rect x="410.96" y="583.59" width="5.46" height="6.01" fill="#fde525"/>
<rect x="415.82" y="583.59" width="24.9" height="6.01" fill="#440154"/>
<rect x="440.12" y="583.59" width="5.46" height="6.01" fill="#76b47a"/>
<rect x="444.98" y="583.59" width="15.18" height="6.01" fill="#fde525"/>
<rect x="459.56" y="583.59" width="5.46" height="6.01" fill="#d0d452"/>
<rect x="464.42" y="583.59" width="5.46" height="6.01" fill="#440154"/>
<rect x="469.28" y="583.59" width="5.46" height="6.01" fill="#fde525"/>
<rect x="474.14" y="583.59" width="9.72" height="6.01" fill="#440154"/>
<rect x="284.6" y="589" width="5.46" height="6.01" fill="#d0d452"/>
<rect x="289.46" y="589" width="5.46" height="6.01" fill="#76b47a"/>
<rect x="294.32" y="589" width="5.46" height="6.01" fill="#3b528b"/>
<rect x="299.18" y="589" width="5.46" height="6.01" fill="#23878c"/>
<rect x="304.04" y="589" width="15.18" height="6.01" fill="#fde525"/>
<rect x="318.62" y="589" width="5.46" height="6.01" fill="#23878c"/>
<rect x="323.48" y="589" width="10.32" height="6.01" fill="#fde525"/>
<rect x="333.2" y="589" width="5.46" height="6.01" fill="#30698e"/>
<rect x="338.06" y="589" width="5.46" height="6.01" fill="#23878c"/>
<rect x="342.92" y="589" width="5.46" height="6.01" fill="#76b47a"/>
<rect x="347.78" y="589" width="5.46" height="6.01" fill="#440154"/>
<rect x="352.64" y="589" width="5.46" height="6.01" fill="#fde525"/>
<rect x="357.5" y="589" width="10.32" height="6.01" fill="#d0d452"/>
<rect x="367.22" y="589" width="5.46" height="6.01" fill="#23878c"/>
<rect x="372.08" y="589" width="5.46" height="6.01" fill="#440154"/>
<rect x="376.94" y="589" width="10.32" height="6.01" fill="#fde525"/>
<rect x="386.66" y="589" width="5.46" height="6.01" fill="#23878c"/>
<rect x="391.52" y="589" width="5.46" height="6.01" fill="#440154"/>
<rect x="396.38" y="589" width="10.32" height="6.01" fill="#fde525"/>
<rect x="406.1" y="589" width="5.46" height="6.01" fill="#440154"/>
<rect x="410.96" y="589" width="5.46" height="6.01" fill="#fde525"/>
<rect x="415.82" y="589" width="5.46" height="6.01" fill="#3b528b"/>
<rect x="420.68" y="589" width="20.04" height="6.01" fill="#440154"/>
<rect x="440.12" y="589" width="5.46" height="6.01" fill="#fde525"/>
<rect x="444.98" y="589" width="5.46" height="6.01" fill="#23878c"/>
<rect x="449.84" y="589" width="5.46" height="6.01" fill="#d0d452"/>
<rect x="454.7" y="589" width="5.46" height="6.01" fill="#fde525"/>
<rect x="459.56" y="589" width="5.46" height="6.01" fill="#76b47a"/>
<rect x="464.42" y="589" width="5.46" height="6.01" fill="#440154"/>
<rect x="469.28" y="589" width="5.46" height="6.01" fill="#fde525"/>
<rect x="474.14" y="589" width="9.72" height="6.01" fill="#440154"/>
<rect x="284.6" y="594.42" width="5.46" height="6.01" fill="#23878c"/>
<rect x="289.46" y="594.42" width="5.46" height="6.01" fill="#76b47a"/>
<rect x="294.32" y="594.42" width="5.46" height="6.01" fill="#440154"/>
<rect x="299.18" y="594.42" width="5.46" height="6.01" fill="#23878c"/>
<rect x="304.04" y="594.42" width="5.46" height="6.01" fill="#fde525"/>
<rect x="308.9" y="594.42" width="5.46" height="6.01" fill="#76b47a"/>
<rect x="313.76" y="594.42" width="5.46" height="6.01" fill="#fde525"/>
<rect x="318.62" y="594.42" width="5.46" height="6.01" fill="#440154"/>
<rect x="323.48" y="594.42" width="10.32" height="6.01" fill="#fde525"/>
<rect x="333.2" y="594.42" width="5.46" height="6.01" fill="#440154"/>
<rect x="338.06" y="594.42" width="5.46" height="6.01" fill="#fde525"/>
<rect x="342.92" y="594.42" width="5.46" height="6.01" fill="#76b47a"/>
<rect x="347.78" y="594.42" width="5.46" height="6.01" fill="#440154"/>
<rect x="352.64" y="594.42" width="5.46" height="6.01" fill="#d0d452"/>
<rect x="357.5" y="594.42" width="5.46" height="6.01" fill="#a0c36c"/>
<rect x="362.36" y="594.42" width="5.46" height="6.01" fill="#fde525"/>
<rect x="367.22" y="594.42" width="5.46" height="6.01" fill="#23878c"/>
<rect x="372.08" y="594.42" width="5.46" height="6.01" fill="#440154"/>
<rect x="376.94" y="594.42" width="10.32" height="6.01" fill="#fde525"/>
<rect x="386.66" y="594.42" width="5.46" height="6.01" fill="#23878c"/>
<rect x="391.52" y="594.42" width="5.46" height="6.01" fill="#3b528b"/>
<rect x="396.38" y="594.42" width="5.46" height="6.01" fill="#76b47a"/>
<rect x="401.24" y="594.42" width="5.46" height="6.01" fill="#d0d452"/>
<rect x="406.1" y="594.42" width="5.46" height="6.01" fill="#30698e"/>
<rect x="410.96" y="594.42" width="5.46" height="6.01" fill="#fde525"/>
<rect x="415.82" y="594.42" width="5.46" height="6.01" fill="#30698e"/>
<rect x="420.68" y="594.42" width="20.04" height="6.01" fill="#440154"/>
<rect x="440.12" y="594.42" width="5.46" height="6.01" fill="#d0d452"/>
<rect x="444.98" y="594.42" width="5.46" height="6.01" fill="#23878c"/>
<rect x="449.84" y="594.42" width="5.46" height="6.01" fill="#d0d452"/>
<rect x="454.7" y="594.42" width="5.46" height="6.01" fill="#fde525"/>
<rect x="459.56" y="594.42" width="10.32" height="6.01" fill="#440154"/>
<rect x="469.28" y="594.42" width="5.46" height="6.01" fill="#fde525"/>
<rect x="474.14" y="594.42" width="5.46" height="6.01" fill="#3b528b"/>
<rect x="479" y="594.42" width="4.86" height="6.01" fill="#440154"/>
<rect x="284.6" y="599.83" width="10.32" height="6.01" fill="#23878c"/>
<rect x="294.32" y="599.83" width="5.46" height="6.01" fill="#fde525"/>
<rect x="299.18" y="599.83" width="5.46" height="6.01" fill="#23878c"/>
<rect x="304.04" y="599.83" width="5.46" height="6.01" fill="#76b47a"/>
<rect x="308.9" y="599.83" width="5.46" height="6.01" fill="#a0c36c"/>
<rect x="313.76" y="599.83" width="5.46" height="6.01" fill="#fde525"/>
<rect x="318.62" y="599.83" width="5.46" height="6.01" fill="#23878c"/>
<rect x="323.48" y="599.83" width="10.32" height="6.01" fill="#76b47a"/>
<rect x="333.2" y="599.83" width="10.32" height="6.01" fill="#23878c"/>
<rect x="342.92" y="599.83" width="5.46" height="6.01" fill="#76b47a"/>
<rect x="347.78" y="599.83" width="5.46" height="6.01" fill="#d0d452"/>
<rect x="352.64" y="599.83" width="5.46" height="6.01" fill="#a0c36c"/>
<rect x="357.5" y="599.83" width="5.46" height="6.01" fill="#23878c"/>
<rect x="362.36" y="599.83" width="10.32" height="6.01" fill="#fde525"/>
<rect x="372.08" y="599.83" width="5.46" height="6.01" fill="#3b528b"/>
<rect x="376.94" y="599.83" width="5.46" height="6.01" fill="#76b47a"/>
<rect x="381.8" y="599.83" width="5.46" height="6.01" fill="#23878c"/>
<rect x="386.66" y="599.83" width="5.46" height="6.01" fill="#76b47a"/>
<rect x="391.52" y="599.83" width="5.46" height="6.01" fill="#30698e"/>
<rect x="396.38" y="599.83" width="5.46" height="6.01" fill="#a0c36c"/>
<rect x="401.24" y="599.83" width="5.46" height="6.01" fill="#23878c"/>
<rect x="406.1" y="599.83" width="5.46" height="6.01" fill="#76b47a"/>
<rect x="410.96" y="599.83" width="5.46" height="6.01" fill="#a0c36c"/>
<rect x="415.82" y="599.83" width="5.46" height="6.01" fill="#30698e"/>
<rect x="420.68" y="599.83" width="5.46" height="6.01" fill="#3b528b"/>
<rect x="425.54" y="599.83" width="5.46" height="6.01" fill="#440154"/>
<rect x="430.4" y="599.83" width="15.18" height="6.01" fill="#23878c"/>
<rect x="444.98" y="599.83" width="5.46" height="6.01" fill="#30698e"/>
<rect x="449.84" y="599.83" width="5.46" height="6.01" fill="#a0c36c"/>
<rect x="454.7" y="599.83" width="5.46" height="6.01" fill="#23878c"/>
<rect x="459.56" y="599.83" width="5.46" height="6.01" fill="#76b47a"/>
<rect x="464.42" y="599.83" width="5.46" height="6.01" fill="#3b528b"/>
<rect x="469.28" y="599.83" width="10.32" height="6.01" fill="#23878c"/>
<rect x="479" y="599.83" width="4.86" height="6.01" fill="#3b528b"/>
<rect x="284.6" y="605.24" width="10.32" height="6.01" fill="#440154"/>
<rect x="294.32" y="605.24" width="15.18" height="6.01" fill="#fde525"/>
<rect x="308.9" y="605.24" width="10.32" height="6.01" fill="#d0d452"/>
<rect x="318.62" y="605.24" width="20.04" height="6.01" fill="#fde525"/>
<rect x="338.06" y="605.24" width="5.46" height="6.01" fill="#440154"/>
<rect x="342.92" y="605.24" width="5.46" height="6.01" fill="#fde525"/>
<rect x="347.78" y="605.24" width="10.32" height="6.01" fill="#440154"/>
<rect x="357.5" y="605.24" width="5.46" height="6.01" fill="#d0d452"/>
<rect x="362.36" y="605.24" width="15.18" height="6.01" fill="#fde525"/>
<rect x="376.94" y="605.24" width="5.46" height="6.01" fill="#30698e"/>
<rect x="381.8" y="605.24" width="5.46" height="6.01" fill="#440154"/>
<rect x="386.66" y="605.24" width="5.46" height="6.01" fill="#76b47a"/>
<rect x="391.52" y="605.24" width="5.46" height="6.01" fill="#3b528b"/>
<rect x="396.38" y="605.24" width="5.46" height="6.01" fill="#fde525"/>
<rect x="401.24" y="605.24" width="5.46" height="6.01" fill="#76b47a"/>
<rect x="406.1" y="605.24" width="5.46" height="6.01" fill="#440154"/>
<rect x="410.96" y="605.24" width="5.46" height="6.01" fill="#fde525"/>
<rect x="415.82" y="605.24" width="5.46" height="6.01" fill="#23878c"/>
<rect x="420.68" y="605.24" width="10.32" height="6.01" fill="#440154"/>
<rect x="430.4" y="605.24" width="5.46" height="6.01" fill="#3b528b"/>
<rect x="435.26" y="605.24" width="5.46" height="6.01" fill="#440154"/>
<rect x="440.12" y="605.24" width="10.32" height="6.01" fill="#23878c"/>
<rect x="449.84" y="605.24" width="5.46" height="6.01" fill="#d0d452"/>
<rect x="454.7" y="605.24" width="5.46" height="6.01" fill="#23878c"/>
<rect x="459.56" y="605.24" width="10.32" height="6.01" fill="#440154"/>
<rect x="469.28" y="605.24" width="10.32" height="6.01" fill="#fde525"/>
<rect x="479" y="605.24" width="4.86" height="6.01" fill="#440154"/>
<rect x="284.6" y="610.65" width="5.46" height="6.01" fill="#440154"/>
<rect x="289.46" y="610.65" width="10.32" height="6.01" fill="#76b47a"/>
<rect x="299.18" y="610.65" width="5.46" height="6.01" fill="#3b528b"/>
<rect x="304.04" y="610.65" width="10.32" height="6.01" fill="#fde525"/>
<rect x="313.76" y="610.65" width="5.46" height="6.01" fill="#d0d452"/>
<rect x="318.62" y="610.65" width="5.46" height="6.01" fill="#76b47a"/>
<rect x="323.48" y="610.65" width="24.9" height="6.01" fill="#fde525"/>
<rect x="347.78" y="610.65" width="10.32" height="6.01" fill="#440154"/>
<rect x="357.5" y="610.65" width="5.46" height="6.01" fill="#d0d452"/>
<rect x="362.36" y="610.65" width="5.46" height="6.01" fill="#fde525"/>
<rect x="367.22" y="610.65" width="5.46" height="6.01" fill="#440154"/>
<rect x="372.08" y="610.65" width="5.46" height="6.01" fill="#23878c"/>
<rect x="376.94" y="610.65" width="5.46" height="6.01" fill="#fde525"/>
<rect x="381.8" y="610.65" width="5.46" height="6.01" fill="#23878c"/>
<rect x="386.66" y="610.65" width="5.46" height="6.01" fill="#fde525"/>
<rect x="391.52" y="610.65" width="5.46" height="6.01" fill="#30698e"/>
<rect x="396.38" y="610.65" width="5.46" height="6.01" fill="#23878c"/>
<rect x="401.24" y="610.65" width="5.46" height="6.01" fill="#d0d452"/>
<rect x="406.1" y="610.65" width="5.46" height="6.01" fill="#23878c"/>
<rect x="410.96" y="610.65" width="5.46" height="6.01" fill="#fde525"/>
<rect x="415.82" y="610.65" width="5.46" height="6.01" fill="#3b528b"/>
<rect x="420.68" y="610.65" width="10.32" height="6.01" fill="#440154"/>
<rect x="430.4" y="610.65" width="5.46" height="6.01" fill="#3b528b"/>
<rect x="435.26" y="610.65" width="5.46" height="6.01" fill="#30698e"/>
<rect x="440.12" y="610.65" width="5.46" height="6.01" fill="#a0c36c"/>
<rect x="444.98" y="610.65" width="5.46" height="6.01" fill="#23878c"/>
<rect x="449.84" y="610.65" width="10.32" height="6.01" fill="#fde525"/>
<rect x="459.56" y="610.65" width="10.32" height="6.01" fill="#440154"/>
<rect x="469.28" y="610.65" width="5.46" height="6.01" fill="#fde525"/>
<rect x="474.14" y="610.65" width="9.72" height="6.01" fill="#440154"/>
<rect x="284.6" y="616.06" width="5.46" height="6.01" fill="#3b528b"/>
<rect x="289.46" y="616.06" width="5.46" height="6.01" fill="#23878c"/>
<rect x="294.32" y="616.06" width="5.46" height="6.01" fill="#fde525"/>
<rect x="299.18" y="616.06" width="5.46" height="6.01" fill="#23878c"/>
<rect x="304.04" y="616.06" width="5.46" height="6.01" fill="#d0d452"/>
<rect x="308.9" y="616.06" width="10.32" height="6.01" fill="#fde525"/>
<rect x="318.62" y="616.06" width="5.46" height="6.01" fill="#23878c"/>
<rect x="323.48" y="616.06" width="10.32" height="6.01" fill="#d0d452"/>
<rect x="333.2" y="616.06" width="5.46" height="6.01" fill="#76b47a"/>
<rect x="338.06" y="616.06" width="5.46" height="6.01" fill="#a0c36c"/>
<rect x="342.92" y="616.06" width="5.46" height="6.01" fill="#fde525"/>
<rect x="347.78" y="616.06" width="5.46" height="6.01" fill="#440154"/>
<rect x="352.64" y="616.06" width="10.32" height="6.01" fill="#23878c"/>
<rect x="362.36" y="616.06" width="5.46" height="6.01" fill="#fde525"/>
<rect x="367.22" y="616.06" width="5.46" height="6.01" fill="#d0d452"/>
<rect x="372.08" y="616.06" width="5.46" height="6.01" fill="#440154"/>
<rect x="376.94" y="616.06" width="5.46" height="6.01" fill="#fde525"/>
<rect x="381.8" y="616.06" width="5.46" height="6.01" fill="#23878c"/>
<rect x="386.66" y="616.06" width="5.46" height="6.01" fill="#a0c36c"/>
<rect x="391.52" y="616.06" width="5.46" height="6.01" fill="#23878c"/>
<rect x="396.38" y="616.06" width="5.46" height="6.01" fill="#76b47a"/>
<rect x="401.24" y="616.06" width="5.46" height="6.01" fill="#a0c36c"/>
<rect x="406.1" y="616.06" width="5.46" height="6.01" fill="#23878c"/>
<rect x="410.96" y="616.06" width="5.46" height="6.01" fill="#fde525"/>
<rect x="415.82" y="616.06" width="5.46" height="6.01" fill="#3b528b"/>
<rect x="420.68" y="616.06" width="10.32" height="6.01" fill="#440154"/>
<rect x="430.4" y="616.06" width="5.46" height="6.01" fill="#23878c"/>
<rect x="435.26" y="616.06" width="5.46" height="6.01" fill="#3b528b"/>
<rect x="440.12" y="616.06" width="5.46" height="6.01" fill="#76b47a"/>
<rect x="444.98" y="616.06" width="5.46" height="6.01" fill="#23878c"/>
<rect x="449.84" y="616.06" width="5.46" height="6.01" fill="#fde525"/>
<rect x="454.7" y="616.06" width="5.46" height="6.01" fill="#23878c"/>
<rect x="459.56" y="616.06" width="5.46" height="6.01" fill="#30698e"/>
<rect x="464.42" y="616.06" width="5.46" height="6.01" fill="#440154"/>
<rect x="469.28" y="616.06" width="5.46" height="6.01" fill="#d0d452"/>
<rect x="474.14" y="616.06" width="5.46" height="6.01" fill="#23878c"/>
<rect x="479" y="616.06" width="4.86" height="6.01" fill="#3b528b"/>
<rect x="284.6" y="621.48" width="5.46" height="6.01" fill="#3b528b"/>
<rect x="289.46" y="621.48" width="5.46" height="6.01" fill="#23878c"/>
<rect x="294.32" y="621.48" width="5.46" height="6.01" fill="#fde525"/>
<rect x="299.18" y="621.48" width="5.46" height="6.01" fill="#76b47a"/>
<rect x="304.04" y="621.48" width="5.46" height="6.01" fill="#d0d452"/>
<rect x="308.9" y="621.48" width="10.32" height="6.01" fill="#fde525"/>
<rect x="318.62" y="621.48" width="5.46" height="6.01" fill="#76b47a"/>
<rect x="323.48" y="621.48" width="24.9" height="6.01" fill="#fde525"/>
<rect x="347.78" y="621.48" width="5.46" height="6.01" fill="#440154"/>
<rect x="352.64" y="621.48" width="5.46" height="6.01" fill="#30698e"/>
<rect x="357.5" y="621.48" width="5.46" height="6.01" fill="#23878c"/>
<rect x="362.36" y="621.48" width="10.32" height="6.01" fill="#fde525"/>
<rect x="372.08" y="621.48" width="5.46" height="6.01" fill="#440154"/>
<rect x="376.94" y="621.48" width="5.46" height="6.01" fill="#fde525"/>
<rect x="381.8" y="621.48" width="5.46" height="6.01" fill="#23878c"/>
<rect x="386.66" y="621.48" width="5.46" height="6.01" fill="#d0d452"/>
<rect x="391.52" y="621.48" width="5.46" height="6.01" fill="#440154"/>
<rect x="396.38" y="621.48" width="15.18" height="6.01" fill="#d0d452"/>
<rect x="410.96" y="621.48" width="5.46" height="6.01" fill="#fde525"/>
<rect x="415.82" y="621.48" width="10.32" height="6.01" fill="#440154"/>
<rect x="425.54" y="621.48" width="5.46" height="6.01" fill="#76b47a"/>
<rect x="430.4" y="621.48" width="5.46" height="6.01" fill="#440154"/>
<rect x="435.26" y="621.48" width="5.46" height="6.01" fill="#30698e"/>
<rect x="440.12" y="621.48" width="5.46" height="6.01" fill="#a0c36c"/>
<rect x="444.98" y="621.48" width="5.46" height="6.01" fill="#23878c"/>
<rect x="449.84" y="621.48" width="5.46" height="6.01" fill="#fde525"/>
<rect x="454.7" y="621.48" width="10.32" height="6.01" fill="#23878c"/>
<rect x="464.42" y="621.48" width="5.46" height="6.01" fill="#440154"/>
<rect x="469.28" y="621.48" width="5.46" height="6.01" fill="#d0d452"/>
<rect x="474.14" y="621.48" width="9.72" height="6.01" fill="#3b528b"/>
<rect x="284.6" y="626.89" width="5.46" height="6.01" fill="#3b528b"/>
<rect x="289.46" y="626.89" width="5.46" height="6.01" fill="#440154"/>
<rect x="294.32" y="626.89" width="39.48" height="6.01" fill="#fde525"/>
<rect x="333.2" y="626.89" width="5.46" height="6.01" fill="#23878c"/>
<rect x="338.06" y="626.89" width="10.32" height="6.01" fill="#fde525"/>
<rect x="347.78" y="626.89" width="5.46" height="6.01" fill="#440154"/>
<rect x="352.64" y="626.89" width="10.32" height="6.01" fill="#3b528b"/>
<rect x="362.36" y="626.89" width="5.46" height="6.01" fill="#fde525"/>
<rect x="367.22" y="626.89" width="5.46" height="6.01" fill="#76b47a"/>
<rect x="372.08" y="626.89" width="5.46" height="6.01" fill="#440154"/>
<rect x="376.94" y="626.89" width="5.46" height="6.01" fill="#fde525"/>
<rect x="381.8" y="626.89" width="5.46" height="6.01" fill="#23878c"/>
<rect x="386.66" y="626.89" width="5.46" height="6.01" fill="#fde525"/>
<rect x="391.52" y="626.89" width="5.46" height="6.01" fill="#440154"/>
<rect x="396.38" y="626.89" width="10.32" height="6.01" fill="#fde525"/>
<rect x="406.1" y="626.89" width="10.32" height="6.01" fill="#d0d452"/>
<rect x="415.82" y="626.89" width="15.18" height="6.01" fill="#440154"/>
<rect x="430.4" y="626.89" width="5.46" height="6.01" fill="#23878c"/>
<rect x="435.26" y="626.89" width="5.46" height="6.01" fill="#440154"/>
<rect x="440.12" y="626.89" width="5.46" height="6.01" fill="#fde525"/>
<rect x="444.98" y="626.89" width="5.46" height="6.01" fill="#3b528b"/>
<rect x="449.84" y="626.89" width="10.32" height="6.01" fill="#d0d452"/>
<rect x="459.56" y="626.89" width="10.32" height="6.01" fill="#440154"/>
<rect x="469.28" y="626.89" width="5.46" height="6.01" fill="#fde525"/>
<rect x="474.14" y="626.89" width="9.72" height="6.01" fill="#440154"/>
<rect x="284.6" y="632.3" width="5.46" height="6.01" fill="#3b528b"/>
<rect x="289.46" y="632.3" width="5.46" height="6.01" fill="#440154"/>
<rect x="294.32" y="632.3" width="5.46" height="6.01" fill="#76b47a"/>
<rect x="299.18" y="632.3" width="5.46" height="6.01" fill="#440154"/>
<rect x="304.04" y="632.3" width="5.46" height="6.01" fill="#fde525"/>
<rect x="308.9" y="632.3" width="5.46" height="6.01" fill="#a0c36c"/>
<rect x="313.76" y="632.3" width="5.46" height="6.01" fill="#fde525"/>
<rect x="318.62" y="632.3" width="5.46" height="6.01" fill="#440154"/>
<rect x="323.48" y="632.3" width="24.9" height="6.01" fill="#fde525"/>
<rect x="347.78" y="632.3" width="5.46" height="6.01" fill="#23878c"/>
<rect x="352.64" y="632.3" width="10.32" height="6.01" fill="#440154"/>
<rect x="362.36" y="632.3" width="10.32" height="6.01" fill="#fde525"/>
<rect x="372.08" y="632.3" width="5.46" height="6.01" fill="#440154"/>
<rect x="376.94" y="632.3" width="5.46" height="6.01" fill="#fde525"/>
<rect x="381.8" y="632.3" width="5.46" height="6.01" fill="#23878c"/>
<rect x="386.66" y="632.3" width="5.46" height="6.01" fill="#76b47a"/>
<rect x="391.52" y="632.3" width="5.46" height="6.01" fill="#440154"/>
<rect x="396.38" y="632.3" width="10.32" height="6.01" fill="#fde525"/>
<rect x="406.1" y="632.3" width="5.46" height="6.01" fill="#440154"/>
<rect x="410.96" y="632.3" width="5.46" height="6.01" fill="#fde525"/>
<rect x="415.82" y="632.3" width="15.18" height="6.01" fill="#440154"/>
<rect x="430.4" y="632.3" width="5.46" height="6.01" fill="#23878c"/>
<rect x="435.26" y="632.3" width="5.46" height="6.01" fill="#440154"/>
<rect x="440.12" y="632.3" width="5.46" height="6.01" fill="#fde525"/>
<rect x="444.98" y="632.3" width="5.46" height="6.01" fill="#3b528b"/>
<rect x="449.84" y="632.3" width="10.32" height="6.01" fill="#fde525"/>
<rect x="459.56" y="632.3" width="5.46" height="6.01" fill="#3b528b"/>
<rect x="464.42" y="632.3" width="5.46" height="6.01" fill="#23878c"/>
<rect x="469.28" y="632.3" width="5.46" height="6.01" fill="#fde525"/>
<rect x="474.14" y="632.3" width="5.46" height="6.01" fill="#440154"/>
<rect x="479" y="632.3" width="4.86" height="6.01" fill="#d0d452"/>
<rect x="284.6" y="637.71" width="5.46" height="5.41" fill="#3b528b"/>
<rect x="289.46" y="637.71" width="5.46" height="5.41" fill="#440154"/>
<rect x="294.32" y="637.71" width="5.46" height="5.41" fill="#d0d452"/>
<rect x="299.18" y="637.71" width="5.46" height="5.41" fill="#440154"/>
<rect x="304.04" y="637.71" width="5.46" height="5.41" fill="#fde525"/>
<rect x="308.9" y="637.71" width="5.46" height="5.41" fill="#76b47a"/>
<rect x="313.76" y="637.71" width="5.46" height="5.41" fill="#fde525"/>
<rect x="318.62" y="637.71" width="5.46" height="5.41" fill="#23878c"/>
<rect x="323.48" y="637.71" width="24.9" height="5.41" fill="#fde525"/>
<rect x="347.78" y="637.71" width="5.46" height="5.41" fill="#3b528b"/>
<rect x="352.64" y="637.71" width="5.46" height="5.41" fill="#76b47a"/>
<rect x="357.5" y="637.71" width="5.46" height="5.41" fill="#23878c"/>
<rect x="362.36" y="637.71" width="10.32" height="5.41" fill="#fde525"/>
<rect x="372.08" y="637.71" width="5.46" height="5.41" fill="#440154"/>
<rect x="376.94" y="637.71" width="5.46" height="5.41" fill="#fde525"/>
<rect x="381.8" y="637.71" width="5.46" height="5.41" fill="#23878c"/>
<rect x="386.66" y="637.71" width="5.46" height="5.41" fill="#d0d452"/>
<rect x="391.52" y="637.71" width="5.46" height="5.41" fill="#3b528b"/>
<rect x="396.38" y="637.71" width="10.32" height="5.41" fill="#fde525"/>
<rect x="406.1" y="637.71" width="5.46" height="5.41" fill="#440154"/>
<rect x="410.96" y="637.71" width="5.46" height="5.41" fill="#fde525"/>
<rect x="415.82" y="637.71" width="15.18" height="5.41" fill="#440154"/>
<rect x="430.4" y="637.71" width="5.46" height="5.41" fill="#23878c"/>
<rect x="435.26" y="637.71" width="5.46" height="5.41" fill="#440154"/>
<rect x="440.12" y="637.71" width="5.46" height="5.41" fill="#fde525"/>
<rect x="444.98" y="637.71" width="5.46" height="5.41" fill="#3b528b"/>
<rect x="449.84" y="637.71" width="10.32" height="5.41" fill="#fde525"/>
<rect x="459.56" y="637.71" width="5.46" height="5.41" fill="#23878c"/>
<rect x="464.42" y="637.71" width="5.46" height="5.41" fill="#d0d452"/>
<rect x="469.28" y="637.71" width="5.46" height="5.41" fill="#fde525"/>
<rect x="474.14" y="637.71" width="5.46" height="5.41" fill="#440154"/>
<rect x="479" y="637.71" width="4.86" height="5.41" fill="#23878c"/>
</g>
<text x="485.8" y="366.71" font-size="4.5" text-anchor="start" font-weight="normal" font-style="italic" fill="#111" stroke="#111" stroke-width="0.13" >OAS2</text>
<text x="485.8" y="372.12" font-size="4.5" text-anchor="start" font-weight="normal" font-style="italic" fill="#111" stroke="#111" stroke-width="0.13" >OAS1</text>
<text x="485.8" y="377.53" font-size="4.5" text-anchor="start" font-weight="normal" font-style="italic" fill="#111" stroke="#111" stroke-width="0.13" >OAS3</text>
<text x="485.8" y="382.94" font-size="4.5" text-anchor="start" font-weight="normal" font-style="italic" fill="#111" stroke="#111" stroke-width="0.13" >MX1</text>
<text x="485.8" y="388.35" font-size="4.5" text-anchor="start" font-weight="normal" font-style="italic" fill="#111" stroke="#111" stroke-width="0.13" >DDX58</text>
<text x="485.8" y="393.77" font-size="4.5" text-anchor="start" font-weight="normal" font-style="italic" fill="#111" stroke="#111" stroke-width="0.13" >IRF7</text>
<text x="485.8" y="399.18" font-size="4.5" text-anchor="start" font-weight="normal" font-style="italic" fill="#111" stroke="#111" stroke-width="0.13" >RSAD2</text>
<text x="485.8" y="404.59" font-size="4.5" text-anchor="start" font-weight="normal" font-style="italic" fill="#111" stroke="#111" stroke-width="0.13" >IFI6</text>
<text x="485.8" y="410" font-size="4.5" text-anchor="start" font-weight="normal" font-style="italic" fill="#111" stroke="#111" stroke-width="0.13" >USP18</text>
<text x="485.8" y="415.41" font-size="4.5" text-anchor="start" font-weight="normal" font-style="italic" fill="#111" stroke="#111" stroke-width="0.13" >SP100</text>
<text x="485.8" y="420.83" font-size="4.5" text-anchor="start" font-weight="normal" font-style="italic" fill="#111" stroke="#111" stroke-width="0.13" >IFIT2</text>
<text x="485.8" y="426.24" font-size="4.5" text-anchor="start" font-weight="normal" font-style="italic" fill="#111" stroke="#111" stroke-width="0.13" >IFIT3</text>
<text x="485.8" y="431.65" font-size="4.5" text-anchor="start" font-weight="normal" font-style="italic" fill="#111" stroke="#111" stroke-width="0.13" >TRIM21</text>
<text x="485.8" y="437.06" font-size="4.5" text-anchor="start" font-weight="normal" font-style="italic" fill="#111" stroke="#111" stroke-width="0.13" >PML</text>
<text x="485.8" y="442.47" font-size="4.5" text-anchor="start" font-weight="normal" font-style="italic" fill="#111" stroke="#111" stroke-width="0.13" >XAF1</text>
<text x="485.8" y="447.89" font-size="4.5" text-anchor="start" font-weight="normal" font-style="italic" fill="#111" stroke="#111" stroke-width="0.13" >IRF9</text>
<text x="485.8" y="453.3" font-size="4.5" text-anchor="start" font-weight="normal" font-style="italic" fill="#111" stroke="#111" stroke-width="0.13" >IFI27</text>
<text x="485.8" y="458.71" font-size="4.5" text-anchor="start" font-weight="normal" font-style="italic" fill="#111" stroke="#111" stroke-width="0.13" >IFITM1</text>
<text x="485.8" y="464.12" font-size="4.5" text-anchor="start" font-weight="normal" font-style="italic" fill="#111" stroke="#111" stroke-width="0.13" >IFI35</text>
<text x="485.8" y="469.53" font-size="4.5" text-anchor="start" font-weight="normal" font-style="italic" fill="#111" stroke="#111" stroke-width="0.13" >UBE2L6</text>
<text x="485.8" y="474.95" font-size="4.5" text-anchor="start" font-weight="normal" font-style="italic" fill="#111" stroke="#111" stroke-width="0.13" >STAT1</text>
<text x="485.8" y="480.36" font-size="4.5" text-anchor="start" font-weight="normal" font-style="italic" fill="#111" stroke="#111" stroke-width="0.13" >HERC5</text>
<text x="485.8" y="485.77" font-size="4.5" text-anchor="start" font-weight="normal" font-style="italic" fill="#111" stroke="#111" stroke-width="0.13" >EIF2AK2</text>
<text x="485.8" y="491.18" font-size="4.5" text-anchor="start" font-weight="normal" font-style="italic" fill="#111" stroke="#111" stroke-width="0.13" >MX2</text>
<text x="485.8" y="496.59" font-size="4.5" text-anchor="start" font-weight="normal" font-style="italic" fill="#111" stroke="#111" stroke-width="0.13" >STAT2</text>
<text x="485.8" y="502.01" font-size="4.5" text-anchor="start" font-weight="normal" font-style="italic" fill="#111" stroke="#111" stroke-width="0.13" >KPNA5</text>
<text x="485.8" y="507.42" font-size="4.5" text-anchor="start" font-weight="normal" font-style="italic" fill="#111" stroke="#111" stroke-width="0.13" >PLCG1</text>
<text x="485.8" y="512.83" font-size="4.5" text-anchor="start" font-weight="normal" font-style="italic" fill="#111" stroke="#111" stroke-width="0.13" >HLA−DRB5</text>
<text x="485.8" y="518.24" font-size="4.5" text-anchor="start" font-weight="normal" font-style="italic" fill="#111" stroke="#111" stroke-width="0.13" >HLA−DQA1</text>
<text x="485.8" y="523.65" font-size="4.5" text-anchor="start" font-weight="normal" font-style="italic" fill="#111" stroke="#111" stroke-width="0.13" >HLA−DRB1</text>
<text x="485.8" y="529.07" font-size="4.5" text-anchor="start" font-weight="normal" font-style="italic" fill="#111" stroke="#111" stroke-width="0.13" >HLA−DQB1</text>
<text x="485.8" y="534.48" font-size="4.5" text-anchor="start" font-weight="normal" font-style="italic" fill="#111" stroke="#111" stroke-width="0.13" >CIITA</text>
<text x="485.8" y="539.89" font-size="4.5" text-anchor="start" font-weight="normal" font-style="italic" fill="#111" stroke="#111" stroke-width="0.13" >IRF1</text>
<text x="485.8" y="545.3" font-size="4.5" text-anchor="start" font-weight="normal" font-style="italic" fill="#111" stroke="#111" stroke-width="0.13" >GBP4</text>
<text x="485.8" y="550.71" font-size="4.5" text-anchor="start" font-weight="normal" font-style="italic" fill="#111" stroke="#111" stroke-width="0.13" >IRF8</text>
<text x="485.8" y="556.13" font-size="4.5" text-anchor="start" font-weight="normal" font-style="italic" fill="#111" stroke="#111" stroke-width="0.13" >PTPN6</text>
<text x="485.8" y="561.54" font-size="4.5" text-anchor="start" font-weight="normal" font-style="italic" fill="#111" stroke="#111" stroke-width="0.13" >HLA−DRA</text>
<text x="485.8" y="566.95" font-size="4.5" text-anchor="start" font-weight="normal" font-style="italic" fill="#111" stroke="#111" stroke-width="0.13" >HLA−DPB1</text>
<text x="485.8" y="572.36" font-size="4.5" text-anchor="start" font-weight="normal" font-style="italic" fill="#111" stroke="#111" stroke-width="0.13" >HLA−DPA1</text>
<text x="485.8" y="577.77" font-size="4.5" text-anchor="start" font-weight="normal" font-style="italic" fill="#111" stroke="#111" stroke-width="0.13" >B2M</text>
<text x="485.8" y="583.19" font-size="4.5" text-anchor="start" font-weight="normal" font-style="italic" fill="#111" stroke="#111" stroke-width="0.13" >HLA−A</text>
<text x="485.8" y="588.6" font-size="4.5" text-anchor="start" font-weight="normal" font-style="italic" fill="#111" stroke="#111" stroke-width="0.13" >HLA−B</text>
<text x="485.8" y="594.01" font-size="4.5" text-anchor="start" font-weight="normal" font-style="italic" fill="#111" stroke="#111" stroke-width="0.13" >HLA−F</text>
<text x="485.8" y="599.42" font-size="4.5" text-anchor="start" font-weight="normal" font-style="italic" fill="#111" stroke="#111" stroke-width="0.13" >HLA−E</text>
<text x="485.8" y="604.83" font-size="4.5" text-anchor="start" font-weight="normal" font-style="italic" fill="#111" stroke="#111" stroke-width="0.13" >IFNAR1</text>
<text x="485.8" y="610.25" font-size="4.5" text-anchor="start" font-weight="normal" font-style="italic" fill="#111" stroke="#111" stroke-width="0.13" >EIF4E3</text>
<text x="485.8" y="615.66" font-size="4.5" text-anchor="start" font-weight="normal" font-style="italic" fill="#111" stroke="#111" stroke-width="0.13" >JAK2</text>
<text x="485.8" y="621.07" font-size="4.5" text-anchor="start" font-weight="normal" font-style="italic" fill="#111" stroke="#111" stroke-width="0.13" >IRF2</text>
<text x="485.8" y="626.48" font-size="4.5" text-anchor="start" font-weight="normal" font-style="italic" fill="#111" stroke="#111" stroke-width="0.13" >TRIM14</text>
<text x="485.8" y="631.89" font-size="4.5" text-anchor="start" font-weight="normal" font-style="italic" fill="#111" stroke="#111" stroke-width="0.13" >GBP3</text>
<text x="485.8" y="637.31" font-size="4.5" text-anchor="start" font-weight="normal" font-style="italic" fill="#111" stroke="#111" stroke-width="0.13" >TRIM22</text>
<text x="485.8" y="642.72" font-size="4.5" text-anchor="start" font-weight="normal" font-style="italic" fill="#111" stroke="#111" stroke-width="0.13" >UBA7</text>
<text x="485.8" y="343.9" font-size="5.5" text-anchor="start" font-weight="normal" font-style="normal" fill="#111" stroke="#111" stroke-width="0.22" >CD155 Score</text>
<text x="485.8" y="350.7" font-size="5.5" text-anchor="start" font-weight="normal" font-style="normal" fill="#111" stroke="#111" stroke-width="0.22" >PDL1 Status</text>
<text x="485.8" y="357.2" font-size="5.5" text-anchor="start" font-weight="normal" font-style="normal" fill="#111" stroke="#111" stroke-width="0.22" >Response</text>
<path d="M284.4 364.7 H282.6 V381 H284.4" stroke="#a8a8a8" stroke-width="0.4" fill="none" />
<path d="M284.4 392 H282 V421 H284.4" stroke="#a8a8a8" stroke-width="0.4" fill="none" />
<path d="M282.6 372 H280.6 V406 H282" stroke="#a8a8a8" stroke-width="0.4" fill="none" />
<path d="M284.4 430 H282.4 V462 H284.4" stroke="#a8a8a8" stroke-width="0.4" fill="none" />
<path d="M280.6 390 H278.6 V446 H282.4" stroke="#a8a8a8" stroke-width="0.4" fill="none" />
<path d="M284.4 470 H281.6 V500 H284.4" stroke="#a8a8a8" stroke-width="0.4" fill="none" />
<path d="M278.6 418 H276.4 V486 H281.6" stroke="#a8a8a8" stroke-width="0.4" fill="none" />
<path d="M284.4 508 H282.4 V531 H284.4" stroke="#a8a8a8" stroke-width="0.4" fill="none" />
<path d="M284.4 537 H282.6 V566 H284.4" stroke="#a8a8a8" stroke-width="0.4" fill="none" />
<path d="M282.4 520 H279.4 V551 H282.6" stroke="#a8a8a8" stroke-width="0.4" fill="none" />
<path d="M284.4 577 H282.2 V604 H284.4" stroke="#a8a8a8" stroke-width="0.4" fill="none" />
<path d="M284.4 610 H282.6 V640.4 H284.4" stroke="#a8a8a8" stroke-width="0.4" fill="none" />
<path d="M282.2 590 H280.4 V625 H282.6" stroke="#a8a8a8" stroke-width="0.4" fill="none" />
<path d="M279.4 536 H277.6 V607 H280.4" stroke="#a8a8a8" stroke-width="0.4" fill="none" />
<path d="M276.4 452 H273.4 V569 H277.6" stroke="#a8a8a8" stroke-width="0.4" fill="none" />
<line x1="283.4" y1="364.41" x2="284.6" y2="364.41" stroke="#a8a8a8" stroke-width="0.3" />
<line x1="283.7" y1="369.82" x2="284.6" y2="369.82" stroke="#a8a8a8" stroke-width="0.3" />
<line x1="284" y1="375.23" x2="284.6" y2="375.23" stroke="#a8a8a8" stroke-width="0.3" />
<line x1="283.4" y1="380.64" x2="284.6" y2="380.64" stroke="#a8a8a8" stroke-width="0.3" />
<line x1="283.7" y1="386.05" x2="284.6" y2="386.05" stroke="#a8a8a8" stroke-width="0.3" />
<line x1="284" y1="391.47" x2="284.6" y2="391.47" stroke="#a8a8a8" stroke-width="0.3" />
<line x1="283.4" y1="396.88" x2="284.6" y2="396.88" stroke="#a8a8a8" stroke-width="0.3" />
<line x1="283.7" y1="402.29" x2="284.6" y2="402.29" stroke="#a8a8a8" stroke-width="0.3" />
<line x1="284" y1="407.7" x2="284.6" y2="407.7" stroke="#a8a8a8" stroke-width="0.3" />
<line x1="283.4" y1="413.11" x2="284.6" y2="413.11" stroke="#a8a8a8" stroke-width="0.3" />
<line x1="283.7" y1="418.53" x2="284.6" y2="418.53" stroke="#a8a8a8" stroke-width="0.3" />
<line x1="284" y1="423.94" x2="284.6" y2="423.94" stroke="#a8a8a8" stroke-width="0.3" />
<line x1="283.4" y1="429.35" x2="284.6" y2="429.35" stroke="#a8a8a8" stroke-width="0.3" />
<line x1="283.7" y1="434.76" x2="284.6" y2="434.76" stroke="#a8a8a8" stroke-width="0.3" />
<line x1="284" y1="440.17" x2="284.6" y2="440.17" stroke="#a8a8a8" stroke-width="0.3" />
<line x1="283.4" y1="445.59" x2="284.6" y2="445.59" stroke="#a8a8a8" stroke-width="0.3" />
<line x1="283.7" y1="451" x2="284.6" y2="451" stroke="#a8a8a8" stroke-width="0.3" />
<line x1="284" y1="456.41" x2="284.6" y2="456.41" stroke="#a8a8a8" stroke-width="0.3" />
<line x1="283.4" y1="461.82" x2="284.6" y2="461.82" stroke="#a8a8a8" stroke-width="0.3" />
<line x1="283.7" y1="467.23" x2="284.6" y2="467.23" stroke="#a8a8a8" stroke-width="0.3" />
<line x1="284" y1="472.65" x2="284.6" y2="472.65" stroke="#a8a8a8" stroke-width="0.3" />
<line x1="283.4" y1="478.06" x2="284.6" y2="478.06" stroke="#a8a8a8" stroke-width="0.3" />
<line x1="283.7" y1="483.47" x2="284.6" y2="483.47" stroke="#a8a8a8" stroke-width="0.3" />
<line x1="284" y1="488.88" x2="284.6" y2="488.88" stroke="#a8a8a8" stroke-width="0.3" />
<line x1="283.4" y1="494.29" x2="284.6" y2="494.29" stroke="#a8a8a8" stroke-width="0.3" />
<line x1="283.7" y1="499.71" x2="284.6" y2="499.71" stroke="#a8a8a8" stroke-width="0.3" />
<line x1="284" y1="505.12" x2="284.6" y2="505.12" stroke="#a8a8a8" stroke-width="0.3" />
<line x1="283.4" y1="510.53" x2="284.6" y2="510.53" stroke="#a8a8a8" stroke-width="0.3" />
<line x1="283.7" y1="515.94" x2="284.6" y2="515.94" stroke="#a8a8a8" stroke-width="0.3" />
<line x1="284" y1="521.35" x2="284.6" y2="521.35" stroke="#a8a8a8" stroke-width="0.3" />
<line x1="283.4" y1="526.77" x2="284.6" y2="526.77" stroke="#a8a8a8" stroke-width="0.3" />
<line x1="283.7" y1="532.18" x2="284.6" y2="532.18" stroke="#a8a8a8" stroke-width="0.3" />
<line x1="284" y1="537.59" x2="284.6" y2="537.59" stroke="#a8a8a8" stroke-width="0.3" />
<line x1="283.4" y1="543" x2="284.6" y2="543" stroke="#a8a8a8" stroke-width="0.3" />
<line x1="283.7" y1="548.41" x2="284.6" y2="548.41" stroke="#a8a8a8" stroke-width="0.3" />
<line x1="284" y1="553.83" x2="284.6" y2="553.83" stroke="#a8a8a8" stroke-width="0.3" />
<line x1="283.4" y1="559.24" x2="284.6" y2="559.24" stroke="#a8a8a8" stroke-width="0.3" />
<line x1="283.7" y1="564.65" x2="284.6" y2="564.65" stroke="#a8a8a8" stroke-width="0.3" />
<line x1="284" y1="570.06" x2="284.6" y2="570.06" stroke="#a8a8a8" stroke-width="0.3" />
<line x1="283.4" y1="575.47" x2="284.6" y2="575.47" stroke="#a8a8a8" stroke-width="0.3" />
<line x1="283.7" y1="580.89" x2="284.6" y2="580.89" stroke="#a8a8a8" stroke-width="0.3" />
<line x1="284" y1="586.3" x2="284.6" y2="586.3" stroke="#a8a8a8" stroke-width="0.3" />
<line x1="283.4" y1="591.71" x2="284.6" y2="591.71" stroke="#a8a8a8" stroke-width="0.3" />
<line x1="283.7" y1="597.12" x2="284.6" y2="597.12" stroke="#a8a8a8" stroke-width="0.3" />
<line x1="284" y1="602.53" x2="284.6" y2="602.53" stroke="#a8a8a8" stroke-width="0.3" />
<line x1="283.4" y1="607.95" x2="284.6" y2="607.95" stroke="#a8a8a8" stroke-width="0.3" />
<line x1="283.7" y1="613.36" x2="284.6" y2="613.36" stroke="#a8a8a8" stroke-width="0.3" />
<line x1="284" y1="618.77" x2="284.6" y2="618.77" stroke="#a8a8a8" stroke-width="0.3" />
<line x1="283.4" y1="624.18" x2="284.6" y2="624.18" stroke="#a8a8a8" stroke-width="0.3" />
<line x1="283.7" y1="629.59" x2="284.6" y2="629.59" stroke="#a8a8a8" stroke-width="0.3" />
<line x1="284" y1="635.01" x2="284.6" y2="635.01" stroke="#a8a8a8" stroke-width="0.3" />
<line x1="283.4" y1="640.42" x2="284.6" y2="640.42" stroke="#a8a8a8" stroke-width="0.3" />
<text x="299.2" y="651.2" font-size="5.4" text-anchor="start" font-weight="normal" font-style="normal" fill="#111" stroke="#111" stroke-width="0.22" >Counts</text>
<rect x="284.3" y="654.2" width="39.5" height="2.7" fill="url(#vir)"/>
<text x="286.6" y="661.6" font-size="4.2" text-anchor="middle" font-weight="normal" font-style="normal" fill="#111" stroke="#111" stroke-width="0.13" >−1</text>
<text x="296.3" y="661.6" font-size="4.2" text-anchor="middle" font-weight="normal" font-style="normal" fill="#111" stroke="#111" stroke-width="0.13" >−0.5</text>
<text x="305" y="661.6" font-size="4.2" text-anchor="middle" font-weight="normal" font-style="normal" fill="#111" stroke="#111" stroke-width="0.13" >0</text>
<text x="313.8" y="661.6" font-size="4.2" text-anchor="middle" font-weight="normal" font-style="normal" fill="#111" stroke="#111" stroke-width="0.13" >0.5</text>
<text x="323" y="661.6" font-size="4.2" text-anchor="middle" font-weight="normal" font-style="normal" fill="#111" stroke="#111" stroke-width="0.13" >1</text>
<text x="339.8" y="651.2" font-size="5.4" text-anchor="start" font-weight="normal" font-style="normal" fill="#111" stroke="#111" stroke-width="0.22" >CD155 Score</text>
<rect x="335.3" y="654.8" width="3" height="3" fill="#84cdbd" />
<text x="338.9" y="657.8" font-size="4.2" text-anchor="start" font-weight="normal" font-style="normal" fill="#111" stroke="#111" stroke-width="0.13" >0+</text>
<rect x="346.8" y="654.8" width="3" height="3" fill="#6aa5dc" />
<text x="350.4" y="657.8" font-size="4.2" text-anchor="start" font-weight="normal" font-style="normal" fill="#111" stroke="#111" stroke-width="0.13" >1+</text>
<rect x="359.3" y="654.8" width="3" height="3" fill="#fbae5e" />
<text x="362.9" y="657.8" font-size="4.2" text-anchor="start" font-weight="normal" font-style="normal" fill="#111" stroke="#111" stroke-width="0.13" >2+</text>
<rect x="371" y="654.8" width="3" height="3" fill="#f56c68" />
<text x="374.6" y="657.8" font-size="4.2" text-anchor="start" font-weight="normal" font-style="normal" fill="#111" stroke="#111" stroke-width="0.13" >3+</text>
<text x="391.8" y="650.6" font-size="5.4" text-anchor="start" font-weight="normal" font-style="normal" fill="#111" stroke="#111" stroke-width="0.22" >PDL1 Status</text>
<rect x="391.4" y="653.2" width="3.1" height="3.1" fill="#f7c3df" />
<text x="396.7" y="656.1" font-size="4.1" text-anchor="start" font-weight="normal" font-style="normal" fill="#111" stroke="#111" stroke-width="0.13" >Negative</text>
<rect x="391.4" y="658.3" width="3.1" height="3.1" fill="#fff0ad" />
<text x="396.7" y="661.2" font-size="4.1" text-anchor="start" font-weight="normal" font-style="normal" fill="#111" stroke="#111" stroke-width="0.13" >Positive</text>
<rect x="391.4" y="663.7" width="3.1" height="3.1" fill="#e3e1ef" />
<text x="396.7" y="666.6" font-size="4.1" text-anchor="start" font-weight="normal" font-style="normal" fill="#111" stroke="#111" stroke-width="0.13" >NA</text>
<text x="433.6" y="650.6" font-size="5.4" text-anchor="start" font-weight="normal" font-style="normal" fill="#111" stroke="#111" stroke-width="0.22" >Response</text>
<rect x="433.6" y="653.2" width="3.1" height="3.1" fill="#aee3d2" />
<text x="439.2" y="656.2" font-size="4.4" text-anchor="start" font-weight="normal" font-style="normal" fill="#111" stroke="#111" stroke-width="0.13" >Response &gt; 6 months</text>
<rect x="433.6" y="659.6" width="3.1" height="3.1" fill="#fdcfa8" />
<text x="439.2" y="662.6" font-size="4.4" text-anchor="start" font-weight="normal" font-style="normal" fill="#111" stroke="#111" stroke-width="0.13" >Response &lt; 6 months</text>
</svg>
</body></html>
